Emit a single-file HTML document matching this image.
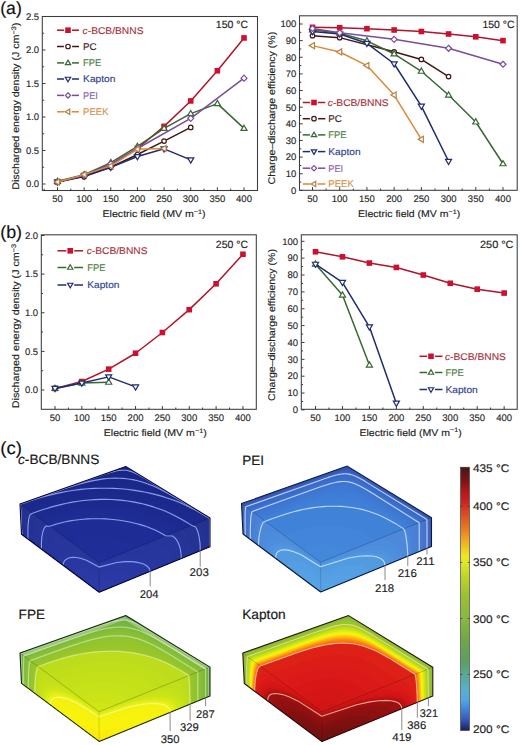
<!DOCTYPE html>
<html><head><meta charset="utf-8"><title>Figure</title>
<style>html,body{margin:0;padding:0;background:#fff;width:520px;height:745px;overflow:hidden}svg{display:block}text{stroke:currentColor;stroke-width:0.15px}</style>
</head><body>
<svg width="520" height="745" viewBox="0 0 520 745" font-family='"Liberation Sans", sans-serif' text-rendering="geometricPrecision">
<rect width="520" height="745" fill="#fff"/>
<text x="0.20" y="14.30" font-size="17.5" fill="#111" color="#111" textLength="21.60" lengthAdjust="spacingAndGlyphs">(a)</text><text x="0.20" y="238.10" font-size="17.5" fill="#111" color="#111" textLength="21.80" lengthAdjust="spacingAndGlyphs">(b)</text><text x="0.20" y="453.60" font-size="17.5" fill="#111" color="#111" textLength="21.70" lengthAdjust="spacingAndGlyphs">(c)</text>
<rect x="42.3" y="16.5" width="215.20" height="174.00" fill="none" stroke="#3c3c3c" stroke-width="1.05"/><line x1="57.50" y1="190.5" x2="57.50" y2="187.3" stroke="#3c3c3c" stroke-width="1"/><text x="57.50" y="201.60" font-size="9.5" fill="#2a2a2a" color="#2a2a2a" text-anchor="middle" >50</text><line x1="84.15" y1="190.5" x2="84.15" y2="187.3" stroke="#3c3c3c" stroke-width="1"/><text x="84.15" y="201.60" font-size="9.5" fill="#2a2a2a" color="#2a2a2a" text-anchor="middle" >100</text><line x1="110.79" y1="190.5" x2="110.79" y2="187.3" stroke="#3c3c3c" stroke-width="1"/><text x="110.79" y="201.60" font-size="9.5" fill="#2a2a2a" color="#2a2a2a" text-anchor="middle" >150</text><line x1="137.44" y1="190.5" x2="137.44" y2="187.3" stroke="#3c3c3c" stroke-width="1"/><text x="137.44" y="201.60" font-size="9.5" fill="#2a2a2a" color="#2a2a2a" text-anchor="middle" >200</text><line x1="164.08" y1="190.5" x2="164.08" y2="187.3" stroke="#3c3c3c" stroke-width="1"/><text x="164.08" y="201.60" font-size="9.5" fill="#2a2a2a" color="#2a2a2a" text-anchor="middle" >250</text><line x1="190.73" y1="190.5" x2="190.73" y2="187.3" stroke="#3c3c3c" stroke-width="1"/><text x="190.73" y="201.60" font-size="9.5" fill="#2a2a2a" color="#2a2a2a" text-anchor="middle" >300</text><line x1="217.37" y1="190.5" x2="217.37" y2="187.3" stroke="#3c3c3c" stroke-width="1"/><text x="217.37" y="201.60" font-size="9.5" fill="#2a2a2a" color="#2a2a2a" text-anchor="middle" >350</text><line x1="244.02" y1="190.5" x2="244.02" y2="187.3" stroke="#3c3c3c" stroke-width="1"/><text x="244.02" y="201.60" font-size="9.5" fill="#2a2a2a" color="#2a2a2a" text-anchor="middle" >400</text><line x1="44.18" y1="190.5" x2="44.18" y2="188.7" stroke="#3c3c3c" stroke-width="1"/><line x1="70.82" y1="190.5" x2="70.82" y2="188.7" stroke="#3c3c3c" stroke-width="1"/><line x1="97.47" y1="190.5" x2="97.47" y2="188.7" stroke="#3c3c3c" stroke-width="1"/><line x1="124.11" y1="190.5" x2="124.11" y2="188.7" stroke="#3c3c3c" stroke-width="1"/><line x1="150.76" y1="190.5" x2="150.76" y2="188.7" stroke="#3c3c3c" stroke-width="1"/><line x1="177.40" y1="190.5" x2="177.40" y2="188.7" stroke="#3c3c3c" stroke-width="1"/><line x1="204.05" y1="190.5" x2="204.05" y2="188.7" stroke="#3c3c3c" stroke-width="1"/><line x1="230.69" y1="190.5" x2="230.69" y2="188.7" stroke="#3c3c3c" stroke-width="1"/><line x1="42.3" y1="184.00" x2="45.5" y2="184.00" stroke="#3c3c3c" stroke-width="1"/><text x="39.10" y="187.30" font-size="9.5" fill="#2a2a2a" color="#2a2a2a" text-anchor="end" >0.0</text><line x1="42.3" y1="150.50" x2="45.5" y2="150.50" stroke="#3c3c3c" stroke-width="1"/><text x="39.10" y="153.80" font-size="9.5" fill="#2a2a2a" color="#2a2a2a" text-anchor="end" >0.5</text><line x1="42.3" y1="117.00" x2="45.5" y2="117.00" stroke="#3c3c3c" stroke-width="1"/><text x="39.10" y="120.30" font-size="9.5" fill="#2a2a2a" color="#2a2a2a" text-anchor="end" >1.0</text><line x1="42.3" y1="83.50" x2="45.5" y2="83.50" stroke="#3c3c3c" stroke-width="1"/><text x="39.10" y="86.80" font-size="9.5" fill="#2a2a2a" color="#2a2a2a" text-anchor="end" >1.5</text><line x1="42.3" y1="50.00" x2="45.5" y2="50.00" stroke="#3c3c3c" stroke-width="1"/><text x="39.10" y="53.30" font-size="9.5" fill="#2a2a2a" color="#2a2a2a" text-anchor="end" >2.0</text><line x1="42.3" y1="16.50" x2="45.5" y2="16.50" stroke="#3c3c3c" stroke-width="1"/><text x="39.10" y="19.80" font-size="9.5" fill="#2a2a2a" color="#2a2a2a" text-anchor="end" >2.5</text><line x1="42.3" y1="167.25" x2="44.099999999999994" y2="167.25" stroke="#3c3c3c" stroke-width="1"/><line x1="42.3" y1="133.75" x2="44.099999999999994" y2="133.75" stroke="#3c3c3c" stroke-width="1"/><line x1="42.3" y1="100.25" x2="44.099999999999994" y2="100.25" stroke="#3c3c3c" stroke-width="1"/><line x1="42.3" y1="66.75" x2="44.099999999999994" y2="66.75" stroke="#3c3c3c" stroke-width="1"/><line x1="42.3" y1="33.25" x2="44.099999999999994" y2="33.25" stroke="#3c3c3c" stroke-width="1"/><text x="102.50" y="217.10" font-size="9.7" fill="#222" color="#222" textLength="103.10" lengthAdjust="spacingAndGlyphs">Electric field (MV m<tspan dy="-3.4" font-size="6.6">&#8722;1</tspan><tspan dy="3.4">)</tspan></text><text x="0" y="0" font-size="9.7" fill="#222" color="#222" textLength="167.00" lengthAdjust="spacingAndGlyphs" transform="translate(19.4,189.7) rotate(-90)">Discharged energy density (J cm<tspan dy="-3.4" font-size="6.6">&#8722;3</tspan><tspan dy="3.4">)</tspan></text><polyline points="57.50,181.99 84.15,175.29 110.79,165.24 137.44,148.49 164.08,126.38 190.73,100.92 217.37,70.77 244.02,37.94" fill="none" stroke="#b0142a" stroke-width="1.5" stroke-linejoin="round"/><rect x="54.70" y="179.19" width="5.60" height="5.60" fill="#cc1030"/><rect x="81.35" y="172.49" width="5.60" height="5.60" fill="#cc1030"/><rect x="107.99" y="162.44" width="5.60" height="5.60" fill="#cc1030"/><rect x="134.63" y="145.69" width="5.60" height="5.60" fill="#cc1030"/><rect x="161.28" y="123.58" width="5.60" height="5.60" fill="#cc1030"/><rect x="187.93" y="98.12" width="5.60" height="5.60" fill="#cc1030"/><rect x="214.57" y="67.97" width="5.60" height="5.60" fill="#cc1030"/><rect x="241.22" y="35.14" width="5.60" height="5.60" fill="#cc1030"/><polyline points="57.50,181.99 84.15,176.63 110.79,167.25 137.44,154.52 164.08,141.12 190.73,127.39" fill="none" stroke="#401616" stroke-width="1.5" stroke-linejoin="round"/><circle cx="57.50" cy="181.99" r="2.25" fill="#fff" stroke="#401616" stroke-width="1.2"/><circle cx="84.15" cy="176.63" r="2.25" fill="#fff" stroke="#401616" stroke-width="1.2"/><circle cx="110.79" cy="167.25" r="2.25" fill="#fff" stroke="#401616" stroke-width="1.2"/><circle cx="137.44" cy="154.52" r="2.25" fill="#fff" stroke="#401616" stroke-width="1.2"/><circle cx="164.08" cy="141.12" r="2.25" fill="#fff" stroke="#401616" stroke-width="1.2"/><circle cx="190.73" cy="127.39" r="2.25" fill="#fff" stroke="#401616" stroke-width="1.2"/><polyline points="57.50,181.32 84.15,174.62 110.79,162.56 137.44,146.48 164.08,128.39 190.73,113.65 217.37,103.60 244.02,128.39" fill="none" stroke="#366832" stroke-width="1.5" stroke-linejoin="round"/><polygon points="57.50,178.12 60.54,183.30 54.46,183.30" fill="#fff" stroke="#366832" stroke-width="1.2"/><polygon points="84.15,171.42 87.19,176.60 81.11,176.60" fill="#fff" stroke="#366832" stroke-width="1.2"/><polygon points="110.79,159.36 113.83,164.54 107.75,164.54" fill="#fff" stroke="#366832" stroke-width="1.2"/><polygon points="137.44,143.28 140.47,148.46 134.40,148.46" fill="#fff" stroke="#366832" stroke-width="1.2"/><polygon points="164.08,125.19 167.12,130.37 161.04,130.37" fill="#fff" stroke="#366832" stroke-width="1.2"/><polygon points="190.73,110.45 193.77,115.63 187.69,115.63" fill="#fff" stroke="#366832" stroke-width="1.2"/><polygon points="217.37,100.40 220.41,105.58 214.33,105.58" fill="#fff" stroke="#366832" stroke-width="1.2"/><polygon points="244.02,125.19 247.06,130.37 240.98,130.37" fill="#fff" stroke="#366832" stroke-width="1.2"/><polyline points="57.50,181.99 84.15,175.96 110.79,167.25 137.44,156.53 164.08,148.82 190.73,159.88" fill="none" stroke="#1e2c72" stroke-width="1.5" stroke-linejoin="round"/><polygon points="57.50,185.19 60.54,180.01 54.46,180.01" fill="#fff" stroke="#1e2c72" stroke-width="1.2"/><polygon points="84.15,179.16 87.19,173.98 81.11,173.98" fill="#fff" stroke="#1e2c72" stroke-width="1.2"/><polygon points="110.79,170.45 113.83,165.27 107.75,165.27" fill="#fff" stroke="#1e2c72" stroke-width="1.2"/><polygon points="137.44,159.73 140.47,154.55 134.40,154.55" fill="#fff" stroke="#1e2c72" stroke-width="1.2"/><polygon points="164.08,152.02 167.12,146.84 161.04,146.84" fill="#fff" stroke="#1e2c72" stroke-width="1.2"/><polygon points="190.73,163.08 193.77,157.90 187.69,157.90" fill="#fff" stroke="#1e2c72" stroke-width="1.2"/><polyline points="57.50,181.99 84.15,175.29 110.79,163.90 137.44,148.49 190.73,118.34 244.02,78.14" fill="none" stroke="#7c4c9c" stroke-width="1.5" stroke-linejoin="round"/><polygon points="57.50,178.99 60.50,181.99 57.50,184.99 54.50,181.99" fill="#fff" stroke="#7c4c9c" stroke-width="1.2"/><polygon points="84.15,172.29 87.15,175.29 84.15,178.29 81.15,175.29" fill="#fff" stroke="#7c4c9c" stroke-width="1.2"/><polygon points="110.79,160.90 113.79,163.90 110.79,166.90 107.79,163.90" fill="#fff" stroke="#7c4c9c" stroke-width="1.2"/><polygon points="137.44,145.49 140.44,148.49 137.44,151.49 134.44,148.49" fill="#fff" stroke="#7c4c9c" stroke-width="1.2"/><polygon points="190.73,115.34 193.73,118.34 190.73,121.34 187.73,118.34" fill="#fff" stroke="#7c4c9c" stroke-width="1.2"/><polygon points="244.02,75.14 247.02,78.14 244.02,81.14 241.02,78.14" fill="#fff" stroke="#7c4c9c" stroke-width="1.2"/><polyline points="57.50,181.99 84.15,174.62 110.79,165.91 137.44,149.16 164.08,148.49" fill="none" stroke="#dc8a36" stroke-width="1.5" stroke-linejoin="round"/><polygon points="54.30,181.99 59.48,178.95 59.48,185.03" fill="#fff" stroke="#b88040" stroke-width="1.2"/><polygon points="80.95,174.62 86.13,171.58 86.13,177.66" fill="#fff" stroke="#b88040" stroke-width="1.2"/><polygon points="107.59,165.91 112.77,162.87 112.77,168.95" fill="#fff" stroke="#b88040" stroke-width="1.2"/><polygon points="134.24,149.16 139.42,146.12 139.42,152.20" fill="#fff" stroke="#b88040" stroke-width="1.2"/><polygon points="160.88,148.49 166.06,145.45 166.06,151.53" fill="#fff" stroke="#b88040" stroke-width="1.2"/><line x1="57" y1="30.20" x2="64.05" y2="30.20" stroke="#b0142a" stroke-width="1.5"/><line x1="71.95" y1="30.20" x2="79" y2="30.20" stroke="#b0142a" stroke-width="1.5"/><rect x="65.20" y="27.40" width="5.60" height="5.60" fill="#cc1030"/><text x="82.60" y="33.50" font-size="9.7" fill="#a83440" color="#a83440" textLength="60.90" lengthAdjust="spacingAndGlyphs"><tspan font-style="italic">c</tspan>-BCB/BNNS</text><line x1="57" y1="46.50" x2="63.90" y2="46.50" stroke="#401616" stroke-width="1.5"/><line x1="72.10" y1="46.50" x2="79" y2="46.50" stroke="#401616" stroke-width="1.5"/><circle cx="68.00" cy="46.50" r="2.25" fill="#fff" stroke="#401616" stroke-width="1.2"/><text x="83.10" y="49.80" font-size="9.7" fill="#3e2424" color="#3e2424" textLength="13.60" lengthAdjust="spacingAndGlyphs">PC</text><line x1="57" y1="62.90" x2="64.06" y2="62.90" stroke="#366832" stroke-width="1.5"/><line x1="71.94" y1="62.90" x2="79" y2="62.90" stroke="#366832" stroke-width="1.5"/><polygon points="68.00,60.08 70.68,64.65 65.32,64.65" fill="#fff" stroke="#366832" stroke-width="1.2"/><text x="83.10" y="66.20" font-size="9.7" fill="#4c7e44" color="#4c7e44" textLength="18.30" lengthAdjust="spacingAndGlyphs">FPE</text><line x1="57" y1="79.00" x2="64.06" y2="79.00" stroke="#1e2c72" stroke-width="1.5"/><line x1="71.94" y1="79.00" x2="79" y2="79.00" stroke="#1e2c72" stroke-width="1.5"/><polygon points="68.00,81.82 70.68,77.25 65.32,77.25" fill="#fff" stroke="#1e2c72" stroke-width="1.2"/><text x="83.10" y="82.30" font-size="9.7" fill="#2e4290" color="#2e4290" textLength="32.30" lengthAdjust="spacingAndGlyphs">Kapton</text><line x1="57" y1="95.40" x2="64.06" y2="95.40" stroke="#7c4c9c" stroke-width="1.5"/><line x1="71.94" y1="95.40" x2="79" y2="95.40" stroke="#7c4c9c" stroke-width="1.5"/><polygon points="68.00,92.76 70.64,95.40 68.00,98.04 65.36,95.40" fill="#fff" stroke="#7c4c9c" stroke-width="1.2"/><text x="83.10" y="98.70" font-size="9.7" fill="#8a62a8" color="#8a62a8" textLength="14.80" lengthAdjust="spacingAndGlyphs">PEI</text><line x1="57" y1="111.80" x2="64.41" y2="111.80" stroke="#dc8a36" stroke-width="1.5"/><line x1="71.59" y1="111.80" x2="79" y2="111.80" stroke="#dc8a36" stroke-width="1.5"/><polygon points="65.18,111.80 69.75,109.12 69.75,114.48" fill="#fff" stroke="#b88040" stroke-width="1.2"/><text x="83.10" y="115.10" font-size="9.7" fill="#d8924a" color="#d8924a" textLength="25.50" lengthAdjust="spacingAndGlyphs">PEEK</text><text x="215.80" y="27.80" font-size="10.5" fill="#222" color="#222" textLength="32.20" lengthAdjust="spacingAndGlyphs">150 &#176;C</text>
<rect x="299.5" y="15.8" width="217.70" height="174.50" fill="none" stroke="#3c3c3c" stroke-width="1.05"/><line x1="312.50" y1="190.3" x2="312.50" y2="187.10000000000002" stroke="#3c3c3c" stroke-width="1"/><text x="312.50" y="201.60" font-size="9.5" fill="#2a2a2a" color="#2a2a2a" text-anchor="middle" >50</text><line x1="339.71" y1="190.3" x2="339.71" y2="187.10000000000002" stroke="#3c3c3c" stroke-width="1"/><text x="339.71" y="201.60" font-size="9.5" fill="#2a2a2a" color="#2a2a2a" text-anchor="middle" >100</text><line x1="366.93" y1="190.3" x2="366.93" y2="187.10000000000002" stroke="#3c3c3c" stroke-width="1"/><text x="366.93" y="201.60" font-size="9.5" fill="#2a2a2a" color="#2a2a2a" text-anchor="middle" >150</text><line x1="394.14" y1="190.3" x2="394.14" y2="187.10000000000002" stroke="#3c3c3c" stroke-width="1"/><text x="394.14" y="201.60" font-size="9.5" fill="#2a2a2a" color="#2a2a2a" text-anchor="middle" >200</text><line x1="421.36" y1="190.3" x2="421.36" y2="187.10000000000002" stroke="#3c3c3c" stroke-width="1"/><text x="421.36" y="201.60" font-size="9.5" fill="#2a2a2a" color="#2a2a2a" text-anchor="middle" >250</text><line x1="448.57" y1="190.3" x2="448.57" y2="187.10000000000002" stroke="#3c3c3c" stroke-width="1"/><text x="448.57" y="201.60" font-size="9.5" fill="#2a2a2a" color="#2a2a2a" text-anchor="middle" >300</text><line x1="475.79" y1="190.3" x2="475.79" y2="187.10000000000002" stroke="#3c3c3c" stroke-width="1"/><text x="475.79" y="201.60" font-size="9.5" fill="#2a2a2a" color="#2a2a2a" text-anchor="middle" >350</text><line x1="503.00" y1="190.3" x2="503.00" y2="187.10000000000002" stroke="#3c3c3c" stroke-width="1"/><text x="503.00" y="201.60" font-size="9.5" fill="#2a2a2a" color="#2a2a2a" text-anchor="middle" >400</text><line x1="326.11" y1="190.3" x2="326.11" y2="188.5" stroke="#3c3c3c" stroke-width="1"/><line x1="353.32" y1="190.3" x2="353.32" y2="188.5" stroke="#3c3c3c" stroke-width="1"/><line x1="380.54" y1="190.3" x2="380.54" y2="188.5" stroke="#3c3c3c" stroke-width="1"/><line x1="407.75" y1="190.3" x2="407.75" y2="188.5" stroke="#3c3c3c" stroke-width="1"/><line x1="434.97" y1="190.3" x2="434.97" y2="188.5" stroke="#3c3c3c" stroke-width="1"/><line x1="462.18" y1="190.3" x2="462.18" y2="188.5" stroke="#3c3c3c" stroke-width="1"/><line x1="489.40" y1="190.3" x2="489.40" y2="188.5" stroke="#3c3c3c" stroke-width="1"/><line x1="299.5" y1="190.40" x2="302.7" y2="190.40" stroke="#3c3c3c" stroke-width="1"/><text x="296.30" y="193.70" font-size="9.5" fill="#2a2a2a" color="#2a2a2a" text-anchor="end" >0</text><line x1="299.5" y1="173.76" x2="302.7" y2="173.76" stroke="#3c3c3c" stroke-width="1"/><text x="296.30" y="177.06" font-size="9.5" fill="#2a2a2a" color="#2a2a2a" text-anchor="end" >10</text><line x1="299.5" y1="157.12" x2="302.7" y2="157.12" stroke="#3c3c3c" stroke-width="1"/><text x="296.30" y="160.42" font-size="9.5" fill="#2a2a2a" color="#2a2a2a" text-anchor="end" >20</text><line x1="299.5" y1="140.48" x2="302.7" y2="140.48" stroke="#3c3c3c" stroke-width="1"/><text x="296.30" y="143.78" font-size="9.5" fill="#2a2a2a" color="#2a2a2a" text-anchor="end" >30</text><line x1="299.5" y1="123.84" x2="302.7" y2="123.84" stroke="#3c3c3c" stroke-width="1"/><text x="296.30" y="127.14" font-size="9.5" fill="#2a2a2a" color="#2a2a2a" text-anchor="end" >40</text><line x1="299.5" y1="107.20" x2="302.7" y2="107.20" stroke="#3c3c3c" stroke-width="1"/><text x="296.30" y="110.50" font-size="9.5" fill="#2a2a2a" color="#2a2a2a" text-anchor="end" >50</text><line x1="299.5" y1="90.56" x2="302.7" y2="90.56" stroke="#3c3c3c" stroke-width="1"/><text x="296.30" y="93.86" font-size="9.5" fill="#2a2a2a" color="#2a2a2a" text-anchor="end" >60</text><line x1="299.5" y1="73.92" x2="302.7" y2="73.92" stroke="#3c3c3c" stroke-width="1"/><text x="296.30" y="77.22" font-size="9.5" fill="#2a2a2a" color="#2a2a2a" text-anchor="end" >70</text><line x1="299.5" y1="57.28" x2="302.7" y2="57.28" stroke="#3c3c3c" stroke-width="1"/><text x="296.30" y="60.58" font-size="9.5" fill="#2a2a2a" color="#2a2a2a" text-anchor="end" >80</text><line x1="299.5" y1="40.64" x2="302.7" y2="40.64" stroke="#3c3c3c" stroke-width="1"/><text x="296.30" y="43.94" font-size="9.5" fill="#2a2a2a" color="#2a2a2a" text-anchor="end" >90</text><line x1="299.5" y1="24.00" x2="302.7" y2="24.00" stroke="#3c3c3c" stroke-width="1"/><text x="296.30" y="27.30" font-size="9.5" fill="#2a2a2a" color="#2a2a2a" text-anchor="end" >100</text><line x1="299.5" y1="182.08" x2="301.3" y2="182.08" stroke="#3c3c3c" stroke-width="1"/><line x1="299.5" y1="165.44" x2="301.3" y2="165.44" stroke="#3c3c3c" stroke-width="1"/><line x1="299.5" y1="148.80" x2="301.3" y2="148.80" stroke="#3c3c3c" stroke-width="1"/><line x1="299.5" y1="132.16" x2="301.3" y2="132.16" stroke="#3c3c3c" stroke-width="1"/><line x1="299.5" y1="115.52" x2="301.3" y2="115.52" stroke="#3c3c3c" stroke-width="1"/><line x1="299.5" y1="98.88" x2="301.3" y2="98.88" stroke="#3c3c3c" stroke-width="1"/><line x1="299.5" y1="82.24" x2="301.3" y2="82.24" stroke="#3c3c3c" stroke-width="1"/><line x1="299.5" y1="65.60" x2="301.3" y2="65.60" stroke="#3c3c3c" stroke-width="1"/><line x1="299.5" y1="48.96" x2="301.3" y2="48.96" stroke="#3c3c3c" stroke-width="1"/><line x1="299.5" y1="32.32" x2="301.3" y2="32.32" stroke="#3c3c3c" stroke-width="1"/><text x="358.10" y="216.90" font-size="9.7" fill="#222" color="#222" textLength="102.10" lengthAdjust="spacingAndGlyphs">Electric field (MV m<tspan dy="-3.4" font-size="6.6">&#8722;1</tspan><tspan dy="3.4">)</tspan></text><text x="0" y="0" font-size="9.7" fill="#222" color="#222" textLength="152.70" lengthAdjust="spacingAndGlyphs" transform="translate(275.2,184.4) rotate(-90)">Charge&#8211;discharge efficiency (%)</text><polyline points="312.50,27.33 339.71,27.66 366.93,28.66 394.14,29.99 421.36,31.49 448.57,33.98 475.79,36.81 503.00,40.64" fill="none" stroke="#b0142a" stroke-width="1.5" stroke-linejoin="round"/><rect x="309.70" y="24.53" width="5.60" height="5.60" fill="#cc1030"/><rect x="336.91" y="24.86" width="5.60" height="5.60" fill="#cc1030"/><rect x="364.13" y="25.86" width="5.60" height="5.60" fill="#cc1030"/><rect x="391.34" y="27.19" width="5.60" height="5.60" fill="#cc1030"/><rect x="418.56" y="28.69" width="5.60" height="5.60" fill="#cc1030"/><rect x="445.77" y="31.18" width="5.60" height="5.60" fill="#cc1030"/><rect x="472.99" y="34.01" width="5.60" height="5.60" fill="#cc1030"/><rect x="500.20" y="37.84" width="5.60" height="5.60" fill="#cc1030"/><polyline points="312.50,35.65 339.71,37.64 394.14,51.79 421.36,59.44 448.57,76.58" fill="none" stroke="#401616" stroke-width="1.5" stroke-linejoin="round"/><circle cx="312.50" cy="35.65" r="2.25" fill="#fff" stroke="#401616" stroke-width="1.2"/><circle cx="339.71" cy="37.64" r="2.25" fill="#fff" stroke="#401616" stroke-width="1.2"/><circle cx="394.14" cy="51.79" r="2.25" fill="#fff" stroke="#401616" stroke-width="1.2"/><circle cx="421.36" cy="59.44" r="2.25" fill="#fff" stroke="#401616" stroke-width="1.2"/><circle cx="448.57" cy="76.58" r="2.25" fill="#fff" stroke="#401616" stroke-width="1.2"/><polyline points="312.50,29.82 339.71,33.15 366.93,40.81 394.14,53.95 421.36,71.26 448.57,95.05 475.79,122.01 503.00,163.78" fill="none" stroke="#366832" stroke-width="1.5" stroke-linejoin="round"/><polygon points="312.50,26.62 315.54,31.81 309.46,31.81" fill="#fff" stroke="#366832" stroke-width="1.2"/><polygon points="339.71,29.95 342.75,35.14 336.67,35.14" fill="#fff" stroke="#366832" stroke-width="1.2"/><polygon points="366.93,37.61 369.97,42.79 363.89,42.79" fill="#fff" stroke="#366832" stroke-width="1.2"/><polygon points="394.14,50.75 397.19,55.94 391.10,55.94" fill="#fff" stroke="#366832" stroke-width="1.2"/><polygon points="421.36,68.06 424.40,73.24 418.32,73.24" fill="#fff" stroke="#366832" stroke-width="1.2"/><polygon points="448.57,91.85 451.62,97.04 445.53,97.04" fill="#fff" stroke="#366832" stroke-width="1.2"/><polygon points="475.79,118.81 478.83,123.99 472.75,123.99" fill="#fff" stroke="#366832" stroke-width="1.2"/><polygon points="503.00,160.58 506.05,165.76 499.96,165.76" fill="#fff" stroke="#366832" stroke-width="1.2"/><polyline points="312.50,31.49 339.71,33.98 366.93,43.30 394.14,63.77 421.36,106.20 448.57,161.28" fill="none" stroke="#1e2c72" stroke-width="1.5" stroke-linejoin="round"/><polygon points="312.50,34.69 315.54,29.50 309.46,29.50" fill="#fff" stroke="#1e2c72" stroke-width="1.2"/><polygon points="339.71,37.18 342.75,32.00 336.67,32.00" fill="#fff" stroke="#1e2c72" stroke-width="1.2"/><polygon points="366.93,46.50 369.97,41.32 363.89,41.32" fill="#fff" stroke="#1e2c72" stroke-width="1.2"/><polygon points="394.14,66.97 397.19,61.79 391.10,61.79" fill="#fff" stroke="#1e2c72" stroke-width="1.2"/><polygon points="421.36,109.40 424.40,104.22 418.32,104.22" fill="#fff" stroke="#1e2c72" stroke-width="1.2"/><polygon points="448.57,164.48 451.62,159.30 445.53,159.30" fill="#fff" stroke="#1e2c72" stroke-width="1.2"/><polyline points="312.50,28.49 339.71,32.82 394.14,39.31 448.57,48.29 503.00,64.27" fill="none" stroke="#7c4c9c" stroke-width="1.5" stroke-linejoin="round"/><polygon points="312.50,25.49 315.50,28.49 312.50,31.49 309.50,28.49" fill="#fff" stroke="#7c4c9c" stroke-width="1.2"/><polygon points="339.71,29.82 342.71,32.82 339.71,35.82 336.71,32.82" fill="#fff" stroke="#7c4c9c" stroke-width="1.2"/><polygon points="394.14,36.31 397.14,39.31 394.14,42.31 391.14,39.31" fill="#fff" stroke="#7c4c9c" stroke-width="1.2"/><polygon points="448.57,45.29 451.57,48.29 448.57,51.29 445.57,48.29" fill="#fff" stroke="#7c4c9c" stroke-width="1.2"/><polygon points="503.00,61.27 506.00,64.27 503.00,67.27 500.00,64.27" fill="#fff" stroke="#7c4c9c" stroke-width="1.2"/><polyline points="312.50,45.63 339.71,51.96 366.93,65.60 394.14,95.05 421.36,139.32" fill="none" stroke="#dc8a36" stroke-width="1.5" stroke-linejoin="round"/><polygon points="309.30,45.63 314.48,42.59 314.48,48.67" fill="#fff" stroke="#b88040" stroke-width="1.2"/><polygon points="336.51,51.96 341.70,48.92 341.70,55.00" fill="#fff" stroke="#b88040" stroke-width="1.2"/><polygon points="363.73,65.60 368.91,62.56 368.91,68.64" fill="#fff" stroke="#b88040" stroke-width="1.2"/><polygon points="390.94,95.05 396.13,92.01 396.13,98.09" fill="#fff" stroke="#b88040" stroke-width="1.2"/><polygon points="418.16,139.32 423.34,136.28 423.34,142.36" fill="#fff" stroke="#b88040" stroke-width="1.2"/><line x1="302.7" y1="102.50" x2="310.05" y2="102.50" stroke="#b0142a" stroke-width="1.5"/><line x1="317.95" y1="102.50" x2="325.3" y2="102.50" stroke="#b0142a" stroke-width="1.5"/><rect x="311.20" y="99.70" width="5.60" height="5.60" fill="#cc1030"/><text x="327.80" y="105.80" font-size="9.7" fill="#a83440" color="#a83440" textLength="60.90" lengthAdjust="spacingAndGlyphs"><tspan font-style="italic">c</tspan>-BCB/BNNS</text><line x1="302.7" y1="118.70" x2="309.90" y2="118.70" stroke="#401616" stroke-width="1.5"/><line x1="318.10" y1="118.70" x2="325.3" y2="118.70" stroke="#401616" stroke-width="1.5"/><circle cx="314.00" cy="118.70" r="2.25" fill="#fff" stroke="#401616" stroke-width="1.2"/><text x="328.30" y="122.00" font-size="9.7" fill="#3e2424" color="#3e2424" textLength="13.60" lengthAdjust="spacingAndGlyphs">PC</text><line x1="302.7" y1="134.90" x2="310.06" y2="134.90" stroke="#366832" stroke-width="1.5"/><line x1="317.94" y1="134.90" x2="325.3" y2="134.90" stroke="#366832" stroke-width="1.5"/><polygon points="314.00,132.08 316.68,136.65 311.32,136.65" fill="#fff" stroke="#366832" stroke-width="1.2"/><text x="328.30" y="138.20" font-size="9.7" fill="#4c7e44" color="#4c7e44" textLength="18.30" lengthAdjust="spacingAndGlyphs">FPE</text><line x1="302.7" y1="151.60" x2="310.06" y2="151.60" stroke="#1e2c72" stroke-width="1.5"/><line x1="317.94" y1="151.60" x2="325.3" y2="151.60" stroke="#1e2c72" stroke-width="1.5"/><polygon points="314.00,154.42 316.68,149.85 311.32,149.85" fill="#fff" stroke="#1e2c72" stroke-width="1.2"/><text x="328.30" y="154.90" font-size="9.7" fill="#2e4290" color="#2e4290" textLength="32.30" lengthAdjust="spacingAndGlyphs">Kapton</text><line x1="302.7" y1="168.20" x2="310.06" y2="168.20" stroke="#7c4c9c" stroke-width="1.5"/><line x1="317.94" y1="168.20" x2="325.3" y2="168.20" stroke="#7c4c9c" stroke-width="1.5"/><polygon points="314.00,165.56 316.64,168.20 314.00,170.84 311.36,168.20" fill="#fff" stroke="#7c4c9c" stroke-width="1.2"/><text x="328.30" y="171.50" font-size="9.7" fill="#8a62a8" color="#8a62a8" textLength="14.80" lengthAdjust="spacingAndGlyphs">PEI</text><line x1="302.7" y1="184.00" x2="310.41" y2="184.00" stroke="#dc8a36" stroke-width="1.5"/><line x1="317.59" y1="184.00" x2="325.3" y2="184.00" stroke="#dc8a36" stroke-width="1.5"/><polygon points="311.18,184.00 315.75,181.32 315.75,186.68" fill="#fff" stroke="#b88040" stroke-width="1.2"/><text x="328.30" y="187.30" font-size="9.7" fill="#d8924a" color="#d8924a" textLength="25.50" lengthAdjust="spacingAndGlyphs">PEEK</text><text x="482.50" y="27.80" font-size="10.5" fill="#222" color="#222" textLength="32.00" lengthAdjust="spacingAndGlyphs">150 &#176;C</text>
<rect x="41.3" y="234.8" width="215.00" height="174.50" fill="none" stroke="#3c3c3c" stroke-width="1.05"/><line x1="55.00" y1="409.3" x2="55.00" y2="406.1" stroke="#3c3c3c" stroke-width="1"/><text x="55.00" y="421.30" font-size="9.5" fill="#2a2a2a" color="#2a2a2a" text-anchor="middle" >50</text><line x1="81.85" y1="409.3" x2="81.85" y2="406.1" stroke="#3c3c3c" stroke-width="1"/><text x="81.85" y="421.30" font-size="9.5" fill="#2a2a2a" color="#2a2a2a" text-anchor="middle" >100</text><line x1="108.70" y1="409.3" x2="108.70" y2="406.1" stroke="#3c3c3c" stroke-width="1"/><text x="108.70" y="421.30" font-size="9.5" fill="#2a2a2a" color="#2a2a2a" text-anchor="middle" >150</text><line x1="135.55" y1="409.3" x2="135.55" y2="406.1" stroke="#3c3c3c" stroke-width="1"/><text x="135.55" y="421.30" font-size="9.5" fill="#2a2a2a" color="#2a2a2a" text-anchor="middle" >200</text><line x1="162.40" y1="409.3" x2="162.40" y2="406.1" stroke="#3c3c3c" stroke-width="1"/><text x="162.40" y="421.30" font-size="9.5" fill="#2a2a2a" color="#2a2a2a" text-anchor="middle" >250</text><line x1="189.25" y1="409.3" x2="189.25" y2="406.1" stroke="#3c3c3c" stroke-width="1"/><text x="189.25" y="421.30" font-size="9.5" fill="#2a2a2a" color="#2a2a2a" text-anchor="middle" >300</text><line x1="216.10" y1="409.3" x2="216.10" y2="406.1" stroke="#3c3c3c" stroke-width="1"/><text x="216.10" y="421.30" font-size="9.5" fill="#2a2a2a" color="#2a2a2a" text-anchor="middle" >350</text><line x1="242.95" y1="409.3" x2="242.95" y2="406.1" stroke="#3c3c3c" stroke-width="1"/><text x="242.95" y="421.30" font-size="9.5" fill="#2a2a2a" color="#2a2a2a" text-anchor="middle" >400</text><line x1="68.42" y1="409.3" x2="68.42" y2="407.5" stroke="#3c3c3c" stroke-width="1"/><line x1="95.28" y1="409.3" x2="95.28" y2="407.5" stroke="#3c3c3c" stroke-width="1"/><line x1="122.12" y1="409.3" x2="122.12" y2="407.5" stroke="#3c3c3c" stroke-width="1"/><line x1="148.98" y1="409.3" x2="148.98" y2="407.5" stroke="#3c3c3c" stroke-width="1"/><line x1="175.82" y1="409.3" x2="175.82" y2="407.5" stroke="#3c3c3c" stroke-width="1"/><line x1="202.68" y1="409.3" x2="202.68" y2="407.5" stroke="#3c3c3c" stroke-width="1"/><line x1="229.53" y1="409.3" x2="229.53" y2="407.5" stroke="#3c3c3c" stroke-width="1"/><line x1="41.3" y1="390.00" x2="44.5" y2="390.00" stroke="#3c3c3c" stroke-width="1"/><text x="38.10" y="393.30" font-size="9.5" fill="#2a2a2a" color="#2a2a2a" text-anchor="end" >0.0</text><line x1="41.3" y1="351.38" x2="44.5" y2="351.38" stroke="#3c3c3c" stroke-width="1"/><text x="38.10" y="354.68" font-size="9.5" fill="#2a2a2a" color="#2a2a2a" text-anchor="end" >0.5</text><line x1="41.3" y1="312.75" x2="44.5" y2="312.75" stroke="#3c3c3c" stroke-width="1"/><text x="38.10" y="316.05" font-size="9.5" fill="#2a2a2a" color="#2a2a2a" text-anchor="end" >1.0</text><line x1="41.3" y1="274.12" x2="44.5" y2="274.12" stroke="#3c3c3c" stroke-width="1"/><text x="38.10" y="277.43" font-size="9.5" fill="#2a2a2a" color="#2a2a2a" text-anchor="end" >1.5</text><line x1="41.3" y1="235.50" x2="44.5" y2="235.50" stroke="#3c3c3c" stroke-width="1"/><text x="38.10" y="238.80" font-size="9.5" fill="#2a2a2a" color="#2a2a2a" text-anchor="end" >2.0</text><line x1="41.3" y1="370.69" x2="43.099999999999994" y2="370.69" stroke="#3c3c3c" stroke-width="1"/><line x1="41.3" y1="332.06" x2="43.099999999999994" y2="332.06" stroke="#3c3c3c" stroke-width="1"/><line x1="41.3" y1="293.44" x2="43.099999999999994" y2="293.44" stroke="#3c3c3c" stroke-width="1"/><line x1="41.3" y1="254.81" x2="43.099999999999994" y2="254.81" stroke="#3c3c3c" stroke-width="1"/><text x="103.75" y="436.30" font-size="9.7" fill="#222" color="#222" textLength="102.95" lengthAdjust="spacingAndGlyphs">Electric field (MV m<tspan dy="-3.4" font-size="6.6">&#8722;1</tspan><tspan dy="3.4">)</tspan></text><text x="0" y="0" font-size="9.7" fill="#222" color="#222" textLength="164.30" lengthAdjust="spacingAndGlyphs" transform="translate(19.4,408.2) rotate(-90)">Discharged energy density (J cm<tspan dy="-3.4" font-size="6.6">&#8722;3</tspan></text><polyline points="55.00,388.45 81.85,381.50 108.70,369.14 135.55,353.23 162.40,332.53 189.25,309.66 216.10,283.78 242.95,254.27" fill="none" stroke="#b0142a" stroke-width="1.5" stroke-linejoin="round"/><rect x="52.20" y="385.65" width="5.60" height="5.60" fill="#cc1030"/><rect x="79.05" y="378.70" width="5.60" height="5.60" fill="#cc1030"/><rect x="105.90" y="366.34" width="5.60" height="5.60" fill="#cc1030"/><rect x="132.75" y="350.43" width="5.60" height="5.60" fill="#cc1030"/><rect x="159.60" y="329.73" width="5.60" height="5.60" fill="#cc1030"/><rect x="186.45" y="306.86" width="5.60" height="5.60" fill="#cc1030"/><rect x="213.30" y="280.98" width="5.60" height="5.60" fill="#cc1030"/><rect x="240.15" y="251.47" width="5.60" height="5.60" fill="#cc1030"/><polyline points="55.00,388.45 81.85,383.05 108.70,382.27" fill="none" stroke="#366832" stroke-width="1.5" stroke-linejoin="round"/><polygon points="55.00,385.25 58.04,390.44 51.96,390.44" fill="#fff" stroke="#366832" stroke-width="1.2"/><polygon points="81.85,379.85 84.89,385.03 78.81,385.03" fill="#fff" stroke="#366832" stroke-width="1.2"/><polygon points="108.70,379.07 111.74,384.26 105.66,384.26" fill="#fff" stroke="#366832" stroke-width="1.2"/><polyline points="55.00,388.45 81.85,383.05 108.70,376.87 135.55,386.91" fill="none" stroke="#1e2c72" stroke-width="1.5" stroke-linejoin="round"/><polygon points="55.00,391.65 58.04,386.47 51.96,386.47" fill="#fff" stroke="#1e2c72" stroke-width="1.2"/><polygon points="81.85,386.25 84.89,381.06 78.81,381.06" fill="#fff" stroke="#1e2c72" stroke-width="1.2"/><polygon points="108.70,380.07 111.74,374.88 105.66,374.88" fill="#fff" stroke="#1e2c72" stroke-width="1.2"/><polygon points="135.55,390.11 138.59,384.93 132.51,384.93" fill="#fff" stroke="#1e2c72" stroke-width="1.2"/><line x1="57.5" y1="250.80" x2="66.30" y2="250.80" stroke="#b0142a" stroke-width="1.5"/><line x1="74.20" y1="250.80" x2="83" y2="250.80" stroke="#b0142a" stroke-width="1.5"/><rect x="67.45" y="248.00" width="5.60" height="5.60" fill="#cc1030"/><text x="86.70" y="254.10" font-size="9.7" fill="#a83440" color="#a83440" textLength="60.90" lengthAdjust="spacingAndGlyphs"><tspan font-style="italic">c</tspan>-BCB/BNNS</text><line x1="57.5" y1="267.50" x2="66.31" y2="267.50" stroke="#366832" stroke-width="1.5"/><line x1="74.19" y1="267.50" x2="83" y2="267.50" stroke="#366832" stroke-width="1.5"/><polygon points="70.25,264.68 72.93,269.25 67.57,269.25" fill="#fff" stroke="#366832" stroke-width="1.2"/><text x="87.20" y="270.80" font-size="9.7" fill="#4c7e44" color="#4c7e44" textLength="18.30" lengthAdjust="spacingAndGlyphs">FPE</text><line x1="57.5" y1="285.00" x2="66.31" y2="285.00" stroke="#1e2c72" stroke-width="1.5"/><line x1="74.19" y1="285.00" x2="83" y2="285.00" stroke="#1e2c72" stroke-width="1.5"/><polygon points="70.25,287.82 72.93,283.25 67.57,283.25" fill="#fff" stroke="#1e2c72" stroke-width="1.2"/><text x="87.20" y="288.30" font-size="9.7" fill="#2e4290" color="#2e4290" textLength="32.30" lengthAdjust="spacingAndGlyphs">Kapton</text><text x="215.80" y="248.20" font-size="10.5" fill="#222" color="#222" textLength="32.20" lengthAdjust="spacingAndGlyphs">250 &#176;C</text>
<rect x="301.3" y="234.8" width="215.90" height="174.50" fill="none" stroke="#3c3c3c" stroke-width="1.05"/><line x1="315.50" y1="409.3" x2="315.50" y2="406.1" stroke="#3c3c3c" stroke-width="1"/><text x="315.50" y="421.30" font-size="9.5" fill="#2a2a2a" color="#2a2a2a" text-anchor="middle" >50</text><line x1="342.45" y1="409.3" x2="342.45" y2="406.1" stroke="#3c3c3c" stroke-width="1"/><text x="342.45" y="421.30" font-size="9.5" fill="#2a2a2a" color="#2a2a2a" text-anchor="middle" >100</text><line x1="369.40" y1="409.3" x2="369.40" y2="406.1" stroke="#3c3c3c" stroke-width="1"/><text x="369.40" y="421.30" font-size="9.5" fill="#2a2a2a" color="#2a2a2a" text-anchor="middle" >150</text><line x1="396.35" y1="409.3" x2="396.35" y2="406.1" stroke="#3c3c3c" stroke-width="1"/><text x="396.35" y="421.30" font-size="9.5" fill="#2a2a2a" color="#2a2a2a" text-anchor="middle" >200</text><line x1="423.30" y1="409.3" x2="423.30" y2="406.1" stroke="#3c3c3c" stroke-width="1"/><text x="423.30" y="421.30" font-size="9.5" fill="#2a2a2a" color="#2a2a2a" text-anchor="middle" >250</text><line x1="450.25" y1="409.3" x2="450.25" y2="406.1" stroke="#3c3c3c" stroke-width="1"/><text x="450.25" y="421.30" font-size="9.5" fill="#2a2a2a" color="#2a2a2a" text-anchor="middle" >300</text><line x1="477.20" y1="409.3" x2="477.20" y2="406.1" stroke="#3c3c3c" stroke-width="1"/><text x="477.20" y="421.30" font-size="9.5" fill="#2a2a2a" color="#2a2a2a" text-anchor="middle" >350</text><line x1="504.15" y1="409.3" x2="504.15" y2="406.1" stroke="#3c3c3c" stroke-width="1"/><text x="504.15" y="421.30" font-size="9.5" fill="#2a2a2a" color="#2a2a2a" text-anchor="middle" >400</text><line x1="328.98" y1="409.3" x2="328.98" y2="407.5" stroke="#3c3c3c" stroke-width="1"/><line x1="355.93" y1="409.3" x2="355.93" y2="407.5" stroke="#3c3c3c" stroke-width="1"/><line x1="382.88" y1="409.3" x2="382.88" y2="407.5" stroke="#3c3c3c" stroke-width="1"/><line x1="409.82" y1="409.3" x2="409.82" y2="407.5" stroke="#3c3c3c" stroke-width="1"/><line x1="436.77" y1="409.3" x2="436.77" y2="407.5" stroke="#3c3c3c" stroke-width="1"/><line x1="463.73" y1="409.3" x2="463.73" y2="407.5" stroke="#3c3c3c" stroke-width="1"/><line x1="490.68" y1="409.3" x2="490.68" y2="407.5" stroke="#3c3c3c" stroke-width="1"/><line x1="301.3" y1="409.90" x2="304.5" y2="409.90" stroke="#3c3c3c" stroke-width="1"/><text x="298.10" y="413.20" font-size="9.5" fill="#2a2a2a" color="#2a2a2a" text-anchor="end" >0</text><line x1="301.3" y1="393.04" x2="304.5" y2="393.04" stroke="#3c3c3c" stroke-width="1"/><text x="298.10" y="396.34" font-size="9.5" fill="#2a2a2a" color="#2a2a2a" text-anchor="end" >10</text><line x1="301.3" y1="376.18" x2="304.5" y2="376.18" stroke="#3c3c3c" stroke-width="1"/><text x="298.10" y="379.48" font-size="9.5" fill="#2a2a2a" color="#2a2a2a" text-anchor="end" >20</text><line x1="301.3" y1="359.32" x2="304.5" y2="359.32" stroke="#3c3c3c" stroke-width="1"/><text x="298.10" y="362.62" font-size="9.5" fill="#2a2a2a" color="#2a2a2a" text-anchor="end" >30</text><line x1="301.3" y1="342.46" x2="304.5" y2="342.46" stroke="#3c3c3c" stroke-width="1"/><text x="298.10" y="345.76" font-size="9.5" fill="#2a2a2a" color="#2a2a2a" text-anchor="end" >40</text><line x1="301.3" y1="325.60" x2="304.5" y2="325.60" stroke="#3c3c3c" stroke-width="1"/><text x="298.10" y="328.90" font-size="9.5" fill="#2a2a2a" color="#2a2a2a" text-anchor="end" >50</text><line x1="301.3" y1="308.74" x2="304.5" y2="308.74" stroke="#3c3c3c" stroke-width="1"/><text x="298.10" y="312.04" font-size="9.5" fill="#2a2a2a" color="#2a2a2a" text-anchor="end" >60</text><line x1="301.3" y1="291.88" x2="304.5" y2="291.88" stroke="#3c3c3c" stroke-width="1"/><text x="298.10" y="295.18" font-size="9.5" fill="#2a2a2a" color="#2a2a2a" text-anchor="end" >70</text><line x1="301.3" y1="275.02" x2="304.5" y2="275.02" stroke="#3c3c3c" stroke-width="1"/><text x="298.10" y="278.32" font-size="9.5" fill="#2a2a2a" color="#2a2a2a" text-anchor="end" >80</text><line x1="301.3" y1="258.16" x2="304.5" y2="258.16" stroke="#3c3c3c" stroke-width="1"/><text x="298.10" y="261.46" font-size="9.5" fill="#2a2a2a" color="#2a2a2a" text-anchor="end" >90</text><line x1="301.3" y1="241.30" x2="304.5" y2="241.30" stroke="#3c3c3c" stroke-width="1"/><text x="298.10" y="244.60" font-size="9.5" fill="#2a2a2a" color="#2a2a2a" text-anchor="end" >100</text><line x1="301.3" y1="401.47" x2="303.1" y2="401.47" stroke="#3c3c3c" stroke-width="1"/><line x1="301.3" y1="384.61" x2="303.1" y2="384.61" stroke="#3c3c3c" stroke-width="1"/><line x1="301.3" y1="367.75" x2="303.1" y2="367.75" stroke="#3c3c3c" stroke-width="1"/><line x1="301.3" y1="350.89" x2="303.1" y2="350.89" stroke="#3c3c3c" stroke-width="1"/><line x1="301.3" y1="334.03" x2="303.1" y2="334.03" stroke="#3c3c3c" stroke-width="1"/><line x1="301.3" y1="317.17" x2="303.1" y2="317.17" stroke="#3c3c3c" stroke-width="1"/><line x1="301.3" y1="300.31" x2="303.1" y2="300.31" stroke="#3c3c3c" stroke-width="1"/><line x1="301.3" y1="283.45" x2="303.1" y2="283.45" stroke="#3c3c3c" stroke-width="1"/><line x1="301.3" y1="266.59" x2="303.1" y2="266.59" stroke="#3c3c3c" stroke-width="1"/><line x1="301.3" y1="249.73" x2="303.1" y2="249.73" stroke="#3c3c3c" stroke-width="1"/><text x="359.50" y="435.60" font-size="9.7" fill="#222" color="#222" textLength="102.20" lengthAdjust="spacingAndGlyphs">Electric field (MV m<tspan dy="-3.4" font-size="6.6">&#8722;1</tspan><tspan dy="3.4">)</tspan></text><text x="0" y="0" font-size="9.7" fill="#222" color="#222" textLength="151.80" lengthAdjust="spacingAndGlyphs" transform="translate(275.2,400.9) rotate(-90)">Charge&#8211;discharge efficiency (%)</text><polyline points="315.50,251.75 342.45,256.81 369.40,263.05 396.35,267.43 423.30,275.02 450.25,283.28 477.20,289.18 504.15,293.06" fill="none" stroke="#b0142a" stroke-width="1.5" stroke-linejoin="round"/><rect x="312.70" y="248.95" width="5.60" height="5.60" fill="#cc1030"/><rect x="339.65" y="254.01" width="5.60" height="5.60" fill="#cc1030"/><rect x="366.60" y="260.25" width="5.60" height="5.60" fill="#cc1030"/><rect x="393.55" y="264.63" width="5.60" height="5.60" fill="#cc1030"/><rect x="420.50" y="272.22" width="5.60" height="5.60" fill="#cc1030"/><rect x="447.45" y="280.48" width="5.60" height="5.60" fill="#cc1030"/><rect x="474.40" y="286.38" width="5.60" height="5.60" fill="#cc1030"/><rect x="501.35" y="290.26" width="5.60" height="5.60" fill="#cc1030"/><polyline points="315.50,264.23 342.45,295.08 369.40,365.05" fill="none" stroke="#366832" stroke-width="1.5" stroke-linejoin="round"/><polygon points="315.50,261.03 318.54,266.21 312.46,266.21" fill="#fff" stroke="#366832" stroke-width="1.2"/><polygon points="342.45,291.88 345.49,297.07 339.41,297.07" fill="#fff" stroke="#366832" stroke-width="1.2"/><polygon points="369.40,361.85 372.44,367.04 366.36,367.04" fill="#fff" stroke="#366832" stroke-width="1.2"/><polyline points="315.50,264.23 342.45,282.44 369.40,326.78 396.35,403.16" fill="none" stroke="#1e2c72" stroke-width="1.5" stroke-linejoin="round"/><polygon points="315.50,267.43 318.54,262.25 312.46,262.25" fill="#fff" stroke="#1e2c72" stroke-width="1.2"/><polygon points="342.45,285.64 345.49,280.45 339.41,280.45" fill="#fff" stroke="#1e2c72" stroke-width="1.2"/><polygon points="369.40,329.98 372.44,324.80 366.36,324.80" fill="#fff" stroke="#1e2c72" stroke-width="1.2"/><polygon points="396.35,406.36 399.39,401.17 393.31,401.17" fill="#fff" stroke="#1e2c72" stroke-width="1.2"/><line x1="419.5" y1="356.30" x2="427.05" y2="356.30" stroke="#b0142a" stroke-width="1.5"/><line x1="434.95" y1="356.30" x2="442.5" y2="356.30" stroke="#b0142a" stroke-width="1.5"/><rect x="428.20" y="353.50" width="5.60" height="5.60" fill="#cc1030"/><text x="445.00" y="359.60" font-size="9.7" fill="#a83440" color="#a83440" textLength="60.90" lengthAdjust="spacingAndGlyphs"><tspan font-style="italic">c</tspan>-BCB/BNNS</text><line x1="419.5" y1="372.50" x2="427.06" y2="372.50" stroke="#366832" stroke-width="1.5"/><line x1="434.94" y1="372.50" x2="442.5" y2="372.50" stroke="#366832" stroke-width="1.5"/><polygon points="431.00,369.68 433.68,374.25 428.32,374.25" fill="#fff" stroke="#366832" stroke-width="1.2"/><text x="445.50" y="375.80" font-size="9.7" fill="#4c7e44" color="#4c7e44" textLength="18.30" lengthAdjust="spacingAndGlyphs">FPE</text><line x1="419.5" y1="389.50" x2="427.06" y2="389.50" stroke="#1e2c72" stroke-width="1.5"/><line x1="434.94" y1="389.50" x2="442.5" y2="389.50" stroke="#1e2c72" stroke-width="1.5"/><polygon points="431.00,392.32 433.68,387.75 428.32,387.75" fill="#fff" stroke="#1e2c72" stroke-width="1.2"/><text x="445.50" y="392.80" font-size="9.7" fill="#2e4290" color="#2e4290" textLength="32.30" lengthAdjust="spacingAndGlyphs">Kapton</text><text x="480.00" y="248.20" font-size="10.5" fill="#222" color="#222" textLength="33.50" lengthAdjust="spacingAndGlyphs">250 &#176;C</text>
<clipPath id="clipbcb"><polygon points="125.8,466.4 210.0,518.0 210.0,546.8 99.2,592.3 21.5,534.3 20.0,503.9"/></clipPath>
<g clip-path="url(#clipbcb)">
<polygon points="125.8,466.4 210.0,518.0 210.0,546.8 99.2,592.3 21.5,534.3 20.0,503.9" fill="#1a2580"/>
<polygon points="21.5,534.3 21.4,531.3 21.2,528.2 21.1,525.2 20.9,522.2 20.8,519.1 20.6,516.1 20.5,513.1 20.4,510.0 20.2,507.0 20.1,503.9 32.0,499.7 109.4,472.3 113.1,471.0 115.4,470.2 117.0,469.7 118.3,469.3 119.4,469.0 120.4,468.8 121.3,468.6 122.0,468.4 122.8,468.3 123.5,468.3 124.1,468.2 124.7,468.2 125.3,468.3 126.0,468.3 126.6,468.4 127.2,468.5 127.8,468.7 128.5,468.9 129.1,469.2 129.9,469.5 130.7,469.8 131.6,470.3 132.7,470.9 134.0,471.6 135.8,472.7 138.8,474.5 209.9,518.0 209.9,518.0 209.9,520.9 209.9,523.8 209.9,526.7 209.9,529.5 209.9,532.4 209.9,535.3 209.9,538.2 209.9,541.1 209.9,543.9 209.9,546.8 99.2,592.3" fill="#1a2581"/>
<polygon points="21.6,534.4 21.4,531.3 21.3,528.3 21.1,525.2 21.0,522.2 20.8,519.2 20.7,516.1 20.5,513.1 20.4,510.1 20.3,507.0 20.1,504.0 27.8,501.3 106.4,473.4 110.8,471.9 113.4,471.0 115.3,470.4 116.9,469.9 118.2,469.5 119.3,469.3 120.4,469.0 121.3,468.9 122.2,468.8 123.0,468.7 123.8,468.6 124.5,468.6 125.2,468.7 126.0,468.7 126.7,468.9 127.4,469.0 128.2,469.2 129.0,469.4 129.8,469.7 130.7,470.1 131.6,470.5 132.7,471.1 134.0,471.8 135.6,472.6 137.7,473.9 141.1,476.0 209.8,518.1 209.8,518.1 209.8,520.9 209.9,523.8 209.9,526.7 209.9,529.6 209.9,532.5 209.9,535.3 209.9,538.2 209.9,541.1 209.9,544.0 209.9,546.8 99.2,592.3" fill="#1a2682"/>
<polygon points="21.6,534.4 21.5,531.3 21.3,528.3 21.2,525.3 21.0,522.2 20.9,519.2 20.7,516.2 20.6,513.1 20.5,510.1 20.3,507.1 20.2,504.0 24.1,502.6 102.1,475.0 107.3,473.2 110.5,472.1 112.9,471.3 114.8,470.8 116.4,470.3 117.8,470.0 119.0,469.7 120.2,469.5 121.3,469.4 122.3,469.3 123.2,469.2 124.2,469.2 125.1,469.3 126.0,469.4 126.9,469.5 127.8,469.7 128.7,469.9 129.7,470.2 130.7,470.6 131.8,471.0 133.0,471.6 134.3,472.2 135.9,473.1 137.8,474.1 140.4,475.6 144.5,478.1 209.8,518.1 209.8,518.1 209.8,521.0 209.8,523.8 209.8,526.7 209.8,529.6 209.8,532.5 209.8,535.4 209.8,538.2 209.8,541.1 209.8,544.0 209.8,546.9 99.2,592.3" fill="#1a2683"/>
<polygon points="21.7,534.4 21.5,531.4 21.4,528.3 21.2,525.3 21.1,522.3 20.9,519.2 20.8,516.2 20.6,513.2 20.5,510.1 20.4,507.1 20.2,504.1 21.5,503.6 95.4,477.4 101.8,475.2 105.9,473.8 108.9,472.9 111.3,472.2 113.4,471.6 115.2,471.1 116.9,470.8 118.4,470.5 119.8,470.4 121.1,470.2 122.4,470.2 123.7,470.2 124.9,470.2 126.1,470.3 127.3,470.5 128.5,470.8 129.7,471.1 131.0,471.5 132.3,471.9 133.7,472.5 135.3,473.2 137.0,474.1 139.0,475.1 141.5,476.5 144.7,478.4 149.8,481.5 209.7,518.1 209.7,518.1 209.7,521.0 209.7,523.9 209.7,526.7 209.7,529.6 209.8,532.5 209.8,535.4 209.8,538.3 209.8,541.1 209.8,544.0 209.8,546.9 99.2,592.3" fill="#1b2684"/>
<polygon points="21.7,534.4 21.5,531.4 21.4,528.4 21.2,525.3 21.1,522.3 20.9,519.2 20.8,516.2 20.7,513.2 20.5,510.1 20.4,507.1 20.3,504.1 20.8,503.9 90.2,479.3 97.5,476.8 102.1,475.2 105.7,474.1 108.5,473.3 111.0,472.6 113.1,472.1 115.1,471.7 116.9,471.4 118.6,471.1 120.2,471.0 121.7,470.9 123.2,470.9 124.7,471.0 126.1,471.1 127.6,471.4 129.0,471.6 130.5,472.0 132.0,472.5 133.6,473.0 135.3,473.7 137.1,474.5 139.2,475.5 141.6,476.8 144.4,478.4 148.2,480.5 154.0,484.1 209.6,518.1 209.6,518.1 209.7,521.0 209.7,523.9 209.7,526.8 209.7,529.6 209.7,532.5 209.7,535.4 209.7,538.3 209.7,541.1 209.7,544.0 209.8,546.9 99.2,592.3" fill="#1b2785"/>
<polygon points="21.7,534.4 21.5,531.4 21.4,528.4 21.3,525.3 21.1,522.3 21.0,519.3 20.8,516.2 20.7,513.2 20.5,510.2 20.4,507.1 20.3,504.1 20.4,504.1 82.8,482.0 91.2,479.1 96.7,477.2 100.9,475.9 104.4,474.9 107.4,474.1 110.0,473.5 112.4,473.0 114.7,472.6 116.8,472.3 118.8,472.1 120.7,472.1 122.6,472.1 124.4,472.2 126.2,472.3 128.0,472.6 129.8,473.0 131.7,473.4 133.6,474.0 135.5,474.7 137.6,475.5 139.9,476.5 142.4,477.7 145.3,479.2 148.7,481.1 153.2,483.7 159.9,487.7 209.6,518.2 209.6,518.2 209.6,521.0 209.7,523.9 209.7,526.8 209.7,529.6 209.7,532.5 209.7,535.4 209.7,538.3 209.7,541.2 209.7,544.0 209.7,546.9 99.2,592.3" fill="#1b2786"/>
<polygon points="21.7,534.5 21.6,531.4 21.4,528.4 21.3,525.3 21.1,522.3 21.0,519.3 20.8,516.2 20.7,513.2 20.6,510.2 20.4,507.1 20.3,504.1 20.3,504.1 71.6,485.9 81.4,482.6 88.0,480.4 93.2,478.8 97.6,477.5 101.4,476.5 104.8,475.8 108.0,475.1 110.9,474.7 113.7,474.3 116.4,474.1 118.9,474.0 121.4,474.0 123.9,474.2 126.3,474.4 128.7,474.7 131.2,475.2 133.6,475.8 136.2,476.5 138.8,477.4 141.5,478.5 144.5,479.7 147.7,481.2 151.3,483.1 155.6,485.4 160.9,488.5 168.7,493.2 209.6,518.2 209.6,518.2 209.6,521.0 209.6,523.9 209.6,526.8 209.7,529.7 209.7,532.5 209.7,535.4 209.7,538.3 209.7,541.2 209.7,544.0 209.7,546.9 99.2,592.3" fill="#1b2787"/>
<polygon points="21.7,534.5 21.6,531.4 21.4,528.4 21.3,525.4 21.1,522.3 21.0,519.3 20.9,516.3 20.7,513.2 20.6,510.2 20.4,507.2 20.3,504.1 20.3,504.1 53.7,492.4 64.4,488.7 72.4,486.2 78.9,484.2 84.7,482.6 89.9,481.4 94.7,480.4 99.2,479.6 103.4,478.9 107.5,478.5 111.5,478.2 115.3,478.1 119.1,478.2 122.8,478.4 126.5,478.7 130.2,479.2 133.9,479.9 137.6,480.7 141.3,481.8 145.2,483.0 149.1,484.4 153.3,486.1 157.7,488.1 162.5,490.4 167.9,493.2 174.4,496.9 183.0,502.0 209.6,518.2 209.6,518.2 209.6,521.0 209.6,523.9 209.6,526.8 209.6,529.7 209.6,532.5 209.6,535.4 209.7,538.3 209.7,541.2 209.7,544.1 209.7,546.9 99.2,592.3" fill="#1b2887"/>
<polygon points="21.8,534.5 21.6,531.4 21.5,528.4 21.3,525.4 21.2,522.3 21.0,519.3 20.9,516.3 20.7,513.2 20.6,510.2 20.5,507.2 20.3,504.1 20.3,504.1 48.6,494.2 59.3,490.6 67.4,488.0 74.3,486.0 80.4,484.4 86.0,483.0 91.2,482.0 96.1,481.1 100.8,480.5 105.3,480.0 109.8,479.8 114.1,479.7 118.3,479.7 122.4,479.9 126.6,480.3 130.7,480.9 134.8,481.6 138.9,482.5 143.1,483.6 147.3,484.9 151.7,486.5 156.2,488.3 161.0,490.3 166.1,492.8 171.8,495.7 178.4,499.4 187.0,504.4 209.5,518.2 209.5,518.2 209.6,521.1 209.6,523.9 209.6,526.8 209.6,529.7 209.6,532.6 209.6,535.4 209.6,538.3 209.6,541.2 209.6,544.1 209.6,546.9 99.2,592.3" fill="#1b2888"/>
<polygon points="21.8,534.5 21.6,531.5 21.5,528.4 21.3,525.4 21.2,522.4 21.0,519.3 20.9,516.3 20.8,513.3 20.6,510.2 20.5,507.2 20.4,504.2 20.4,504.2 43.1,496.2 53.4,492.7 61.6,490.2 68.7,488.1 75.2,486.5 81.2,485.1 86.9,484.0 92.3,483.1 97.5,482.5 102.6,482.0 107.5,481.7 112.4,481.6 117.2,481.7 121.9,482.0 126.6,482.4 131.3,483.0 135.9,483.8 140.6,484.8 145.3,486.0 150.0,487.4 154.9,489.1 159.8,491.0 165.0,493.1 170.4,495.7 176.4,498.7 183.1,502.4 191.4,507.2 209.5,518.2 209.5,518.2 209.5,521.1 209.5,523.9 209.6,526.8 209.6,529.7 209.6,532.6 209.6,535.4 209.6,538.3 209.6,541.2 209.6,544.1 209.6,547.0 99.2,592.3" fill="#1b2889"/>
<polygon points="21.8,534.5 21.6,531.5 21.5,528.4 21.4,525.4 21.2,522.4 21.1,519.3 20.9,516.3 20.8,513.3 20.6,510.2 20.5,507.2 20.4,504.2 20.4,504.2 37.1,498.3 46.6,495.2 54.7,492.8 61.9,490.8 68.7,489.2 75.2,487.8 81.4,486.7 87.4,485.8 93.2,485.1 99.0,484.7 104.6,484.4 110.2,484.3 115.7,484.4 121.2,484.8 126.6,485.3 132.0,485.9 137.4,486.8 142.7,487.9 148.1,489.2 153.4,490.7 158.8,492.4 164.3,494.4 169.9,496.7 175.7,499.2 181.8,502.2 188.4,505.7 196.1,510.1 209.5,518.2 209.5,518.2 209.5,521.1 209.5,524.0 209.5,526.8 209.5,529.7 209.6,532.6 209.6,535.5 209.6,538.3 209.6,541.2 209.6,544.1 209.6,547.0 99.2,592.3" fill="#1b298a"/>
<polygon points="21.8,534.5 21.7,531.5 21.5,528.5 21.4,525.4 21.2,522.4 21.1,519.3 20.9,516.3 20.8,513.3 20.7,510.2 20.5,507.2 20.4,504.2 20.4,504.2 31.0,500.5 39.1,498.0 46.5,495.9 53.7,494.1 60.6,492.6 67.4,491.3 74.2,490.3 80.9,489.4 87.5,488.8 94.1,488.4 100.7,488.2 107.2,488.2 113.7,488.4 120.2,488.7 126.6,489.3 132.9,490.1 139.3,491.1 145.5,492.2 151.7,493.6 157.9,495.1 164.0,496.9 170.0,498.9 176.1,501.1 182.1,503.6 188.2,506.4 194.4,509.5 201.0,513.2 209.4,518.2 209.4,518.2 209.5,521.1 209.5,524.0 209.5,526.8 209.5,529.7 209.5,532.6 209.5,535.5 209.5,538.3 209.5,541.2 209.6,544.1 209.6,547.0 99.2,592.3" fill="#1c298b"/>
<polygon points="23.4,535.7 23.2,532.7 23.1,529.7 23.1,526.7 23.0,523.7 23.0,520.7 22.9,517.8 23.0,514.9 23.0,512.0 23.1,509.1 23.5,506.5 23.5,506.5 33.7,502.9 41.4,500.5 48.6,498.4 55.4,496.7 62.1,495.2 68.7,494.0 75.2,493.0 81.6,492.2 88.0,491.6 94.3,491.2 100.7,491.0 106.9,491.0 113.2,491.1 119.4,491.5 125.5,492.1 131.6,492.8 137.7,493.7 143.7,494.9 149.6,496.2 155.5,497.7 161.4,499.4 167.2,501.3 173.0,503.5 178.8,505.9 184.6,508.6 190.5,511.6 196.9,515.1 205.0,520.0 205.0,520.0 205.7,522.6 206.1,525.3 206.3,528.1 206.6,530.9 206.8,533.7 206.9,536.5 207.0,539.4 207.1,542.2 207.2,545.1 207.2,547.9 99.2,592.3" fill="#1c298c"/>
<polygon points="24.9,536.9 24.8,533.8 24.7,530.9 24.7,527.9 24.7,525.0 24.7,522.1 24.8,519.2 25.0,516.4 25.2,513.6 25.6,511.0 26.5,508.7 26.5,508.7 36.3,505.3 43.7,503.0 50.6,501.0 57.2,499.3 63.6,497.9 69.9,496.7 76.2,495.7 82.3,494.9 88.5,494.4 94.5,494.0 100.6,493.8 106.6,493.8 112.6,493.9 118.5,494.3 124.4,494.8 130.3,495.5 136.1,496.4 141.9,497.5 147.6,498.8 153.2,500.3 158.8,501.9 164.4,503.8 169.9,505.9 175.5,508.2 181.0,510.8 186.7,513.7 192.8,517.1 200.6,521.8 200.6,521.8 202.1,524.0 202.8,526.7 203.4,529.3 203.8,532.0 204.1,534.8 204.4,537.6 204.6,540.4 204.8,543.2 204.9,546.0 204.9,548.9 99.2,592.3" fill="#1c2a8d"/>
<polygon points="26.5,538.0 26.4,535.0 26.3,532.0 26.3,529.1 26.4,526.2 26.5,523.4 26.6,520.6 26.9,517.8 27.3,515.2 27.9,512.7 29.6,511.0 29.6,511.0 39.0,507.7 46.1,505.4 52.7,503.5 59.0,501.9 65.1,500.6 71.2,499.4 77.1,498.5 83.0,497.7 88.9,497.2 94.7,496.8 100.5,496.6 106.3,496.6 112.0,496.7 117.7,497.1 123.3,497.6 128.9,498.3 134.5,499.1 140.0,500.2 145.5,501.4 150.9,502.8 156.2,504.4 161.6,506.2 166.8,508.2 172.1,510.5 177.5,513.0 182.9,515.8 188.7,519.0 196.1,523.6 196.1,523.6 198.7,525.4 199.8,527.9 200.5,530.5 201.1,533.1 201.6,535.8 201.9,538.6 202.2,541.3 202.4,544.1 202.5,547.0 202.6,549.8 99.2,592.3" fill="#1c2a8e"/>
<polygon points="28.0,539.2 27.9,536.2 27.9,533.2 27.9,530.3 28.0,527.4 28.1,524.6 28.4,521.9 28.8,519.2 29.3,516.7 30.2,514.4 32.6,513.3 32.6,513.3 41.6,510.1 48.4,507.9 54.7,506.1 60.8,504.6 66.6,503.2 72.4,502.1 78.1,501.2 83.8,500.5 89.4,500.0 94.9,499.6 100.5,499.4 106.0,499.4 111.4,499.5 116.9,499.9 122.2,500.4 127.6,501.0 132.9,501.9 138.2,502.9 143.4,504.0 148.5,505.4 153.6,506.9 158.7,508.7 163.8,510.6 168.8,512.8 173.9,515.2 179.1,517.9 184.6,521.0 191.7,525.4 191.7,525.4 195.4,526.8 196.8,529.1 197.8,531.6 198.5,534.2 199.1,536.8 199.5,539.5 199.9,542.3 200.1,545.1 200.2,547.9 200.2,550.8 99.2,592.3" fill="#1c2a8f"/>
<polygon points="31.4,541.7 31.3,538.7 31.3,535.7 31.3,532.8 31.4,530.0 31.6,527.2 32.0,524.5 32.4,521.9 33.1,519.5 34.1,517.3 37.0,516.5 37.0,516.5 44.4,513.9 50.4,512.0 56.2,510.3 61.7,508.9 67.2,507.7 72.6,506.7 78.0,505.9 83.4,505.2 88.8,504.7 94.1,504.4 99.4,504.2 104.7,504.3 110.0,504.4 115.3,504.7 120.5,505.2 125.6,505.9 130.8,506.7 135.8,507.6 140.8,508.8 145.8,510.0 150.7,511.5 155.5,513.1 160.3,514.9 165.0,516.9 169.7,519.1 174.4,521.6 179.3,524.3 185.2,528.0 185.2,528.0 189.7,529.1 191.3,531.3 192.5,533.7 193.4,536.2 194.1,538.9 194.6,541.5 195.0,544.3 195.3,547.1 195.4,549.9 195.5,552.8 99.2,592.3" fill="#1d2b91"/>
<polygon points="34.7,544.2 34.7,541.2 34.6,538.2 34.7,535.4 34.9,532.6 35.2,529.8 35.5,527.2 36.1,524.7 36.9,522.3 38.0,520.2 41.3,519.7 41.3,519.7 47.4,517.6 52.6,515.9 57.8,514.5 62.9,513.2 67.9,512.2 73.0,511.3 78.1,510.5 83.2,509.9 88.3,509.5 93.4,509.2 98.5,509.1 103.6,509.1 108.6,509.3 113.7,509.6 118.7,510.1 123.7,510.7 128.6,511.5 133.4,512.4 138.2,513.4 143.0,514.6 147.6,516.0 152.1,517.5 156.6,519.2 161.0,521.0 165.3,523.0 169.6,525.2 173.9,527.6 178.6,530.6 178.6,530.6 183.9,531.4 185.9,533.5 187.3,535.8 188.3,538.3 189.1,540.9 189.7,543.5 190.2,546.3 190.5,549.0 190.7,551.8 190.7,554.7 99.2,592.3" fill="#1d2c92"/>
<polygon points="38.1,546.7 38.0,543.7 38.0,540.8 38.1,537.9 38.3,535.1 38.7,532.4 39.1,529.8 39.8,527.4 40.6,525.1 42.0,523.2 45.7,523.0 45.7,523.0 50.5,521.3 55.0,519.9 59.6,518.6 64.2,517.5 68.8,516.6 73.5,515.8 78.2,515.1 83.0,514.6 87.8,514.2 92.7,514.0 97.5,513.9 102.4,513.9 107.3,514.1 112.1,514.4 116.9,514.9 121.6,515.5 126.3,516.2 131.0,517.1 135.6,518.1 140.0,519.2 144.4,520.5 148.7,521.9 152.8,523.4 156.9,525.0 160.8,526.8 164.6,528.7 168.3,530.8 172.1,533.2 172.1,533.2 178.1,533.7 180.4,535.7 182.0,538.0 183.2,540.4 184.1,542.9 184.8,545.5 185.3,548.2 185.7,551.0 185.9,553.8 186.0,556.7 99.2,592.3" fill="#1e2c94"/>
<polygon points="41.5,549.2 41.4,546.2 41.4,543.3 41.6,540.5 41.8,537.7 42.2,535.1 42.7,532.5 43.4,530.1 44.4,527.9 45.9,526.1 50.0,526.2 50.0,526.2 53.7,524.9 57.6,523.7 61.5,522.7 65.6,521.7 69.9,520.9 74.2,520.2 78.6,519.7 83.0,519.2 87.5,518.9 92.1,518.7 96.7,518.7 101.3,518.7 105.9,518.9 110.5,519.3 115.1,519.7 119.6,520.3 124.1,521.0 128.5,521.8 132.8,522.7 137.0,523.7 141.1,524.9 145.1,526.1 148.9,527.5 152.6,529.0 156.1,530.6 159.5,532.2 162.6,534.0 165.6,535.8 165.6,535.8 172.4,536.0 174.9,537.9 176.7,540.1 178.1,542.5 179.1,545.0 179.9,547.5 180.5,550.2 180.9,553.0 181.1,555.8 181.2,558.6 99.2,592.3" fill="#1e2d96"/>
<polygon points="46.8,553.2 46.9,550.3 47.1,547.6 47.6,545.0 48.5,542.7 49.6,540.6 51.1,538.8 53.1,537.3 55.8,536.4 59.8,536.4 70.4,541.4 70.4,541.4 72.6,540.6 74.9,539.9 77.2,539.2 79.6,538.6 82.1,538.1 84.7,537.7 87.2,537.3 89.9,537.1 92.5,536.8 95.2,536.7 97.9,536.7 100.6,536.7 103.3,536.8 105.9,537.0 108.6,537.3 111.2,537.6 113.8,538.0 116.4,538.5 118.9,539.0 121.3,539.7 123.7,540.4 126.0,541.1 128.2,542.0 130.4,542.9 132.4,543.8 134.3,544.8 136.2,545.9 137.9,547.0 137.8,547.0 153.3,543.7 159.2,544.3 163.2,545.6 166.3,547.2 168.6,549.2 170.4,551.4 171.8,553.8 172.7,556.3 173.3,559.0 173.4,561.8 99.2,592.3" fill="#1f2d98"/>
<polygon points="52.2,557.2 52.3,554.4 52.8,551.8 53.7,549.5 55.1,547.6 57.0,546.1 59.5,545.0 62.8,544.5 67.2,544.9 73.6,546.7 90.8,556.5 90.8,556.5 91.5,556.3 92.1,556.1 92.8,555.9 93.5,555.7 94.2,555.6 94.9,555.4 95.7,555.3 96.4,555.2 97.2,555.2 98.0,555.1 98.7,555.1 99.5,555.1 100.3,555.1 101.0,555.2 101.8,555.3 102.6,555.4 103.3,555.5 104.0,555.6 104.7,555.8 105.4,556.0 106.1,556.2 106.8,556.4 107.4,556.7 108.0,556.9 108.6,557.2 109.1,557.5 109.6,557.8 110.1,558.1 110.1,558.1 134.3,551.4 143.4,550.6 149.8,551.0 154.5,552.0 158.2,553.4 161.0,555.2 163.1,557.3 164.5,559.6 165.4,562.2 165.7,565.0 99.2,592.3" fill="#1f2e99"/>
<polygon points="57.6,561.3 57.8,558.6 58.5,556.4 59.7,554.5 61.4,553.0 63.6,551.9 66.5,551.2 70.3,551.2 75.1,552.1 82.0,554.4 99.0,564.3 99.0,564.3 122.8,557.5 132.4,556.4 139.4,556.4 144.7,557.0 148.8,558.1 152.1,559.5 154.6,561.3 156.4,563.3 157.5,565.6 157.9,568.2 99.2,592.3" fill="#202f9b"/>
<polygon points="63.0,565.3 63.4,563.0 64.3,561.2 65.6,559.7 67.4,558.6 69.7,557.8 72.6,557.4 76.1,557.5 80.5,558.3 86.4,560.2 99.0,567.1 99.0,567.1 116.7,562.5 125.0,561.6 131.2,561.6 136.1,562.1 140.2,563.0 143.5,564.1 146.2,565.5 148.2,567.2 149.6,569.1 150.2,571.4 99.2,592.3" fill="#21309e"/>
<polygon points="74.6,574.0 74.9,572.4 75.5,571.1 76.4,570.1 77.7,569.3 79.3,568.7 81.2,568.4 83.6,568.4 86.5,568.9 90.5,570.1 99.1,574.7 99.1,574.7 111.0,571.6 116.7,571.1 120.9,571.1 124.3,571.5 127.0,572.1 129.3,573.0 131.1,574.0 132.4,575.2 133.4,576.5 133.8,578.1 99.2,592.3" fill="#2231a1"/>
<polygon points="86.3,582.6 86.4,581.8 86.7,581.0 87.2,580.4 87.9,579.9 88.7,579.6 89.7,579.3 91.0,579.3 92.6,579.5 94.7,580.0 99.1,582.4 99.1,582.4 105.4,580.8 108.4,580.6 110.6,580.7 112.4,580.9 113.8,581.3 115.0,581.8 116.0,582.4 116.7,583.1 117.2,583.9 117.4,584.8 99.2,592.3" fill="#2332a4"/>
<polygon points="20.0,503.9 99.0,562.6 99.2,592.3 21.5,534.3" fill="#ffffff" fill-opacity="0.04"/>
<polygon points="99.0,562.6 210.0,518.0 210.0,546.8 99.2,592.3" fill="#ffffff" fill-opacity="0.04"/>
<polyline points="20.0,503.9 99.0,562.6 210.0,518.0" fill="none" stroke="#000" stroke-opacity="0.22" stroke-width="0.9"/>
<line x1="99.0" y1="562.5999999999999" x2="99.19999999999999" y2="592.3" stroke="#000" stroke-opacity="0.15" stroke-width="0.9"/>
<polyline points="21.7,534.4 21.5,531.4 21.4,528.3 21.2,525.3 21.1,522.3 20.9,519.2 20.8,516.2 20.6,513.2 20.5,510.1 20.4,507.1 20.2,504.1 21.5,503.6 95.4,477.4 101.8,475.2 105.9,473.8 108.9,472.9 111.3,472.2 113.4,471.6 115.2,471.1 116.9,470.8 118.4,470.5 119.8,470.4 121.1,470.2 122.4,470.2 123.7,470.2 124.9,470.2 126.1,470.3 127.3,470.5 128.5,470.8 129.7,471.1 131.0,471.5 132.3,471.9 133.7,472.5 135.3,473.2 137.0,474.1 139.0,475.1 141.5,476.5 144.7,478.4 149.8,481.5 209.7,518.1 209.7,518.1 209.7,521.0 209.7,523.9 209.7,526.7 209.7,529.6 209.8,532.5 209.8,535.4 209.8,538.3 209.8,541.1 209.8,544.0 209.8,546.9" fill="none" stroke="#90a2f4" stroke-opacity="0.95" stroke-width="1.1" stroke-linejoin="round"/>
<polyline points="21.7,534.5 21.6,531.4 21.4,528.4 21.3,525.4 21.1,522.3 21.0,519.3 20.9,516.3 20.7,513.2 20.6,510.2 20.4,507.2 20.3,504.1 20.3,504.1 53.7,492.4 64.4,488.7 72.4,486.2 78.9,484.2 84.7,482.6 89.9,481.4 94.7,480.4 99.2,479.6 103.4,478.9 107.5,478.5 111.5,478.2 115.3,478.1 119.1,478.2 122.8,478.4 126.5,478.7 130.2,479.2 133.9,479.9 137.6,480.7 141.3,481.8 145.2,483.0 149.1,484.4 153.3,486.1 157.7,488.1 162.5,490.4 167.9,493.2 174.4,496.9 183.0,502.0 209.6,518.2 209.6,518.2 209.6,521.0 209.6,523.9 209.6,526.8 209.6,529.7 209.6,532.5 209.6,535.4 209.7,538.3 209.7,541.2 209.7,544.1 209.7,546.9" fill="none" stroke="#90a2f4" stroke-opacity="0.95" stroke-width="1.1" stroke-linejoin="round"/>
<polyline points="21.8,534.5 21.7,531.5 21.5,528.5 21.4,525.4 21.2,522.4 21.1,519.3 20.9,516.3 20.8,513.3 20.7,510.2 20.5,507.2 20.4,504.2 20.4,504.2 31.0,500.5 39.1,498.0 46.5,495.9 53.7,494.1 60.6,492.6 67.4,491.3 74.2,490.3 80.9,489.4 87.5,488.8 94.1,488.4 100.7,488.2 107.2,488.2 113.7,488.4 120.2,488.7 126.6,489.3 132.9,490.1 139.3,491.1 145.5,492.2 151.7,493.6 157.9,495.1 164.0,496.9 170.0,498.9 176.1,501.1 182.1,503.6 188.2,506.4 194.4,509.5 201.0,513.2 209.4,518.2 209.4,518.2 209.5,521.1 209.5,524.0 209.5,526.8 209.5,529.7 209.5,532.6 209.5,535.5 209.5,538.3 209.5,541.2 209.6,544.1 209.6,547.0" fill="none" stroke="#90a2f4" stroke-opacity="0.95" stroke-width="1.1" stroke-linejoin="round"/>
<polyline points="28.0,539.2 27.9,536.2 27.9,533.2 27.9,530.3 28.0,527.4 28.1,524.6 28.4,521.9 28.8,519.2 29.3,516.7 30.2,514.4 32.6,513.3 32.6,513.3 41.6,510.1 48.4,507.9 54.7,506.1 60.8,504.6 66.6,503.2 72.4,502.1 78.1,501.2 83.8,500.5 89.4,500.0 94.9,499.6 100.5,499.4 106.0,499.4 111.4,499.5 116.9,499.9 122.2,500.4 127.6,501.0 132.9,501.9 138.2,502.9 143.4,504.0 148.5,505.4 153.6,506.9 158.7,508.7 163.8,510.6 168.8,512.8 173.9,515.2 179.1,517.9 184.6,521.0 191.7,525.4 191.7,525.4 195.4,526.8 196.8,529.1 197.8,531.6 198.5,534.2 199.1,536.8 199.5,539.5 199.9,542.3 200.1,545.1 200.2,547.9 200.2,550.8" fill="none" stroke="#90a2f4" stroke-opacity="0.95" stroke-width="1.1" stroke-linejoin="round"/>
<polyline points="41.5,549.2 41.4,546.2 41.4,543.3 41.6,540.5 41.8,537.7 42.2,535.1 42.7,532.5 43.4,530.1 44.4,527.9 45.9,526.1 50.0,526.2 50.0,526.2 53.7,524.9 57.6,523.7 61.5,522.7 65.6,521.7 69.9,520.9 74.2,520.2 78.6,519.7 83.0,519.2 87.5,518.9 92.1,518.7 96.7,518.7 101.3,518.7 105.9,518.9 110.5,519.3 115.1,519.7 119.6,520.3 124.1,521.0 128.5,521.8 132.8,522.7 137.0,523.7 141.1,524.9 145.1,526.1 148.9,527.5 152.6,529.0 156.1,530.6 159.5,532.2 162.6,534.0 165.6,535.8 165.6,535.8 172.4,536.0 174.9,537.9 176.7,540.1 178.1,542.5 179.1,545.0 179.9,547.5 180.5,550.2 180.9,553.0 181.1,555.8 181.2,558.6" fill="none" stroke="#90a2f4" stroke-opacity="0.95" stroke-width="1.1" stroke-linejoin="round"/>
<polyline points="63.0,565.3 63.4,563.0 64.3,561.2 65.6,559.7 67.4,558.6 69.7,557.8 72.6,557.4 76.1,557.5 80.5,558.3 86.4,560.2 99.0,567.1 99.0,567.1 116.7,562.5 125.0,561.6 131.2,561.6 136.1,562.1 140.2,563.0 143.5,564.1 146.2,565.5 148.2,567.2 149.6,569.1 150.2,571.4" fill="none" stroke="#90a2f4" stroke-opacity="0.95" stroke-width="1.1" stroke-linejoin="round"/>
</g>
<polygon points="125.8,466.4 210.0,518.0 210.0,546.8 99.2,592.3 21.5,534.3 20.0,503.9" fill="none" stroke="#0a0a30" stroke-width="1.1" stroke-linejoin="round"/><clipPath id="clippei"><polygon points="347.3,466.1 431.5,517.7 431.5,546.5 320.7,592.0 243.0,534.0 241.5,503.6"/></clipPath>
<g clip-path="url(#clippei)">
<polygon points="347.3,466.1 431.5,517.7 431.5,546.5 320.7,592.0 243.0,534.0 241.5,503.6" fill="#3252ae"/>
<polygon points="243.5,534.3 243.3,531.3 243.2,528.3 243.1,525.3 242.9,522.2 242.8,519.2 242.7,516.2 242.6,513.2 242.5,510.2 242.4,507.2 242.4,504.2 255.1,499.7 331.6,472.6 335.2,471.3 337.3,470.6 338.9,470.1 340.2,469.7 341.2,469.4 342.2,469.2 343.0,469.0 343.7,468.8 344.4,468.8 345.1,468.7 345.7,468.7 346.3,468.7 346.9,468.7 347.5,468.7 348.1,468.8 348.7,468.9 349.3,469.1 349.9,469.3 350.6,469.5 351.3,469.8 352.0,470.2 352.9,470.6 354.0,471.2 355.2,471.9 357.0,472.9 359.8,474.6 430.6,518.1 430.6,518.1 430.6,520.9 430.6,523.8 430.6,526.7 430.6,529.6 430.6,532.5 430.6,535.4 430.6,538.2 430.6,541.1 430.6,544.0 430.6,546.9 320.7,592.0" fill="#3457b4"/>
<polygon points="243.9,534.7 243.8,531.7 243.7,528.7 243.6,525.6 243.5,522.6 243.4,519.6 243.3,516.7 243.2,513.7 243.2,510.7 243.1,507.8 243.2,504.9 252.4,501.6 329.6,474.2 333.6,472.8 336.0,471.9 337.8,471.4 339.3,470.9 340.5,470.6 341.5,470.3 342.4,470.1 343.3,470.0 344.1,469.9 344.8,469.8 345.5,469.8 346.2,469.8 346.9,469.8 347.6,469.9 348.2,470.0 348.9,470.1 349.6,470.3 350.3,470.5 351.0,470.8 351.8,471.1 352.7,471.5 353.7,472.0 354.9,472.6 356.3,473.4 358.2,474.6 361.4,476.5 429.7,518.4 429.7,518.4 429.7,521.3 429.7,524.2 429.7,527.1 429.7,530.0 429.7,532.8 429.7,535.7 429.7,538.6 429.7,541.5 429.7,544.4 429.7,547.2 320.7,592.0" fill="#365cbb"/>
<polygon points="244.4,535.0 244.3,532.0 244.2,529.0 244.1,526.0 244.0,523.0 243.9,520.1 243.9,517.1 243.9,514.1 243.9,511.2 243.9,508.3 244.1,505.5 250.0,503.4 327.0,476.0 331.6,474.4 334.3,473.4 336.4,472.8 338.0,472.3 339.4,471.9 340.6,471.6 341.7,471.4 342.7,471.2 343.6,471.1 344.4,471.0 345.3,470.9 346.1,470.9 346.8,471.0 347.6,471.0 348.4,471.2 349.1,471.3 349.9,471.5 350.8,471.8 351.6,472.1 352.5,472.5 353.6,472.9 354.7,473.5 356.0,474.2 357.7,475.1 359.9,476.4 363.5,478.6 428.8,518.8 428.8,518.8 428.8,521.7 428.8,524.6 428.8,527.4 428.8,530.3 428.8,533.2 428.8,536.1 428.8,539.0 428.8,541.9 428.8,544.7 428.8,547.6 320.7,592.0" fill="#3861c0"/>
<polygon points="244.9,535.4 244.7,532.4 244.7,529.4 244.6,526.4 244.5,523.4 244.5,520.5 244.5,517.5 244.5,514.6 244.5,511.7 244.6,508.9 244.9,506.1 248.1,505.0 323.5,478.1 328.7,476.3 331.9,475.2 334.3,474.4 336.3,473.9 337.9,473.4 339.3,473.0 340.6,472.8 341.8,472.6 342.9,472.4 343.9,472.3 344.9,472.3 345.8,472.3 346.8,472.3 347.7,472.4 348.6,472.5 349.5,472.7 350.5,472.9 351.4,473.2 352.5,473.6 353.5,474.1 354.7,474.6 356.1,475.3 357.7,476.1 359.6,477.2 362.2,478.7 366.3,481.2 427.9,519.2 427.9,519.2 427.9,522.0 427.9,524.9 427.9,527.8 427.9,530.7 427.9,533.6 427.9,536.5 427.9,539.3 427.9,542.2 427.9,545.1 427.9,548.0 320.7,592.0" fill="#3964c3"/>
<polygon points="245.3,535.7 245.2,532.7 245.2,529.7 245.1,526.8 245.1,523.8 245.1,520.9 245.1,518.0 245.1,515.1 245.2,512.2 245.4,509.4 245.8,506.8 247.0,506.3 318.3,480.9 324.5,478.7 328.3,477.4 331.2,476.5 333.6,475.8 335.6,475.2 337.4,474.8 338.9,474.4 340.4,474.2 341.8,474.0 343.0,473.9 344.3,473.8 345.4,473.8 346.6,473.9 347.7,474.0 348.9,474.1 350.0,474.4 351.2,474.7 352.4,475.0 353.7,475.5 355.0,476.0 356.5,476.7 358.2,477.5 360.1,478.5 362.4,479.8 365.5,481.6 370.3,484.6 426.9,519.5 426.9,519.5 426.9,522.4 427.0,525.3 427.0,528.2 427.0,531.1 427.0,533.9 427.0,536.8 427.0,539.7 427.0,542.6 427.0,545.5 427.0,548.4 320.7,592.0" fill="#3a68c6"/>
<polygon points="246.3,536.5 246.2,533.5 246.2,530.5 246.1,527.6 246.1,524.6 246.2,521.7 246.2,518.8 246.3,515.9 246.4,513.1 246.6,510.3 247.0,507.7 248.0,507.4 317.2,482.6 323.6,480.4 327.6,479.0 330.6,478.1 333.0,477.3 335.0,476.8 336.9,476.3 338.5,476.0 340.0,475.7 341.4,475.5 342.7,475.4 344.0,475.3 345.2,475.3 346.4,475.4 347.6,475.5 348.8,475.6 350.0,475.9 351.2,476.2 352.4,476.6 353.7,477.0 355.1,477.6 356.6,478.3 358.3,479.1 360.3,480.1 362.7,481.5 365.8,483.3 370.8,486.3 425.4,520.2 425.4,520.2 425.4,523.0 425.4,525.9 425.4,528.8 425.4,531.7 425.4,534.6 425.4,537.5 425.4,540.3 425.4,543.2 425.4,546.1 425.4,549.0 320.7,592.0" fill="#3b6ac8"/>
<polygon points="247.4,537.2 247.3,534.2 247.2,531.3 247.2,528.3 247.2,525.4 247.2,522.5 247.3,519.6 247.4,516.8 247.5,514.0 247.8,511.2 248.3,508.6 249.0,508.4 316.1,484.3 322.6,482.0 326.7,480.7 329.8,479.7 332.3,478.9 334.4,478.3 336.3,477.9 338.0,477.5 339.6,477.2 341.0,477.0 342.4,476.9 343.7,476.8 345.0,476.8 346.2,476.9 347.4,477.0 348.7,477.2 349.9,477.4 351.1,477.7 352.4,478.1 353.8,478.6 355.2,479.2 356.8,479.9 358.5,480.7 360.6,481.8 363.0,483.2 366.2,485.1 371.3,488.1 423.8,520.8 423.8,520.8 423.8,523.7 423.8,526.5 423.8,529.4 423.8,532.3 423.8,535.2 423.8,538.1 423.9,541.0 423.9,543.9 423.9,546.8 423.9,549.6 320.7,592.0" fill="#3b6dca"/>
<polygon points="248.4,538.0 248.3,535.0 248.2,532.0 248.2,529.1 248.3,526.2 248.3,523.3 248.4,520.4 248.5,517.6 248.7,514.8 249.0,512.1 249.6,509.6 250.1,509.4 315.0,486.1 321.6,483.8 325.8,482.3 329.0,481.3 331.6,480.5 333.8,479.9 335.7,479.4 337.5,479.1 339.1,478.8 340.6,478.6 342.0,478.4 343.4,478.3 344.7,478.3 346.0,478.4 347.3,478.5 348.6,478.7 349.8,478.9 351.1,479.3 352.5,479.7 353.9,480.2 355.4,480.8 357.0,481.5 358.8,482.4 360.9,483.5 363.4,484.9 366.7,486.8 371.8,490.0 422.3,521.4 422.3,521.4 422.3,524.3 422.3,527.2 422.3,530.1 422.3,533.0 422.3,535.8 422.3,538.7 422.3,541.6 422.3,544.5 422.3,547.4 422.3,550.3 320.7,592.0" fill="#3c70cc"/>
<polygon points="249.4,538.8 249.3,535.8 249.3,532.8 249.3,529.9 249.3,527.0 249.4,524.1 249.5,521.3 249.7,518.5 249.9,515.7 250.2,513.0 250.8,510.5 251.2,510.4 313.7,487.9 320.5,485.5 324.8,484.0 328.1,483.0 330.8,482.2 333.0,481.5 335.1,481.0 336.9,480.6 338.6,480.3 340.2,480.1 341.6,480.0 343.1,479.9 344.4,479.9 345.8,479.9 347.1,480.1 348.4,480.3 349.8,480.5 351.1,480.9 352.5,481.3 354.0,481.8 355.5,482.4 357.2,483.2 359.1,484.1 361.2,485.2 363.8,486.7 367.2,488.7 372.4,491.9 420.7,522.0 420.7,522.0 420.7,524.9 420.7,527.8 420.7,530.7 420.7,533.6 420.7,536.5 420.7,539.4 420.7,542.2 420.7,545.1 420.8,548.0 420.8,550.9 320.7,592.0" fill="#3d72ce"/>
<polygon points="250.4,539.5 250.3,536.5 250.3,533.6 250.3,530.7 250.4,527.8 250.5,524.9 250.6,522.1 250.8,519.3 251.0,516.5 251.4,513.9 252.1,511.5 252.4,511.4 312.2,489.8 319.2,487.3 323.7,485.8 327.1,484.7 329.9,483.8 332.3,483.2 334.4,482.7 336.3,482.2 338.0,481.9 339.7,481.7 341.2,481.6 342.7,481.5 344.2,481.5 345.6,481.5 347.0,481.7 348.3,481.8 349.7,482.1 351.2,482.5 352.6,482.9 354.1,483.4 355.7,484.1 357.5,484.9 359.4,485.8 361.6,487.0 364.3,488.5 367.8,490.5 373.2,493.8 419.2,522.7 419.2,522.7 419.2,525.5 419.2,528.4 419.2,531.3 419.2,534.2 419.2,537.1 419.2,540.0 419.2,542.9 419.2,545.8 419.2,548.7 419.2,551.6 320.7,592.0" fill="#3d75d0"/>
<polygon points="252.0,540.7 252.0,537.8 252.0,534.8 252.1,532.0 252.2,529.1 252.4,526.3 252.6,523.6 252.9,520.8 253.2,518.2 253.7,515.6 254.7,513.4 254.8,513.4 308.4,494.0 315.8,491.3 320.7,489.7 324.4,488.5 327.5,487.5 330.2,486.8 332.5,486.2 334.7,485.8 336.6,485.4 338.5,485.2 340.2,485.0 341.9,484.9 343.6,484.9 345.2,484.9 346.7,485.1 348.3,485.3 349.9,485.6 351.5,486.0 353.1,486.5 354.8,487.1 356.6,487.8 358.6,488.6 360.7,489.7 363.1,491.0 366.0,492.6 369.8,494.8 375.5,498.3 416.1,523.9 416.1,523.9 416.3,526.7 416.4,529.5 416.5,532.4 416.6,535.2 416.7,538.1 416.8,541.0 416.8,543.8 416.9,546.7 416.9,549.6 416.9,552.5 320.7,592.0" fill="#3e78d2"/>
<polygon points="253.6,541.9 253.6,539.0 253.7,536.1 253.8,533.3 254.0,530.5 254.2,527.7 254.5,525.0 254.9,522.4 255.4,519.8 256.1,517.4 257.3,515.4 257.3,515.4 303.4,498.6 311.4,495.8 316.7,494.0 320.8,492.6 324.3,491.6 327.3,490.8 330.0,490.1 332.4,489.6 334.7,489.2 336.9,488.9 338.9,488.7 340.9,488.6 342.8,488.6 344.6,488.6 346.5,488.8 348.3,489.1 350.1,489.4 352.0,489.8 353.9,490.4 355.8,491.1 357.9,491.9 360.1,492.8 362.5,494.0 365.2,495.4 368.4,497.2 372.5,499.6 378.5,503.3 413.0,525.1 413.0,525.1 413.5,527.8 413.7,530.6 413.9,533.5 414.1,536.3 414.2,539.1 414.3,542.0 414.4,544.8 414.5,547.7 414.6,550.5 414.6,553.4 320.7,592.0" fill="#3f7ad4"/>
<polygon points="255.3,543.2 255.3,540.2 255.4,537.4 255.6,534.6 255.8,531.8 256.1,529.1 256.5,526.5 257.0,523.9 257.6,521.4 258.4,519.1 260.0,517.3 260.0,517.3 296.7,503.9 305.2,500.9 311.0,498.9 315.7,497.4 319.6,496.2 323.1,495.3 326.3,494.5 329.2,493.9 331.9,493.5 334.5,493.1 337.0,492.9 339.4,492.8 341.7,492.8 343.9,492.8 346.2,493.0 348.4,493.3 350.6,493.7 352.9,494.2 355.1,494.9 357.5,495.6 359.9,496.6 362.5,497.7 365.3,499.0 368.4,500.6 372.0,502.6 376.4,505.2 382.7,509.1 409.9,526.4 409.9,526.4 410.6,529.0 411.0,531.7 411.3,534.5 411.5,537.3 411.7,540.1 411.9,543.0 412.1,545.8 412.2,548.6 412.3,551.5 412.4,554.4 320.7,592.0" fill="#3f7dd6"/>
<polygon points="256.9,544.4 256.9,541.5 257.1,538.6 257.3,535.9 257.6,533.2 258.0,530.5 258.5,528.0 259.1,525.5 259.8,523.1 260.8,520.9 262.6,519.3 262.6,519.3 287.6,510.1 296.1,507.1 302.4,505.0 307.7,503.4 312.3,502.0 316.4,501.0 320.3,500.1 323.9,499.4 327.4,498.8 330.6,498.4 333.8,498.1 336.9,498.0 339.9,498.0 342.9,498.1 345.8,498.3 348.7,498.7 351.5,499.2 354.4,499.8 357.3,500.6 360.3,501.5 363.4,502.6 366.5,503.9 369.9,505.4 373.5,507.2 377.5,509.3 382.3,512.1 388.5,516.0 406.8,527.6 406.8,527.6 407.7,530.2 408.2,532.9 408.6,535.6 409.0,538.4 409.2,541.1 409.5,543.9 409.7,546.8 409.9,549.6 410.0,552.4 410.1,555.3 320.7,592.0" fill="#4080d8"/>
<polygon points="258.5,545.6 258.6,542.7 258.8,539.9 259.0,537.2 259.4,534.5 259.9,531.9 260.5,529.4 261.2,527.0 262.0,524.7 263.1,522.6 265.2,521.2 265.2,521.2 275.5,517.5 282.3,515.2 288.2,513.3 293.7,511.8 299.0,510.4 304.0,509.3 308.9,508.4 313.6,507.6 318.3,507.0 322.9,506.6 327.4,506.3 331.9,506.2 336.3,506.2 340.7,506.4 345.0,506.7 349.2,507.2 353.5,507.8 357.6,508.5 361.8,509.4 365.9,510.5 370.0,511.8 374.1,513.2 378.3,514.8 382.4,516.7 386.7,518.8 391.2,521.2 396.2,524.1 403.7,528.9 403.7,528.9 404.9,531.3 405.5,534.0 406.0,536.7 406.4,539.4 406.8,542.1 407.1,544.9 407.3,547.7 407.5,550.5 407.7,553.4 407.8,556.2 320.7,592.0" fill="#4182d9"/>
<polygon points="262.0,548.2 262.1,545.3 262.7,542.8 263.5,540.5 264.6,538.4 266.0,536.5 267.7,534.8 269.8,533.5 272.5,532.5 276.1,532.2 283.6,534.9 283.6,534.9 289.3,532.8 293.5,531.4 297.3,530.2 300.9,529.1 304.5,528.2 307.9,527.5 311.3,526.8 314.7,526.3 318.0,525.9 321.2,525.6 324.5,525.4 327.7,525.3 330.8,525.3 334.0,525.5 337.1,525.7 340.1,526.0 343.1,526.4 346.1,527.0 349.1,527.6 352.0,528.4 354.8,529.2 357.7,530.2 360.5,531.3 363.3,532.6 366.1,534.0 369.0,535.5 372.0,537.4 376.0,540.0 376.0,540.0 385.1,539.3 389.5,540.4 392.8,542.0 395.5,543.8 397.7,545.8 399.5,548.0 401.0,550.3 402.1,552.8 402.9,555.4 403.2,558.1 320.7,592.0" fill="#4285da"/>
<polygon points="265.4,550.7 265.6,547.9 266.2,545.5 267.3,543.4 268.9,541.6 271.0,540.2 273.6,539.2 277.0,538.8 281.4,539.1 287.5,540.7 302.1,548.6 302.1,548.6 304.3,547.8 306.1,547.1 308.0,546.6 309.8,546.1 311.5,545.6 313.3,545.2 315.1,544.9 316.8,544.7 318.6,544.4 320.3,544.3 322.1,544.2 323.8,544.1 325.5,544.2 327.2,544.2 328.9,544.3 330.5,544.5 332.1,544.7 333.7,545.0 335.3,545.4 336.9,545.8 338.4,546.2 339.8,546.7 341.3,547.3 342.7,547.9 344.0,548.5 345.4,549.3 346.7,550.1 348.2,551.2 348.2,551.1 367.8,546.2 376.0,545.8 382.0,546.4 386.7,547.4 390.4,548.8 393.3,550.5 395.5,552.5 397.2,554.8 398.2,557.2 398.7,560.0 320.7,592.0" fill="#4388db"/>
<polygon points="268.8,553.3 269.0,550.4 269.6,548.0 270.9,546.0 272.7,544.4 275.3,543.4 278.6,543.0 283.1,543.3 289.0,544.8 297.6,548.2 320.5,562.3 320.5,562.3 352.6,552.4 364.6,550.4 373.0,550.0 379.4,550.4 384.2,551.3 387.9,552.7 390.7,554.5 392.6,556.6 393.7,559.1 394.1,561.9 320.7,592.0" fill="#458cdd"/>
<polygon points="272.2,555.8 272.4,553.2 273.0,551.0 274.2,549.1 275.9,547.7 278.3,546.7 281.4,546.4 285.6,546.7 291.1,548.1 299.1,551.3 320.5,564.5 320.5,564.5 350.6,555.2 361.9,553.3 369.8,552.8 375.7,553.2 380.3,554.0 383.8,555.3 386.3,556.9 388.1,558.9 389.2,561.2 389.5,563.7 320.7,592.0" fill="#4791df"/>
<polygon points="275.6,558.4 275.8,556.0 276.4,553.9 277.5,552.2 279.1,550.9 281.3,550.1 284.2,549.8 288.1,550.1 293.2,551.5 300.7,554.5 320.5,566.8 320.5,566.8 348.6,558.0 359.2,556.2 366.5,555.7 372.1,556.0 376.3,556.7 379.6,557.9 382.0,559.4 383.7,561.2 384.6,563.3 385.0,565.6 320.7,592.0" fill="#4895e0"/>
<polygon points="287.2,567.0 287.3,565.2 287.8,563.7 288.6,562.4 289.8,561.4 291.5,560.7 293.7,560.4 296.5,560.7 300.3,561.6 305.9,563.8 320.6,572.9 320.6,572.9 341.4,566.4 349.3,565.1 354.7,564.7 358.8,565.0 362.0,565.6 364.4,566.5 366.2,567.6 367.5,569.0 368.2,570.6 368.4,572.4 320.7,592.0" fill="#4a98e2"/>
<polygon points="298.8,575.7 298.9,574.4 299.2,573.4 299.7,572.5 300.5,571.8 301.6,571.3 303.1,571.1 304.9,571.2 307.4,571.8 311.0,573.2 320.6,579.0 320.6,579.0 334.2,574.8 339.4,574.0 342.9,573.8 345.6,574.0 347.7,574.5 349.3,575.1 350.5,575.9 351.3,576.9 351.8,578.0 351.9,579.2 320.7,592.0" fill="#4b9ce3"/>
<polygon points="310.4,584.3 310.4,583.7 310.6,583.1 310.8,582.6 311.2,582.2 311.7,581.9 312.4,581.7 313.3,581.7 314.5,581.9 316.2,582.5 320.7,585.1 320.7,585.1 327.1,583.2 329.5,582.9 331.2,582.9 332.4,583.1 333.4,583.4 334.1,583.7 334.7,584.2 335.1,584.7 335.3,585.3 335.4,586.0 320.7,592.0" fill="#4c9ee4"/>
<polygon points="241.5,503.6 320.5,562.3 320.7,592.0 243.0,534.0" fill="#ffffff" fill-opacity="0.06"/>
<polygon points="320.5,562.3 431.5,517.7 431.5,546.5 320.7,592.0" fill="#ffffff" fill-opacity="0.06"/>
<polyline points="241.5,503.6 320.5,562.3 431.5,517.7" fill="none" stroke="#000" stroke-opacity="0.22" stroke-width="0.9"/>
<line x1="320.5" y1="562.3" x2="320.7" y2="592" stroke="#000" stroke-opacity="0.15" stroke-width="0.9"/>
<polyline points="245.3,535.7 245.2,532.7 245.2,529.7 245.1,526.8 245.1,523.8 245.1,520.9 245.1,518.0 245.1,515.1 245.2,512.2 245.4,509.4 245.8,506.8 247.0,506.3 318.3,480.9 324.5,478.7 328.3,477.4 331.2,476.5 333.6,475.8 335.6,475.2 337.4,474.8 338.9,474.4 340.4,474.2 341.8,474.0 343.0,473.9 344.3,473.8 345.4,473.8 346.6,473.9 347.7,474.0 348.9,474.1 350.0,474.4 351.2,474.7 352.4,475.0 353.7,475.5 355.0,476.0 356.5,476.7 358.2,477.5 360.1,478.5 362.4,479.8 365.5,481.6 370.3,484.6 426.9,519.5 426.9,519.5 426.9,522.4 427.0,525.3 427.0,528.2 427.0,531.1 427.0,533.9 427.0,536.8 427.0,539.7 427.0,542.6 427.0,545.5 427.0,548.4" fill="none" stroke="#d4e6ff" stroke-opacity="0.85" stroke-width="1.1" stroke-linejoin="round"/>
<polyline points="250.4,539.5 250.3,536.5 250.3,533.6 250.3,530.7 250.4,527.8 250.5,524.9 250.6,522.1 250.8,519.3 251.0,516.5 251.4,513.9 252.1,511.5 252.4,511.4 312.2,489.8 319.2,487.3 323.7,485.8 327.1,484.7 329.9,483.8 332.3,483.2 334.4,482.7 336.3,482.2 338.0,481.9 339.7,481.7 341.2,481.6 342.7,481.5 344.2,481.5 345.6,481.5 347.0,481.7 348.3,481.8 349.7,482.1 351.2,482.5 352.6,482.9 354.1,483.4 355.7,484.1 357.5,484.9 359.4,485.8 361.6,487.0 364.3,488.5 367.8,490.5 373.2,493.8 419.2,522.7 419.2,522.7 419.2,525.5 419.2,528.4 419.2,531.3 419.2,534.2 419.2,537.1 419.2,540.0 419.2,542.9 419.2,545.8 419.2,548.7 419.2,551.6" fill="none" stroke="#d4e6ff" stroke-opacity="0.85" stroke-width="1.1" stroke-linejoin="round"/>
<polyline points="258.5,545.6 258.6,542.7 258.8,539.9 259.0,537.2 259.4,534.5 259.9,531.9 260.5,529.4 261.2,527.0 262.0,524.7 263.1,522.6 265.2,521.2 265.2,521.2 275.5,517.5 282.3,515.2 288.2,513.3 293.7,511.8 299.0,510.4 304.0,509.3 308.9,508.4 313.6,507.6 318.3,507.0 322.9,506.6 327.4,506.3 331.9,506.2 336.3,506.2 340.7,506.4 345.0,506.7 349.2,507.2 353.5,507.8 357.6,508.5 361.8,509.4 365.9,510.5 370.0,511.8 374.1,513.2 378.3,514.8 382.4,516.7 386.7,518.8 391.2,521.2 396.2,524.1 403.8,528.9 403.8,528.9 404.9,531.3 405.5,534.0 406.0,536.7 406.4,539.4 406.8,542.1 407.1,544.9 407.3,547.7 407.5,550.5 407.7,553.4 407.8,556.2" fill="none" stroke="#d4e6ff" stroke-opacity="0.85" stroke-width="1.1" stroke-linejoin="round"/>
<polyline points="275.6,558.4 275.8,556.0 276.4,553.9 277.5,552.2 279.1,550.9 281.3,550.1 284.2,549.8 288.1,550.1 293.2,551.5 300.7,554.5 320.5,566.8 320.5,566.8 348.6,558.0 359.2,556.2 366.5,555.7 372.1,556.0 376.3,556.7 379.6,557.9 382.0,559.4 383.7,561.2 384.6,563.3 385.0,565.6" fill="none" stroke="#d4e6ff" stroke-opacity="0.85" stroke-width="1.1" stroke-linejoin="round"/>
</g>
<polygon points="347.3,466.1 431.5,517.7 431.5,546.5 320.7,592.0 243.0,534.0 241.5,503.6" fill="none" stroke="#0a1a40" stroke-width="1.1" stroke-linejoin="round"/><clipPath id="clipfpe"><polygon points="125.8,615.5 210.0,667.1 210.0,695.9 99.2,741.4 21.5,683.4 20.0,653.0"/></clipPath>
<g clip-path="url(#clipfpe)">
<polygon points="125.8,615.5 210.0,667.1 210.0,695.9 99.2,741.4 21.5,683.4 20.0,653.0" fill="#61a358"/>
<polygon points="21.6,683.5 21.4,680.4 21.3,677.4 21.1,674.3 21.0,671.3 20.8,668.3 20.7,665.2 20.5,662.2 20.4,659.1 20.2,656.1 20.1,653.1 34.7,647.9 110.8,620.9 114.2,619.7 116.3,619.0 117.8,618.5 119.0,618.2 120.0,617.9 120.9,617.7 121.7,617.5 122.4,617.4 123.1,617.3 123.7,617.2 124.3,617.2 124.8,617.2 125.4,617.2 126.0,617.3 126.5,617.4 127.1,617.5 127.6,617.6 128.2,617.8 128.9,618.0 129.5,618.3 130.3,618.7 131.1,619.1 132.1,619.6 133.3,620.3 135.0,621.3 137.7,622.9 209.9,667.1 209.9,667.1 209.9,670.0 209.9,672.9 209.9,675.8 209.9,678.7 209.9,681.5 209.9,684.4 209.9,687.3 209.9,690.2 209.9,693.1 209.9,695.9 99.2,741.4" fill="#62a357"/>
<polygon points="21.7,683.5 21.5,680.5 21.4,677.4 21.2,674.4 21.1,671.4 20.9,668.3 20.8,665.3 20.6,662.2 20.5,659.2 20.3,656.2 20.2,653.1 33.0,648.6 109.9,621.3 113.5,620.1 115.7,619.3 117.3,618.8 118.6,618.4 119.7,618.1 120.6,617.9 121.4,617.7 122.2,617.6 122.9,617.5 123.5,617.4 124.2,617.4 124.8,617.4 125.4,617.4 126.0,617.5 126.5,617.6 127.1,617.7 127.7,617.9 128.4,618.1 129.0,618.3 129.8,618.6 130.5,618.9 131.4,619.4 132.5,619.9 133.8,620.7 135.5,621.7 138.4,623.4 209.8,667.2 209.8,667.2 209.8,670.1 209.8,672.9 209.8,675.8 209.8,678.7 209.8,681.6 209.8,684.5 209.8,687.4 209.8,690.2 209.8,693.1 209.8,696.0 99.2,741.4" fill="#64a455"/>
<polygon points="21.7,683.6 21.6,680.5 21.4,677.5 21.3,674.5 21.1,671.4 21.0,668.4 20.9,665.3 20.7,662.3 20.6,659.3 20.4,656.2 20.3,653.2 31.3,649.3 108.9,621.8 112.7,620.5 115.1,619.7 116.8,619.1 118.1,618.7 119.2,618.4 120.2,618.2 121.1,618.0 121.9,617.8 122.7,617.7 123.4,617.6 124.1,617.6 124.7,617.6 125.3,617.6 126.0,617.7 126.6,617.8 127.2,617.9 127.9,618.1 128.5,618.3 129.2,618.6 130.0,618.9 130.8,619.3 131.8,619.7 132.9,620.3 134.3,621.1 136.1,622.2 139.2,624.0 209.7,667.2 209.7,667.2 209.7,670.1 209.7,673.0 209.7,675.9 209.7,678.8 209.7,681.6 209.7,684.5 209.7,687.4 209.7,690.3 209.7,693.2 209.7,696.0 99.2,741.4" fill="#65a454"/>
<polygon points="21.8,683.6 21.7,680.6 21.5,677.6 21.4,674.5 21.2,671.5 21.1,668.4 20.9,665.4 20.8,662.4 20.7,659.3 20.5,656.3 20.4,653.3 29.7,650.0 107.8,622.3 111.8,620.9 114.3,620.0 116.1,619.5 117.6,619.0 118.8,618.7 119.8,618.4 120.8,618.2 121.6,618.1 122.4,618.0 123.2,617.9 123.9,617.8 124.6,617.8 125.3,617.9 126.0,617.9 126.6,618.0 127.3,618.2 128.0,618.4 128.7,618.6 129.5,618.9 130.3,619.2 131.2,619.6 132.2,620.1 133.4,620.7 134.9,621.6 136.8,622.7 140.1,624.7 209.6,667.3 209.6,667.3 209.6,670.2 209.6,673.0 209.6,675.9 209.6,678.8 209.6,681.7 209.6,684.6 209.6,687.4 209.6,690.3 209.6,693.2 209.6,696.1 99.2,741.4" fill="#66a552"/>
<polygon points="21.9,683.7 21.7,680.7 21.6,677.6 21.4,674.6 21.3,671.5 21.2,668.5 21.0,665.5 20.9,662.4 20.7,659.4 20.6,656.4 20.5,653.4 28.1,650.6 106.5,622.8 110.8,621.3 113.4,620.5 115.4,619.8 116.9,619.4 118.2,619.0 119.4,618.7 120.4,618.5 121.3,618.3 122.2,618.2 123.0,618.1 123.8,618.1 124.5,618.1 125.3,618.1 126.0,618.2 126.7,618.3 127.4,618.5 128.2,618.7 129.0,618.9 129.8,619.2 130.6,619.6 131.6,620.0 132.7,620.5 134.0,621.2 135.5,622.1 137.6,623.3 141.1,625.4 209.4,667.3 209.4,667.3 209.4,670.2 209.4,673.1 209.4,676.0 209.4,678.8 209.4,681.7 209.4,684.6 209.4,687.5 209.4,690.4 209.4,693.2 209.4,696.1 99.2,741.4" fill="#68a551"/>
<polygon points="22.0,683.7 21.8,680.7 21.7,677.7 21.5,674.6 21.4,671.6 21.2,668.6 21.1,665.5 21.0,662.5 20.8,659.5 20.7,656.4 20.6,653.4 26.7,651.3 105.0,623.5 109.6,621.9 112.4,620.9 114.5,620.2 116.2,619.7 117.6,619.4 118.8,619.0 119.9,618.8 120.9,618.6 121.9,618.5 122.8,618.4 123.6,618.4 124.4,618.4 125.2,618.4 126.0,618.5 126.8,618.6 127.6,618.8 128.4,619.0 129.2,619.2 130.1,619.6 131.0,619.9 132.1,620.4 133.3,621.0 134.6,621.7 136.3,622.7 138.6,624.0 142.3,626.2 209.3,667.4 209.3,667.4 209.3,670.2 209.3,673.1 209.3,676.0 209.3,678.9 209.3,681.8 209.3,684.7 209.3,687.5 209.3,690.4 209.3,693.3 209.3,696.2 99.2,741.4" fill="#69a64f"/>
<polygon points="22.0,683.8 21.9,680.8 21.8,677.7 21.6,674.7 21.5,671.7 21.3,668.6 21.2,665.6 21.0,662.6 20.9,659.5 20.8,656.5 20.7,653.5 25.3,651.9 103.3,624.2 108.2,622.5 111.3,621.4 113.5,620.7 115.3,620.2 116.9,619.7 118.2,619.4 119.4,619.2 120.5,619.0 121.5,618.8 122.5,618.7 123.4,618.7 124.3,618.7 125.1,618.7 126.0,618.8 126.9,618.9 127.7,619.1 128.6,619.4 129.5,619.6 130.5,620.0 131.5,620.4 132.6,620.9 133.9,621.5 135.4,622.3 137.2,623.4 139.7,624.8 143.6,627.2 209.2,667.4 209.2,667.4 209.2,670.3 209.2,673.2 209.2,676.1 209.2,678.9 209.2,681.8 209.2,684.7 209.2,687.6 209.2,690.5 209.2,693.3 209.2,696.2 99.2,741.4" fill="#6ba64e"/>
<polygon points="22.1,683.9 22.0,680.8 21.8,677.8 21.7,674.8 21.5,671.7 21.4,668.7 21.3,665.7 21.1,662.6 21.0,659.6 20.9,656.6 20.8,653.6 24.1,652.4 101.2,625.0 106.5,623.2 109.9,622.0 112.3,621.3 114.3,620.7 116.0,620.2 117.4,619.8 118.7,619.6 120.0,619.4 121.1,619.2 122.1,619.1 123.1,619.1 124.1,619.0 125.1,619.1 126.0,619.2 127.0,619.3 127.9,619.5 128.9,619.8 129.9,620.1 131.0,620.5 132.1,620.9 133.3,621.5 134.7,622.2 136.3,623.0 138.3,624.1 141.0,625.7 145.3,628.3 209.1,667.5 209.1,667.5 209.1,670.3 209.1,673.2 209.1,676.1 209.1,679.0 209.1,681.9 209.1,684.7 209.1,687.6 209.1,690.5 209.1,693.4 209.1,696.3 99.2,741.4" fill="#6ca74c"/>
<polygon points="22.2,683.9 22.1,680.9 21.9,677.8 21.8,674.8 21.6,671.8 21.5,668.8 21.4,665.7 21.2,662.7 21.1,659.7 21.0,656.6 20.9,653.6 23.0,652.9 98.7,626.0 104.5,624.0 108.1,622.8 110.8,621.9 113.0,621.3 114.9,620.7 116.5,620.3 118.0,620.0 119.3,619.8 120.5,619.6 121.7,619.5 122.8,619.5 123.9,619.5 125.0,619.5 126.0,619.6 127.1,619.8 128.1,620.0 129.2,620.3 130.3,620.6 131.5,621.0 132.8,621.5 134.2,622.2 135.7,622.9 137.5,623.9 139.7,625.1 142.6,626.8 147.2,629.6 209.0,667.5 209.0,667.5 209.0,670.4 209.0,673.3 209.0,676.1 209.0,679.0 209.0,681.9 209.0,684.8 209.0,687.7 209.0,690.5 209.0,693.4 209.0,696.3 99.2,741.4" fill="#6da74b"/>
<polygon points="22.3,684.0 22.1,680.9 22.0,677.9 21.8,674.9 21.7,671.8 21.6,668.8 21.4,665.8 21.3,662.8 21.2,659.7 21.1,656.7 20.9,653.7 22.2,653.2 95.6,627.2 102.0,625.0 106.0,623.6 109.0,622.7 111.4,622.0 113.5,621.4 115.3,621.0 117.0,620.6 118.5,620.3 119.9,620.2 121.2,620.0 122.5,620.0 123.7,620.0 124.9,620.0 126.1,620.1 127.2,620.3 128.4,620.6 129.7,620.9 130.9,621.3 132.2,621.7 133.7,622.3 135.2,623.0 136.9,623.8 138.9,624.9 141.3,626.2 144.6,628.1 149.6,631.2 208.9,667.5 208.9,667.5 208.9,670.4 208.9,673.3 208.9,676.2 208.9,679.1 208.9,682.0 208.9,684.8 208.9,687.7 208.9,690.6 208.9,693.5 208.9,696.4 99.2,741.4" fill="#6fa74a"/>
<polygon points="22.4,684.1 22.3,681.1 22.2,678.0 22.0,675.0 21.9,672.0 21.8,669.0 21.6,665.9 21.5,662.9 21.4,659.9 21.3,656.9 21.2,653.9 22.2,653.6 94.2,628.0 100.9,625.7 105.0,624.3 108.2,623.3 110.7,622.6 112.9,622.0 114.8,621.5 116.5,621.1 118.1,620.9 119.5,620.7 120.9,620.5 122.3,620.5 123.6,620.5 124.8,620.5 126.1,620.7 127.3,620.8 128.6,621.1 129.9,621.4 131.2,621.8 132.6,622.3 134.1,622.9 135.7,623.6 137.5,624.5 139.6,625.6 142.1,627.0 145.4,629.0 150.7,632.2 208.6,667.7 208.6,667.7 208.6,670.6 208.6,673.4 208.6,676.3 208.6,679.2 208.6,682.1 208.6,685.0 208.6,687.8 208.6,690.7 208.6,693.6 208.6,696.5 99.2,741.4" fill="#6fb041"/>
<polygon points="22.6,684.2 22.4,681.2 22.3,678.2 22.2,675.1 22.1,672.1 22.0,669.1 21.8,666.1 21.7,663.1 21.7,660.1 21.6,657.1 21.5,654.2 22.3,653.9 92.7,628.9 99.6,626.5 103.9,625.0 107.2,624.0 109.9,623.2 112.2,622.6 114.2,622.1 116.0,621.7 117.6,621.4 119.2,621.2 120.7,621.1 122.1,621.0 123.4,621.0 124.8,621.1 126.1,621.2 127.4,621.4 128.7,621.7 130.1,622.0 131.5,622.4 133.0,622.9 134.5,623.6 136.2,624.3 138.1,625.2 140.3,626.4 142.9,627.9 146.4,629.9 151.9,633.2 208.2,667.8 208.2,667.8 208.2,670.7 208.2,673.6 208.2,676.5 208.2,679.3 208.2,682.2 208.2,685.1 208.2,688.0 208.2,690.9 208.2,693.7 208.2,696.6 99.2,741.4" fill="#70b141"/>
<polygon points="22.7,684.3 22.6,681.3 22.5,678.3 22.4,675.3 22.3,672.2 22.1,669.2 22.1,666.2 22.0,663.2 21.9,660.3 21.8,657.3 21.8,654.4 22.4,654.2 91.0,629.8 98.2,627.3 102.7,625.8 106.2,624.7 109.0,623.8 111.4,623.2 113.5,622.7 115.4,622.3 117.1,622.0 118.8,621.8 120.3,621.6 121.8,621.6 123.3,621.6 124.7,621.6 126.1,621.8 127.5,622.0 128.9,622.2 130.3,622.6 131.8,623.1 133.4,623.6 135.0,624.3 136.8,625.1 138.8,626.0 141.1,627.2 143.9,628.8 147.5,630.9 153.2,634.3 207.9,667.9 207.9,667.9 207.9,670.8 207.9,673.7 207.9,676.6 207.9,679.5 207.9,682.4 207.9,685.2 207.9,688.1 207.9,691.0 207.9,693.9 207.9,696.8 99.2,741.4" fill="#72b240"/>
<polygon points="22.9,684.4 22.8,681.4 22.6,678.4 22.5,675.4 22.4,672.4 22.3,669.4 22.3,666.4 22.2,663.4 22.1,660.4 22.1,657.5 22.1,654.6 22.5,654.5 89.1,630.8 96.6,628.2 101.4,626.6 105.0,625.4 107.9,624.6 110.5,623.9 112.7,623.3 114.7,622.9 116.6,622.6 118.3,622.4 120.0,622.2 121.6,622.1 123.1,622.1 124.6,622.2 126.1,622.4 127.6,622.6 129.1,622.9 130.6,623.3 132.2,623.7 133.8,624.3 135.6,625.0 137.5,625.8 139.6,626.9 142.0,628.1 144.9,629.8 148.8,632.0 154.7,635.6 207.6,668.1 207.6,668.1 207.6,671.0 207.6,673.8 207.6,676.7 207.6,679.6 207.6,682.5 207.6,685.4 207.6,688.3 207.6,691.1 207.6,694.0 207.6,696.9 99.2,741.4" fill="#74b340"/>
<polygon points="23.1,684.6 22.9,681.5 22.8,678.5 22.7,675.5 22.6,672.5 22.5,669.5 22.5,666.5 22.4,663.6 22.4,660.6 22.4,657.7 22.4,654.8 22.7,654.7 87.0,631.9 94.8,629.2 99.8,627.5 103.6,626.3 106.7,625.3 109.4,624.6 111.8,624.0 114.0,623.6 116.0,623.3 117.8,623.0 119.6,622.8 121.3,622.8 122.9,622.8 124.5,622.8 126.1,623.0 127.7,623.2 129.3,623.6 131.0,624.0 132.6,624.5 134.4,625.1 136.2,625.8 138.3,626.7 140.5,627.8 143.1,629.1 146.1,630.8 150.1,633.2 156.3,636.9 207.2,668.2 207.2,668.2 207.2,671.1 207.2,674.0 207.2,676.9 207.2,679.7 207.2,682.6 207.2,685.5 207.2,688.4 207.2,691.3 207.2,694.2 207.2,697.0 99.2,741.4" fill="#76b43f"/>
<polygon points="23.2,684.7 23.1,681.7 23.0,678.6 22.9,675.6 22.8,672.7 22.7,669.7 22.7,666.7 22.6,663.7 22.6,660.8 22.6,657.9 22.7,655.0 22.9,655.0 84.6,633.0 92.8,630.2 98.0,628.4 102.1,627.2 105.4,626.2 108.2,625.4 110.8,624.8 113.1,624.3 115.2,624.0 117.2,623.7 119.1,623.5 120.9,623.4 122.7,623.5 124.4,623.5 126.2,623.7 127.9,623.9 129.6,624.3 131.3,624.7 133.1,625.3 135.0,625.9 137.0,626.7 139.2,627.6 141.5,628.8 144.2,630.2 147.5,632.0 151.7,634.5 158.1,638.3 206.9,668.3 206.9,668.3 206.9,671.2 206.9,674.1 206.9,677.0 206.9,679.9 206.9,682.8 206.9,685.6 206.9,688.5 206.9,691.4 206.9,694.3 206.9,697.2 99.2,741.4" fill="#77b53e"/>
<polygon points="23.4,684.8 23.2,681.8 23.1,678.8 23.1,675.8 23.0,672.8 22.9,669.8 22.9,666.9 22.8,663.9 22.8,661.0 22.9,658.1 23.0,655.3 23.1,655.2 81.9,634.3 90.4,631.4 96.0,629.5 100.3,628.1 103.8,627.1 106.9,626.3 109.6,625.6 112.1,625.1 114.4,624.7 116.5,624.5 118.6,624.3 120.5,624.2 122.4,624.2 124.3,624.3 126.2,624.5 128.0,624.7 129.9,625.1 131.8,625.6 133.7,626.1 135.7,626.8 137.9,627.7 140.2,628.7 142.7,629.9 145.6,631.4 149.1,633.3 153.5,635.9 160.2,639.9 206.6,668.5 206.6,668.5 206.6,671.4 206.6,674.2 206.6,677.1 206.6,680.0 206.6,682.9 206.6,685.8 206.6,688.7 206.6,691.5 206.6,694.4 206.6,697.3 99.2,741.4" fill="#78b63d"/>
<polygon points="23.5,684.9 23.4,681.9 23.3,678.9 23.2,675.9 23.2,672.9 23.1,670.0 23.1,667.0 23.1,664.1 23.1,661.1 23.1,658.3 23.3,655.5 23.4,655.5 78.9,635.7 87.7,632.6 93.6,630.7 98.2,629.2 101.9,628.1 105.2,627.3 108.2,626.6 110.8,626.0 113.3,625.6 115.7,625.3 117.9,625.1 120.1,625.0 122.1,625.0 124.2,625.1 126.2,625.3 128.2,625.6 130.2,626.0 132.3,626.5 134.4,627.1 136.6,627.9 138.9,628.8 141.4,629.9 144.1,631.2 147.2,632.8 150.9,634.8 155.6,637.5 162.6,641.7 206.2,668.6 206.2,668.6 206.2,671.5 206.2,674.4 206.2,677.3 206.2,680.1 206.2,683.0 206.2,685.9 206.2,688.8 206.2,691.7 206.2,694.6 206.2,697.4 99.2,741.4" fill="#7ab73d"/>
<polygon points="23.7,685.0 23.6,682.0 23.5,679.0 23.4,676.0 23.3,673.1 23.3,670.1 23.3,667.2 23.3,664.2 23.3,661.3 23.4,658.5 23.6,655.7 23.7,655.7 75.3,637.3 84.6,634.1 90.8,632.0 95.7,630.5 99.7,629.3 103.3,628.4 106.5,627.6 109.4,627.1 112.1,626.6 114.7,626.3 117.1,626.1 119.5,626.0 121.8,626.0 124.0,626.1 126.2,626.3 128.4,626.6 130.7,627.0 132.9,627.6 135.2,628.3 137.6,629.1 140.1,630.0 142.8,631.2 145.8,632.6 149.1,634.3 153.0,636.5 158.0,639.3 165.3,643.8 205.9,668.8 205.9,668.8 205.9,671.6 205.9,674.5 205.9,677.4 205.9,680.3 205.9,683.2 205.9,686.1 205.9,688.9 205.9,691.8 205.9,694.7 205.9,697.6 99.2,741.4" fill="#7bb73c"/>
<polygon points="23.8,685.1 23.7,682.1 23.6,679.1 23.6,676.2 23.5,673.2 23.5,670.2 23.5,667.3 23.5,664.4 23.6,661.5 23.7,658.6 24.0,655.9 24.0,655.9 71.2,639.1 80.9,635.8 87.5,633.6 92.7,631.9 97.1,630.7 100.9,629.7 104.4,628.9 107.6,628.2 110.6,627.8 113.4,627.4 116.1,627.2 118.7,627.1 121.3,627.1 123.8,627.2 126.3,627.4 128.7,627.8 131.2,628.3 133.7,628.8 136.2,629.6 138.9,630.5 141.6,631.5 144.6,632.8 147.8,634.3 151.4,636.1 155.6,638.4 160.9,641.5 168.5,646.0 205.6,668.9 205.6,668.9 205.6,671.8 205.6,674.7 205.6,677.5 205.6,680.4 205.6,683.3 205.6,686.2 205.6,689.1 205.6,692.0 205.6,694.8 205.6,697.7 99.2,741.4" fill="#7db93c"/>
<polygon points="24.3,685.5 24.2,682.5 24.1,679.5 24.1,676.5 24.0,673.6 24.0,670.6 24.0,667.7 24.0,664.8 24.1,661.9 24.2,659.1 24.6,656.4 24.6,656.4 70.5,640.0 80.2,636.7 86.9,634.5 92.1,632.8 96.5,631.5 100.4,630.5 104.0,629.7 107.2,629.1 110.3,628.6 113.1,628.2 115.9,628.0 118.5,627.9 121.1,627.9 123.7,628.0 126.2,628.3 128.7,628.6 131.2,629.1 133.7,629.7 136.3,630.4 139.0,631.3 141.8,632.4 144.8,633.7 148.0,635.2 151.7,637.1 155.9,639.4 161.2,642.4 168.8,647.0 204.8,669.2 204.8,669.2 204.8,672.1 204.8,675.0 204.8,677.8 204.8,680.7 204.8,683.6 204.8,686.5 204.8,689.4 204.8,692.3 204.8,695.2 204.8,698.0 99.2,741.4" fill="#7eba3a"/>
<polygon points="24.8,685.8 24.7,682.8 24.6,679.8 24.5,676.9 24.5,673.9 24.5,671.0 24.5,668.1 24.6,665.2 24.7,662.3 24.8,659.5 25.2,656.9 25.2,656.9 69.8,640.9 79.5,637.6 86.2,635.4 91.5,633.7 96.0,632.4 100.0,631.4 103.5,630.6 106.8,629.9 109.9,629.4 112.8,629.1 115.6,628.8 118.3,628.7 121.0,628.7 123.5,628.9 126.1,629.1 128.6,629.5 131.2,629.9 133.8,630.6 136.4,631.3 139.1,632.2 142.0,633.3 145.0,634.6 148.3,636.1 151.9,638.0 156.2,640.3 161.5,643.4 169.1,648.0 204.0,669.5 204.0,669.5 204.0,672.4 204.0,675.3 204.0,678.2 204.0,681.0 204.0,683.9 204.0,686.8 204.0,689.7 204.0,692.6 204.0,695.5 204.0,698.4 99.2,741.4" fill="#80bb3a"/>
<polygon points="25.2,686.2 25.1,683.2 25.1,680.2 25.0,677.2 25.0,674.3 25.0,671.4 25.1,668.5 25.1,665.6 25.2,662.8 25.4,660.0 25.8,657.3 25.8,657.3 69.1,641.9 78.8,638.5 85.6,636.3 90.9,634.6 95.4,633.3 99.4,632.3 103.1,631.4 106.4,630.8 109.5,630.3 112.5,629.9 115.4,629.7 118.1,629.6 120.8,629.6 123.4,629.7 126.0,630.0 128.6,630.3 131.2,630.8 133.8,631.4 136.5,632.2 139.3,633.1 142.1,634.2 145.2,635.5 148.5,637.0 152.2,638.9 156.5,641.3 161.9,644.3 169.5,648.9 203.2,669.8 203.2,669.8 203.2,672.7 203.2,675.6 203.2,678.5 203.2,681.4 203.2,684.2 203.2,687.1 203.2,690.0 203.2,692.9 203.2,695.8 203.2,698.7 99.2,741.4" fill="#83bc39"/>
<polygon points="25.7,686.5 25.6,683.5 25.5,680.6 25.5,677.6 25.5,674.7 25.5,671.8 25.6,668.9 25.7,666.0 25.8,663.2 26.0,660.4 26.5,657.8 26.5,657.8 68.4,642.8 78.1,639.4 84.9,637.2 90.3,635.5 94.8,634.2 98.9,633.2 102.6,632.3 106.0,631.7 109.2,631.1 112.2,630.8 115.1,630.5 117.9,630.4 120.6,630.4 123.3,630.6 125.9,630.8 128.6,631.2 131.2,631.7 133.9,632.3 136.6,633.1 139.4,634.0 142.3,635.1 145.4,636.4 148.8,638.0 152.5,639.9 156.9,642.2 162.2,645.3 169.8,649.9 202.5,670.1 202.5,670.1 202.5,673.0 202.5,675.9 202.5,678.8 202.5,681.7 202.5,684.6 202.5,687.4 202.5,690.3 202.5,693.2 202.5,696.1 202.5,699.0 99.2,741.4" fill="#84bd39"/>
<polygon points="26.2,686.9 26.1,683.9 26.0,680.9 26.0,678.0 26.0,675.0 26.0,672.1 26.1,669.3 26.2,666.4 26.4,663.6 26.6,660.8 27.1,658.3 27.1,658.3 67.7,643.8 77.4,640.4 84.2,638.1 89.6,636.5 94.2,635.1 98.3,634.1 102.1,633.2 105.5,632.5 108.8,632.0 111.8,631.7 114.8,631.4 117.6,631.3 120.4,631.3 123.1,631.4 125.8,631.7 128.5,632.1 131.2,632.6 133.9,633.2 136.7,634.0 139.6,634.9 142.5,636.0 145.7,637.4 149.1,638.9 152.9,640.9 157.2,643.2 162.6,646.3 170.2,650.9 201.7,670.4 201.7,670.4 201.7,673.3 201.7,676.2 201.7,679.1 201.7,682.0 201.7,684.9 201.7,687.8 201.7,690.7 201.7,693.5 201.7,696.4 201.7,699.3 99.2,741.4" fill="#86be38"/>
<polygon points="26.6,687.2 26.5,684.2 26.5,681.3 26.5,678.3 26.5,675.4 26.6,672.5 26.6,669.7 26.8,666.8 26.9,664.0 27.2,661.3 27.7,658.8 27.7,658.8 66.9,644.7 76.6,641.4 83.4,639.1 88.9,637.4 93.6,636.0 97.7,635.0 101.5,634.1 105.0,633.4 108.3,632.9 111.5,632.5 114.5,632.3 117.4,632.2 120.2,632.2 123.0,632.3 125.7,632.6 128.5,632.9 131.2,633.4 134.0,634.1 136.8,634.9 139.7,635.8 142.7,637.0 145.9,638.3 149.4,639.9 153.2,641.8 157.6,644.2 163.0,647.3 170.6,651.9 200.9,670.8 200.9,670.8 200.9,673.6 200.9,676.5 200.9,679.4 200.9,682.3 200.9,685.2 200.9,688.1 200.9,691.0 200.9,693.9 200.9,696.7 200.9,699.6 99.2,741.4" fill="#88bf36"/>
<polygon points="27.1,687.6 27.0,684.6 27.0,681.6 27.0,678.7 27.0,675.8 27.1,672.9 27.2,670.0 27.3,667.2 27.5,664.4 27.8,661.7 28.4,659.2 28.4,659.2 66.1,645.7 75.8,642.3 82.6,640.1 88.2,638.3 92.9,637.0 97.1,635.9 101.0,635.0 104.5,634.3 107.9,633.8 111.1,633.4 114.1,633.2 117.1,633.1 120.0,633.1 122.8,633.2 125.7,633.5 128.4,633.8 131.2,634.4 134.1,635.0 136.9,635.8 139.9,636.8 143.0,637.9 146.2,639.3 149.7,640.9 153.6,642.8 158.0,645.3 163.4,648.4 171.0,652.9 200.1,671.1 200.1,671.1 200.1,674.0 200.1,676.8 200.1,679.7 200.1,682.6 200.1,685.5 200.1,688.4 200.1,691.3 200.1,694.2 200.1,697.1 200.1,699.9 99.2,741.4" fill="#89c036"/>
<polygon points="27.6,687.9 27.5,684.9 27.5,682.0 27.5,679.1 27.5,676.2 27.6,673.3 27.7,670.4 27.8,667.6 28.1,664.8 28.4,662.1 29.0,659.7 29.0,659.7 65.3,646.7 74.9,643.3 81.8,641.0 87.4,639.3 92.2,637.9 96.5,636.8 100.4,636.0 104.0,635.3 107.4,634.7 110.7,634.3 113.8,634.1 116.8,634.0 119.8,634.0 122.7,634.1 125.6,634.4 128.4,634.8 131.3,635.3 134.1,635.9 137.1,636.8 140.1,637.7 143.2,638.9 146.5,640.3 150.1,641.9 153.9,643.9 158.4,646.3 163.8,649.4 171.4,654.0 199.3,671.4 199.3,671.4 199.3,674.3 199.3,677.2 199.3,680.0 199.4,682.9 199.4,685.8 199.4,688.7 199.4,691.6 199.4,694.5 199.4,697.4 199.4,700.3 99.2,741.4" fill="#8bc135"/>
<polygon points="28.0,688.3 28.0,685.3 27.9,682.3 27.9,679.4 28.0,676.5 28.1,673.7 28.2,670.8 28.4,668.0 28.6,665.3 28.9,662.6 29.6,660.2 29.6,660.2 64.4,647.7 74.1,644.3 81.0,642.0 86.6,640.3 91.5,638.9 95.8,637.8 99.8,636.9 103.5,636.2 106.9,635.6 110.3,635.3 113.5,635.0 116.6,634.9 119.6,634.9 122.5,635.0 125.5,635.3 128.4,635.7 131.3,636.2 134.2,636.9 137.2,637.7 140.3,638.7 143.5,639.9 146.8,641.3 150.4,642.9 154.3,644.9 158.8,647.3 164.3,650.5 171.8,655.0 198.6,671.7 198.6,671.7 198.6,674.6 198.6,677.5 198.6,680.4 198.6,683.3 198.6,686.1 198.6,689.0 198.6,691.9 198.6,694.8 198.6,697.7 198.6,700.6 99.2,741.4" fill="#8dc134"/>
<polygon points="28.5,688.6 28.4,685.6 28.4,682.7 28.4,679.8 28.5,676.9 28.6,674.0 28.7,671.2 28.9,668.4 29.2,665.7 29.5,663.0 30.3,660.6 30.3,660.6 63.5,648.7 73.2,645.3 80.1,643.0 85.8,641.3 90.7,639.9 95.1,638.8 99.1,637.9 102.9,637.1 106.4,636.6 109.8,636.2 113.1,635.9 116.2,635.8 119.3,635.8 122.4,636.0 125.4,636.2 128.4,636.6 131.3,637.2 134.3,637.9 137.4,638.7 140.5,639.7 143.8,640.9 147.2,642.3 150.8,644.0 154.8,646.0 159.3,648.4 164.8,651.5 172.2,656.0 197.8,672.0 197.8,672.0 197.8,674.9 197.8,677.8 197.8,680.7 197.8,683.6 197.8,686.5 197.8,689.3 197.8,692.2 197.8,695.1 197.8,698.0 197.8,700.9 99.2,741.4" fill="#8ec333"/>
<polygon points="29.1,689.1 29.0,686.1 29.0,683.2 29.1,680.3 29.1,677.4 29.3,674.5 29.4,671.7 29.6,668.9 29.9,666.2 30.3,663.6 31.1,661.2 31.1,661.2 62.3,650.0 71.8,646.7 78.8,644.4 84.6,642.6 89.6,641.2 94.1,640.0 98.2,639.1 102.1,638.4 105.7,637.8 109.2,637.4 112.6,637.2 115.9,637.0 119.1,637.0 122.2,637.2 125.3,637.5 128.4,637.9 131.5,638.4 134.6,639.1 137.8,640.0 141.0,641.0 144.3,642.2 147.8,643.6 151.5,645.3 155.6,647.4 160.1,649.8 165.6,653.0 173.0,657.4 196.9,672.4 196.9,672.4 196.9,675.2 197.0,678.1 197.0,681.0 197.0,683.9 197.0,686.8 197.0,689.7 197.0,692.6 197.0,695.4 197.0,698.3 197.0,701.2 99.2,741.4" fill="#8fc332"/>
<polygon points="29.7,689.5 29.7,686.6 29.7,683.6 29.7,680.7 29.8,677.9 29.9,675.0 30.1,672.2 30.3,669.5 30.6,666.7 31.0,664.1 31.9,661.8 31.9,661.8 60.9,651.3 70.4,648.0 77.4,645.7 83.3,643.9 88.3,642.5 92.9,641.4 97.2,640.4 101.2,639.7 104.9,639.1 108.6,638.7 112.1,638.4 115.5,638.3 118.8,638.3 122.0,638.4 125.3,638.7 128.5,639.2 131.7,639.7 134.9,640.4 138.1,641.3 141.5,642.4 144.9,643.6 148.5,645.0 152.3,646.8 156.4,648.8 161.0,651.3 166.5,654.4 173.8,658.8 196.0,672.7 196.0,672.7 196.1,675.6 196.1,678.5 196.1,681.3 196.2,684.2 196.2,687.1 196.2,690.0 196.2,692.9 196.2,695.8 196.3,698.7 196.3,701.5 99.2,741.4" fill="#91c430"/>
<polygon points="30.4,690.0 30.3,687.0 30.3,684.1 30.4,681.2 30.5,678.4 30.6,675.5 30.8,672.7 31.0,670.0 31.3,667.3 31.8,664.7 32.6,662.4 32.6,662.4 59.5,652.7 68.9,649.4 75.9,647.1 81.8,645.3 87.0,643.9 91.7,642.7 96.1,641.8 100.2,641.0 104.1,640.4 107.8,640.0 111.5,639.7 115.0,639.6 118.4,639.6 121.8,639.8 125.2,640.0 128.5,640.5 131.9,641.1 135.2,641.8 138.6,642.7 142.0,643.8 145.6,645.0 149.2,646.5 153.1,648.2 157.3,650.3 162.0,652.8 167.5,655.9 174.7,660.3 195.1,673.1 195.1,673.1 195.2,675.9 195.3,678.8 195.3,681.7 195.4,684.6 195.4,687.4 195.4,690.3 195.4,693.2 195.5,696.1 195.5,699.0 195.5,701.9 99.2,741.4" fill="#92c42e"/>
<polygon points="31.0,690.5 30.9,687.5 30.9,684.6 31.0,681.7 31.1,678.8 31.3,676.0 31.5,673.2 31.7,670.5 32.1,667.8 32.5,665.2 33.4,663.0 33.4,663.0 58.0,654.1 67.3,650.9 74.3,648.6 80.3,646.8 85.6,645.3 90.4,644.1 94.9,643.2 99.1,642.4 103.2,641.8 107.0,641.4 110.8,641.1 114.5,641.0 118.1,641.0 121.6,641.1 125.1,641.4 128.6,641.9 132.1,642.5 135.5,643.2 139.1,644.1 142.6,645.2 146.3,646.5 150.0,648.0 154.0,649.8 158.3,651.9 163.0,654.4 168.5,657.5 175.6,661.7 194.2,673.4 194.2,673.4 194.4,676.3 194.4,679.1 194.5,682.0 194.5,684.9 194.6,687.8 194.6,690.6 194.7,693.5 194.7,696.4 194.7,699.3 194.7,702.2 99.2,741.4" fill="#94c52d"/>
<polygon points="31.6,690.9 31.6,688.0 31.6,685.1 31.6,682.2 31.8,679.3 31.9,676.5 32.1,673.8 32.4,671.0 32.8,668.4 33.3,665.8 34.2,663.6 34.2,663.6 56.5,655.5 65.6,652.4 72.6,650.1 78.6,648.3 84.0,646.8 88.9,645.6 93.5,644.6 97.9,643.9 102.1,643.2 106.2,642.8 110.1,642.5 113.9,642.4 117.7,642.4 121.4,642.6 125.0,642.9 128.7,643.3 132.3,643.9 135.9,644.7 139.6,645.7 143.3,646.8 147.0,648.1 150.9,649.6 155.0,651.4 159.3,653.5 164.1,656.0 169.6,659.1 176.5,663.2 193.3,673.8 193.3,673.8 193.5,676.6 193.6,679.5 193.7,682.3 193.7,685.2 193.8,688.1 193.8,691.0 193.9,693.8 193.9,696.7 193.9,699.6 193.9,702.5 99.2,741.4" fill="#96c52c"/>
<polygon points="32.2,691.4 32.2,688.4 32.2,685.5 32.3,682.7 32.4,679.8 32.6,677.0 32.8,674.3 33.1,671.5 33.5,668.9 34.0,666.3 35.0,664.2 35.0,664.2 55.0,657.0 63.8,653.9 70.8,651.7 76.8,649.9 82.3,648.4 87.3,647.2 92.1,646.2 96.6,645.4 101.0,644.8 105.2,644.3 109.3,644.0 113.3,643.9 117.2,643.9 121.1,644.1 125.0,644.4 128.8,644.9 132.6,645.5 136.3,646.3 140.2,647.3 144.0,648.4 147.9,649.7 151.9,651.3 156.1,653.1 160.5,655.2 165.3,657.7 170.7,660.7 177.4,664.7 192.5,674.1 192.5,674.1 192.6,677.0 192.8,679.8 192.8,682.7 192.9,685.5 193.0,688.4 193.0,691.3 193.1,694.2 193.1,697.0 193.1,699.9 193.2,702.8 99.2,741.4" fill="#97c62b"/>
<polygon points="32.8,691.9 32.8,688.9 32.8,686.0 32.9,683.1 33.1,680.3 33.3,677.5 33.5,674.8 33.8,672.1 34.2,669.4 34.7,666.9 35.8,664.7 35.8,664.7 53.4,658.4 61.9,655.5 68.8,653.3 74.8,651.5 80.4,650.0 85.5,648.8 90.4,647.8 95.1,647.0 99.7,646.4 104.1,645.9 108.4,645.6 112.6,645.5 116.7,645.5 120.8,645.7 124.8,646.0 128.8,646.5 132.8,647.2 136.8,648.0 140.8,649.0 144.8,650.1 148.9,651.5 153.0,653.0 157.3,654.8 161.8,656.9 166.5,659.4 171.9,662.4 178.4,666.2 191.6,674.5 191.6,674.5 191.8,677.3 191.9,680.2 192.0,683.0 192.1,685.9 192.2,688.7 192.2,691.6 192.3,694.5 192.3,697.4 192.4,700.2 192.4,703.1 99.2,741.4" fill="#99c729"/>
<polygon points="33.5,692.3 33.4,689.4 33.5,686.5 33.6,683.6 33.7,680.8 33.9,678.0 34.2,675.3 34.5,672.6 34.9,670.0 35.5,667.4 36.6,665.3 36.6,665.3 51.7,659.9 59.9,657.1 66.6,655.0 72.7,653.2 78.3,651.7 83.6,650.5 88.6,649.5 93.5,648.7 98.2,648.1 102.8,647.7 107.3,647.4 111.8,647.2 116.1,647.3 120.5,647.5 124.7,647.8 128.9,648.3 133.1,649.0 137.3,649.8 141.5,650.8 145.7,652.0 149.9,653.3 154.2,654.9 158.6,656.7 163.1,658.8 167.9,661.2 173.2,664.1 179.4,667.8 190.7,674.9 190.7,674.9 190.9,677.7 191.1,680.5 191.2,683.3 191.3,686.2 191.4,689.1 191.4,691.9 191.5,694.8 191.5,697.7 191.6,700.6 191.6,703.5 99.2,741.4" fill="#9ac728"/>
<polygon points="34.1,692.8 34.1,689.8 34.1,686.9 34.2,684.1 34.4,681.3 34.6,678.5 34.9,675.8 35.2,673.1 35.6,670.5 36.2,668.0 37.4,665.9 37.4,665.9 50.1,661.3 57.8,658.8 64.3,656.7 70.3,655.0 76.0,653.6 81.4,652.4 86.6,651.4 91.6,650.6 96.6,650.0 101.4,649.5 106.2,649.2 110.8,649.1 115.5,649.2 120.0,649.3 124.6,649.7 129.0,650.2 133.5,650.9 137.9,651.7 142.3,652.8 146.7,654.0 151.1,655.3 155.5,656.9 160.0,658.7 164.6,660.8 169.4,663.1 174.5,665.9 180.3,669.3 189.8,675.2 189.8,675.2 190.1,678.0 190.2,680.8 190.4,683.7 190.5,686.5 190.6,689.4 190.6,692.3 190.7,695.1 190.8,698.0 190.8,700.9 190.8,703.8 99.2,741.4" fill="#9cc827"/>
<polygon points="34.7,693.3 34.7,690.3 34.7,687.4 34.9,684.6 35.0,681.8 35.3,679.0 35.5,676.3 35.9,673.6 36.4,671.0 37.0,668.5 38.2,666.5 38.2,666.5 48.5,662.8 55.6,660.4 61.9,658.5 67.8,656.9 73.4,655.5 78.9,654.4 84.3,653.4 89.5,652.6 94.7,652.0 99.8,651.6 104.8,651.3 109.8,651.2 114.7,651.2 119.6,651.4 124.4,651.8 129.2,652.3 133.9,653.0 138.6,653.9 143.2,654.9 147.8,656.1 152.4,657.5 157.0,659.1 161.6,660.8 166.2,662.8 170.9,665.1 175.8,667.7 181.2,670.8 188.9,675.6 188.9,675.6 189.2,678.3 189.4,681.2 189.5,684.0 189.7,686.9 189.8,689.7 189.8,692.6 189.9,695.5 190.0,698.3 190.0,701.2 190.1,704.1 99.2,741.4" fill="#bddc1b"/>
<polygon points="36.3,694.4 36.4,691.6 36.7,688.9 37.2,686.3 37.8,683.8 38.6,681.5 39.6,679.3 40.8,677.3 42.3,675.5 44.3,674.0 48.3,674.0 48.3,674.0 56.2,671.2 61.9,669.3 67.1,667.7 72.0,666.3 76.8,665.1 81.4,664.2 85.9,663.3 90.4,662.7 94.8,662.2 99.2,661.8 103.5,661.5 107.8,661.4 112.0,661.5 116.2,661.7 120.4,662.0 124.5,662.5 128.5,663.0 132.6,663.8 136.5,664.7 140.5,665.7 144.4,666.9 148.2,668.2 152.1,669.7 155.9,671.4 159.8,673.2 163.8,675.4 168.1,677.9 173.9,681.6 173.9,681.6 178.2,682.8 180.5,684.8 182.2,687.0 183.7,689.3 184.9,691.7 185.9,694.2 186.7,696.8 187.3,699.4 187.8,702.1 188.1,704.9 99.2,741.4" fill="#c0de19"/>
<polygon points="37.8,695.6 38.0,692.8 38.5,690.2 39.2,687.8 40.3,685.7 41.6,683.7 43.2,682.0 45.3,680.6 47.8,679.5 51.2,679.2 58.4,681.6 58.4,681.6 64.2,679.5 68.6,678.0 72.7,676.7 76.6,675.6 80.4,674.7 84.2,673.9 87.9,673.2 91.5,672.7 95.1,672.3 98.7,672.0 102.3,671.8 105.8,671.7 109.3,671.7 112.8,671.9 116.2,672.2 119.6,672.5 123.0,673.0 126.3,673.6 129.6,674.3 132.8,675.2 136.0,676.1 139.1,677.2 142.2,678.4 145.3,679.8 148.4,681.3 151.5,683.0 154.8,684.9 158.9,687.6 158.9,687.6 168.0,686.9 172.4,688.0 175.7,689.6 178.4,691.4 180.6,693.5 182.4,695.6 183.8,697.9 184.9,700.4 185.7,703.0 186.1,705.7 99.2,741.4" fill="#c3e019"/>
<polygon points="39.4,696.7 39.6,693.9 40.2,691.5 41.2,689.3 42.5,687.3 44.3,685.7 46.5,684.4 49.3,683.6 52.8,683.3 57.7,683.9 68.6,689.1 68.6,689.1 72.4,687.7 75.6,686.6 78.6,685.7 81.5,684.9 84.4,684.2 87.3,683.6 90.1,683.1 92.9,682.6 95.7,682.3 98.5,682.1 101.2,681.9 104.0,681.9 106.7,681.9 109.4,682.0 112.0,682.2 114.7,682.5 117.3,682.9 119.8,683.4 122.4,683.9 124.8,684.6 127.3,685.3 129.7,686.1 132.0,687.0 134.3,688.0 136.6,689.2 138.9,690.4 141.2,691.8 144.0,693.6 144.0,693.6 158.4,690.7 165.0,691.0 169.8,692.0 173.6,693.4 176.7,695.0 179.2,696.9 181.2,699.0 182.7,701.3 183.7,703.8 184.1,706.5 99.2,741.4" fill="#c6e218"/>
<polygon points="40.9,697.9 41.1,695.1 41.8,692.7 42.9,690.6 44.6,688.9 46.7,687.5 49.4,686.6 52.9,686.3 57.4,686.7 63.7,688.4 78.7,696.6 78.7,696.6 81.0,695.8 83.0,695.1 85.0,694.5 86.9,694.0 88.8,693.5 90.7,693.1 92.6,692.8 94.6,692.5 96.5,692.3 98.4,692.1 100.3,692.0 102.2,692.0 104.1,692.0 105.9,692.1 107.8,692.2 109.6,692.4 111.4,692.7 113.1,693.0 114.8,693.4 116.5,693.8 118.2,694.3 119.8,694.9 121.4,695.5 122.9,696.1 124.4,696.9 125.9,697.7 127.4,698.6 129.0,699.7 129.0,699.7 149.5,694.3 158.2,693.7 164.5,694.1 169.4,695.1 173.3,696.4 176.4,698.1 178.8,700.0 180.5,702.2 181.6,704.6 182.1,707.4 99.2,741.4" fill="#cae417"/>
<polygon points="42.5,699.1 42.7,696.3 43.4,693.9 44.6,691.9 46.5,690.3 48.9,689.2 52.1,688.6 56.2,688.7 61.6,689.8 69.3,692.6 88.9,704.2 88.9,704.2 89.9,703.8 90.8,703.5 91.8,703.2 92.7,702.9 93.7,702.7 94.6,702.5 95.6,702.3 96.6,702.2 97.6,702.1 98.5,702.0 99.5,702.0 100.5,701.9 101.5,702.0 102.4,702.0 103.4,702.1 104.3,702.2 105.3,702.3 106.2,702.5 107.1,702.7 107.9,702.9 108.8,703.1 109.6,703.4 110.4,703.7 111.2,704.0 111.9,704.4 112.6,704.8 113.3,705.2 114.0,705.7 114.0,705.7 141.2,697.7 152.1,696.2 159.8,696.0 165.7,696.6 170.3,697.6 173.8,699.1 176.6,700.9 178.5,703.0 179.7,705.5 180.1,708.2 99.2,741.4" fill="#cee617"/>
<polygon points="44.0,700.2 44.2,697.4 44.9,695.0 46.2,693.1 48.2,691.6 50.9,690.7 54.5,690.4 59.2,691.0 65.5,692.7 74.6,696.5 99.0,711.7 99.0,711.7 133.5,700.8 146.4,698.5 155.5,697.8 162.3,698.0 167.5,698.8 171.5,700.1 174.4,701.8 176.5,703.8 177.7,706.3 178.1,709.0 99.2,741.4" fill="#d4e917"/>
<polygon points="45.6,701.4 45.8,698.7 46.5,696.4 47.8,694.6 49.7,693.2 52.3,692.3 55.8,692.1 60.3,692.7 66.5,694.4 75.3,698.2 99.0,713.0 99.0,713.0 132.6,702.3 145.2,700.0 154.0,699.2 160.7,699.4 165.8,700.1 169.6,701.3 172.5,702.9 174.5,704.9 175.7,707.2 176.1,709.8 99.2,741.4" fill="#ddec16"/>
<polygon points="47.1,702.5 47.3,700.0 48.0,697.8 49.3,696.1 51.1,694.8 53.7,694.0 57.1,693.8 61.5,694.4 67.4,696.1 76.0,699.8 99.0,714.2 99.0,714.2 131.7,703.8 144.1,701.5 152.6,700.7 159.1,700.8 164.0,701.4 167.8,702.5 170.6,704.1 172.6,705.9 173.7,708.1 174.1,710.6 99.2,741.4" fill="#e4f016"/>
<polygon points="48.7,703.7 48.9,701.3 49.5,699.2 50.8,697.5 52.6,696.3 55.1,695.6 58.3,695.5 62.6,696.1 68.4,697.9 76.7,701.5 99.0,715.5 99.0,715.5 130.9,705.2 142.9,703.0 151.2,702.1 157.5,702.1 162.3,702.7 166.0,703.8 168.7,705.2 170.6,707.0 171.7,709.1 172.1,711.5 99.2,741.4" fill="#edf213"/>
<polygon points="50.2,704.9 50.4,702.5 51.1,700.6 52.3,699.0 54.0,697.9 56.4,697.3 59.6,697.2 63.8,697.9 69.4,699.6 77.4,703.1 99.0,716.7 99.0,716.7 130.0,706.7 141.7,704.4 149.8,703.6 155.9,703.5 160.6,704.1 164.2,705.0 166.8,706.4 168.7,708.0 169.8,710.0 170.1,712.3 99.2,741.4" fill="#f3f20f"/>
<polygon points="56.5,709.6 56.7,707.5 57.3,705.8 58.3,704.4 59.9,703.5 62.0,702.9 64.7,702.8 68.4,703.4 73.2,704.8 80.3,707.9 99.1,719.7 99.1,719.7 126.0,711.0 136.2,709.0 143.3,708.3 148.6,708.3 152.7,708.8 155.8,709.6 158.1,710.8 159.7,712.3 160.7,714.0 161.0,716.0 99.2,741.4" fill="#f5f20e"/>
<polygon points="62.8,714.3 63.0,712.5 63.5,711.0 64.4,709.8 65.7,709.0 67.5,708.5 69.9,708.4 73.0,708.8 77.1,710.1 83.1,712.7 99.1,722.7 99.1,722.7 122.1,715.3 130.7,713.6 136.8,713.0 141.3,713.0 144.8,713.5 147.5,714.2 149.4,715.2 150.8,716.5 151.6,718.0 151.9,719.8 99.2,741.4" fill="#f7f20e"/>
<polygon points="69.1,719.0 69.2,717.5 69.7,716.2 70.4,715.2 71.5,714.5 73.0,714.1 75.0,714.0 77.5,714.3 80.9,715.3 85.9,717.5 99.1,725.7 99.1,725.7 118.1,719.6 125.3,718.2 130.3,717.7 134.0,717.8 136.9,718.2 139.1,718.8 140.7,719.7 141.9,720.8 142.5,722.1 142.8,723.5 99.2,741.4" fill="#f9f20d"/>
<polygon points="75.4,723.7 75.5,722.5 75.9,721.5 76.4,720.6 77.3,720.0 78.5,719.7 80.0,719.6 82.1,719.8 84.8,720.6 88.7,722.2 99.1,728.7 99.1,728.7 114.1,723.9 119.8,722.8 123.8,722.5 126.7,722.5 129.0,722.9 130.7,723.4 132.0,724.1 132.9,725.0 133.5,726.1 133.6,727.3 99.2,741.4" fill="#fbf20c"/>
<polygon points="81.7,728.3 81.8,727.4 82.0,726.7 82.5,726.0 83.1,725.5 84.0,725.2 85.1,725.1 86.6,725.3 88.6,725.8 91.5,727.0 99.1,731.7 99.1,731.7 110.2,728.2 114.4,727.4 117.2,727.2 119.4,727.3 121.1,727.6 122.4,728.0 123.3,728.6 124.0,729.3 124.4,730.1 124.5,731.0 99.2,741.4" fill="#fbee0c"/>
<polygon points="88.0,733.0 88.1,732.4 88.2,731.9 88.5,731.4 88.9,731.1 89.5,730.8 90.2,730.7 91.2,730.7 92.4,731.0 94.3,731.7 99.2,734.7 99.2,734.7 106.2,732.5 108.9,732.1 110.7,732.0 112.1,732.1 113.2,732.3 114.0,732.6 114.7,733.1 115.1,733.5 115.3,734.1 115.4,734.7 99.2,741.4" fill="#fbec0c"/>
<polygon points="94.3,737.7 94.3,737.4 94.4,737.1 94.5,736.8 94.7,736.6 94.9,736.4 95.3,736.3 95.7,736.2 96.2,736.2 97.0,736.5 99.2,737.7 99.2,737.7 102.3,736.8 103.4,736.7 104.2,736.7 104.9,736.9 105.3,737.0 105.7,737.3 106.0,737.5 106.1,737.8 106.3,738.1 106.3,738.5 99.2,741.4" fill="#fbea0c"/>
<polyline points="22.8,655.1 125.1,618.2 206.1,668.7" fill="none" stroke="#ffffff" stroke-opacity="0.28" stroke-width="3" stroke-linejoin="round"/>
<polyline points="20.0,653.0 99.0,711.7 210.0,667.1" fill="none" stroke="#000" stroke-opacity="0.22" stroke-width="0.9"/>
<line x1="99.0" y1="711.6999999999999" x2="99.19999999999999" y2="741.4" stroke="#000" stroke-opacity="0.15" stroke-width="0.9"/>
<polyline points="22.3,684.0 22.1,680.9 22.0,677.9 21.8,674.9 21.7,671.8 21.6,668.8 21.4,665.8 21.3,662.8 21.2,659.7 21.1,656.7 20.9,653.7 22.2,653.2 95.6,627.2 102.0,625.0 106.0,623.6 109.0,622.7 111.4,622.0 113.5,621.4 115.3,621.0 117.0,620.6 118.5,620.3 119.9,620.2 121.2,620.0 122.5,620.0 123.7,620.0 124.9,620.0 126.1,620.1 127.2,620.3 128.4,620.6 129.7,620.9 130.9,621.3 132.2,621.7 133.7,622.3 135.2,623.0 136.9,623.8 138.9,624.9 141.3,626.2 144.6,628.1 149.6,631.2 208.9,667.5 208.9,667.5 208.9,670.4 208.9,673.3 208.9,676.2 208.9,679.1 208.9,682.0 208.9,684.8 208.9,687.7 208.9,690.6 208.9,693.5 208.9,696.4" fill="none" stroke="#ffffff" stroke-opacity="0.42" stroke-width="1.3" stroke-linejoin="round"/>
<polyline points="23.8,685.1 23.7,682.1 23.6,679.1 23.6,676.2 23.5,673.2 23.5,670.2 23.5,667.3 23.5,664.4 23.6,661.5 23.7,658.6 23.9,655.9 24.0,655.9 71.2,639.1 80.9,635.8 87.5,633.6 92.7,631.9 97.1,630.7 100.9,629.7 104.4,628.9 107.6,628.2 110.6,627.8 113.4,627.4 116.1,627.2 118.7,627.1 121.3,627.1 123.8,627.2 126.3,627.4 128.7,627.8 131.2,628.3 133.7,628.8 136.2,629.6 138.9,630.5 141.6,631.5 144.6,632.8 147.8,634.3 151.4,636.1 155.6,638.4 160.9,641.5 168.5,646.0 205.6,668.9 205.6,668.9 205.6,671.8 205.6,674.7 205.6,677.5 205.6,680.4 205.6,683.3 205.6,686.2 205.6,689.1 205.6,692.0 205.6,694.8 205.6,697.7" fill="none" stroke="#ffffff" stroke-opacity="0.42" stroke-width="1.3" stroke-linejoin="round"/>
<polyline points="28.5,688.6 28.4,685.6 28.4,682.7 28.4,679.8 28.5,676.9 28.6,674.0 28.7,671.2 28.9,668.4 29.2,665.7 29.5,663.0 30.3,660.6 30.3,660.6 63.5,648.7 73.2,645.3 80.1,643.0 85.8,641.3 90.7,639.9 95.1,638.8 99.1,637.9 102.9,637.1 106.4,636.6 109.8,636.2 113.1,635.9 116.2,635.8 119.3,635.8 122.4,636.0 125.4,636.2 128.4,636.6 131.3,637.2 134.3,637.9 137.4,638.7 140.5,639.7 143.8,640.9 147.2,642.3 150.8,644.0 154.8,646.0 159.3,648.4 164.8,651.5 172.2,656.0 197.8,672.0 197.8,672.0 197.8,674.9 197.8,677.8 197.8,680.7 197.8,683.6 197.8,686.5 197.8,689.3 197.8,692.2 197.8,695.1 197.8,698.0 197.8,700.9" fill="none" stroke="#ffffff" stroke-opacity="0.42" stroke-width="1.3" stroke-linejoin="round"/>
<polyline points="34.7,693.3 34.7,690.3 34.7,687.4 34.9,684.6 35.0,681.8 35.3,679.0 35.5,676.3 35.9,673.6 36.4,671.0 37.0,668.5 38.2,666.5 38.2,666.5 48.5,662.8 55.6,660.4 61.9,658.5 67.8,656.9 73.4,655.5 78.9,654.4 84.3,653.4 89.5,652.6 94.7,652.0 99.8,651.6 104.8,651.3 109.8,651.2 114.7,651.2 119.6,651.4 124.4,651.8 129.2,652.3 133.9,653.0 138.6,653.9 143.2,654.9 147.8,656.1 152.4,657.5 157.0,659.1 161.6,660.8 166.2,662.8 170.9,665.1 175.8,667.7 181.2,670.8 188.9,675.6 188.9,675.6 189.2,678.3 189.4,681.2 189.5,684.0 189.7,686.9 189.8,689.7 189.8,692.6 189.9,695.5 190.0,698.3 190.0,701.2 190.1,704.1" fill="none" stroke="#ffffff" stroke-opacity="0.42" stroke-width="1.3" stroke-linejoin="round"/>
<polyline points="50.2,704.9 50.4,702.5 51.1,700.6 52.3,699.0 54.0,697.9 56.4,697.3 59.6,697.2 63.8,697.9 69.4,699.6 77.4,703.1 99.0,716.7 99.0,716.7 130.0,706.7 141.7,704.4 149.8,703.6 155.9,703.5 160.6,704.1 164.2,705.0 166.8,706.4 168.7,708.0 169.8,710.0 170.1,712.3" fill="none" stroke="#ffffff" stroke-opacity="0.42" stroke-width="1.3" stroke-linejoin="round"/>
</g>
<polygon points="125.8,615.5 210.0,667.1 210.0,695.9 99.2,741.4 21.5,683.4 20.0,653.0" fill="none" stroke="#1a2a10" stroke-width="1.1" stroke-linejoin="round"/><clipPath id="clipkap"><polygon points="348.6,615.6 432.8,667.2 432.8,696.0 322.0,741.5 244.3,683.5 242.8,653.1"/></clipPath>
<g clip-path="url(#clipkap)">
<polygon points="348.6,615.6 432.8,667.2 432.8,696.0 322.0,741.5 244.3,683.5 242.8,653.1" fill="#7eb93b"/>
<polygon points="244.6,683.7 244.4,680.7 244.3,677.6 244.1,674.6 244.0,671.6 243.9,668.5 243.7,665.5 243.6,662.5 243.5,659.5 243.4,656.5 243.3,653.5 257.6,648.4 333.6,621.4 337.0,620.2 339.1,619.5 340.6,619.0 341.8,618.7 342.8,618.4 343.7,618.2 344.5,618.0 345.2,617.9 345.9,617.8 346.5,617.7 347.1,617.7 347.7,617.7 348.2,617.7 348.8,617.8 349.3,617.8 349.9,618.0 350.5,618.1 351.1,618.3 351.7,618.5 352.4,618.8 353.1,619.1 354.0,619.6 354.9,620.1 356.2,620.8 357.8,621.8 360.6,623.4 432.3,667.4 432.3,667.4 432.3,670.3 432.3,673.2 432.3,676.0 432.3,678.9 432.3,681.8 432.3,684.7 432.4,687.5 432.4,690.4 432.4,693.3 432.4,696.2 322.0,741.5" fill="#83bc39"/>
<polygon points="244.8,683.9 244.7,680.9 244.6,677.8 244.4,674.8 244.3,671.8 244.2,668.8 244.1,665.8 244.0,662.8 243.9,659.8 243.8,656.8 243.7,653.8 256.0,649.4 332.7,622.2 336.3,621.0 338.5,620.2 340.1,619.7 341.4,619.3 342.5,619.0 343.4,618.8 344.2,618.6 345.0,618.5 345.7,618.4 346.4,618.3 347.0,618.3 347.6,618.3 348.2,618.3 348.8,618.4 349.4,618.5 350.0,618.6 350.6,618.7 351.3,618.9 351.9,619.2 352.6,619.5 353.4,619.8 354.3,620.3 355.4,620.8 356.7,621.6 358.5,622.6 361.3,624.4 431.8,667.6 431.8,667.6 431.8,670.5 431.8,673.3 431.9,676.2 431.9,679.1 431.9,682.0 431.9,684.8 431.9,687.7 431.9,690.6 431.9,693.5 431.9,696.4 322.0,741.5" fill="#87bf38"/>
<polygon points="245.1,684.1 245.0,681.1 244.9,678.1 244.7,675.0 244.6,672.0 244.5,669.0 244.4,666.0 244.3,663.0 244.3,660.0 244.2,657.1 244.2,654.2 254.5,650.5 331.6,623.1 335.4,621.8 337.8,621.0 339.5,620.4 340.9,620.0 342.0,619.7 343.0,619.4 343.9,619.2 344.8,619.1 345.5,619.0 346.2,618.9 346.9,618.9 347.6,618.9 348.2,618.9 348.9,619.0 349.5,619.1 350.1,619.2 350.8,619.4 351.5,619.6 352.2,619.8 353.0,620.2 353.8,620.5 354.8,621.0 355.9,621.6 357.3,622.4 359.1,623.5 362.2,625.4 431.3,667.8 431.3,667.8 431.3,670.7 431.4,673.5 431.4,676.4 431.4,679.3 431.4,682.2 431.4,685.0 431.5,687.9 431.5,690.8 431.5,693.7 431.5,696.5 322.0,741.5" fill="#8ac235"/>
<polygon points="245.4,684.3 245.3,681.3 245.1,678.3 245.0,675.3 244.9,672.3 244.8,669.3 244.8,666.3 244.7,663.3 244.6,660.3 244.6,657.4 244.7,654.5 253.0,651.5 330.3,624.1 334.4,622.6 337.0,621.8 338.8,621.2 340.3,620.7 341.5,620.4 342.6,620.1 343.6,619.9 344.5,619.7 345.3,619.6 346.1,619.6 346.8,619.5 347.5,619.5 348.2,619.5 348.9,619.6 349.6,619.7 350.3,619.9 351.0,620.0 351.7,620.3 352.5,620.5 353.3,620.9 354.2,621.3 355.3,621.8 356.5,622.5 357.9,623.3 360.0,624.5 363.2,626.5 430.8,668.0 430.8,668.0 430.9,670.9 430.9,673.7 430.9,676.6 430.9,679.5 431.0,682.3 431.0,685.2 431.0,688.1 431.0,691.0 431.0,693.8 431.0,696.7 322.0,741.5" fill="#8ec333"/>
<polygon points="245.7,684.5 245.5,681.5 245.4,678.5 245.3,675.5 245.2,672.5 245.2,669.5 245.1,666.5 245.1,663.6 245.0,660.6 245.0,657.7 245.2,654.9 251.7,652.5 328.8,625.1 333.3,623.5 336.0,622.6 338.0,622.0 339.6,621.5 340.9,621.1 342.1,620.8 343.2,620.6 344.1,620.4 345.0,620.3 345.8,620.2 346.7,620.2 347.4,620.2 348.2,620.2 348.9,620.3 349.7,620.4 350.4,620.5 351.2,620.7 352.0,621.0 352.8,621.3 353.7,621.7 354.7,622.1 355.8,622.7 357.1,623.4 358.7,624.3 360.9,625.5 364.4,627.6 430.3,668.2 430.3,668.2 430.4,671.1 430.4,673.9 430.5,676.8 430.5,679.7 430.5,682.5 430.5,685.4 430.6,688.3 430.6,691.2 430.6,694.0 430.6,696.9 322.0,741.5" fill="#91c42f"/>
<polygon points="245.9,684.7 245.8,681.7 245.7,678.7 245.6,675.7 245.5,672.7 245.5,669.7 245.4,666.8 245.4,663.8 245.4,660.9 245.5,658.0 245.6,655.2 250.5,653.5 327.1,626.2 331.9,624.5 334.8,623.5 337.0,622.8 338.7,622.3 340.2,621.9 341.5,621.6 342.6,621.3 343.7,621.1 344.7,621.0 345.6,620.9 346.5,620.9 347.3,620.9 348.1,620.9 349.0,621.0 349.8,621.1 350.6,621.3 351.5,621.5 352.3,621.8 353.2,622.1 354.2,622.5 355.3,623.0 356.5,623.6 357.9,624.3 359.7,625.3 362.0,626.7 365.8,629.0 429.8,668.4 429.8,668.4 429.9,671.2 429.9,674.1 430.0,677.0 430.0,679.8 430.1,682.7 430.1,685.6 430.1,688.5 430.1,691.3 430.1,694.2 430.1,697.1 322.0,741.5" fill="#94c52d"/>
<polygon points="246.2,684.9 246.1,681.9 246.0,678.9 245.9,675.9 245.9,672.9 245.8,670.0 245.8,667.0 245.8,664.1 245.8,661.2 245.9,658.3 246.1,655.6 249.5,654.4 325.0,627.5 330.2,625.6 333.4,624.6 335.8,623.8 337.7,623.2 339.3,622.8 340.7,622.4 342.0,622.1 343.2,621.9 344.2,621.8 345.3,621.7 346.2,621.6 347.2,621.6 348.1,621.7 349.0,621.8 349.9,621.9 350.8,622.1 351.8,622.3 352.7,622.6 353.8,623.0 354.8,623.4 356.0,624.0 357.4,624.6 358.9,625.4 360.8,626.5 363.4,628.0 367.5,630.5 429.3,668.6 429.3,668.6 429.4,671.4 429.5,674.3 429.5,677.2 429.6,680.0 429.6,682.9 429.6,685.8 429.7,688.6 429.7,691.5 429.7,694.4 429.7,697.3 322.0,741.5" fill="#98c62b"/>
<polygon points="246.5,685.1 246.4,682.1 246.3,679.1 246.2,676.1 246.2,673.2 246.1,670.2 246.1,667.3 246.1,664.4 246.2,661.5 246.3,658.6 246.6,655.9 248.7,655.2 322.3,628.9 328.0,626.9 331.6,625.7 334.2,624.9 336.4,624.2 338.2,623.7 339.7,623.3 341.2,623.0 342.5,622.8 343.7,622.6 344.8,622.5 345.9,622.4 347.0,622.4 348.0,622.5 349.1,622.6 350.1,622.7 351.1,622.9 352.2,623.2 353.2,623.5 354.4,624.0 355.6,624.4 356.9,625.0 358.4,625.8 360.1,626.7 362.3,627.9 365.1,629.5 369.5,632.2 428.8,668.8 428.8,668.8 428.9,671.6 429.0,674.5 429.1,677.4 429.1,680.2 429.1,683.1 429.2,686.0 429.2,688.8 429.2,691.7 429.2,694.6 429.3,697.5 322.0,741.5" fill="#9bc727"/>
<polygon points="246.7,685.3 246.6,682.3 246.6,679.3 246.5,676.4 246.5,673.4 246.5,670.5 246.5,667.5 246.5,664.6 246.6,661.8 246.7,658.9 247.1,656.3 248.2,655.9 319.0,630.6 325.3,628.4 329.3,627.0 332.2,626.1 334.6,625.4 336.7,624.8 338.5,624.4 340.1,624.0 341.6,623.8 343.0,623.6 344.3,623.4 345.5,623.4 346.7,623.4 347.9,623.4 349.1,623.5 350.3,623.7 351.4,623.9 352.6,624.2 353.9,624.6 355.2,625.1 356.6,625.6 358.1,626.3 359.8,627.1 361.7,628.2 364.1,629.5 367.2,631.3 372.1,634.3 428.3,669.0 428.3,669.0 428.4,671.8 428.5,674.7 428.6,677.5 428.6,680.4 428.7,683.3 428.7,686.1 428.8,689.0 428.8,691.9 428.8,694.8 428.8,697.6 322.0,741.5" fill="#9ec825"/>
<polygon points="247.0,685.5 246.9,682.5 246.8,679.5 246.8,676.6 246.8,673.6 246.8,670.7 246.8,667.8 246.9,664.9 247.0,662.1 247.1,659.3 247.5,656.6 248.0,656.4 314.7,632.6 321.7,630.2 326.2,628.7 329.6,627.6 332.3,626.8 334.7,626.1 336.8,625.6 338.6,625.2 340.4,624.9 342.0,624.7 343.5,624.5 345.0,624.5 346.4,624.5 347.8,624.5 349.2,624.7 350.5,624.9 351.9,625.1 353.3,625.5 354.7,625.9 356.2,626.4 357.9,627.1 359.6,627.9 361.5,628.8 363.8,630.0 366.4,631.5 370.0,633.5 375.5,636.9 427.8,669.2 427.8,669.2 428.0,672.0 428.0,674.9 428.1,677.7 428.2,680.6 428.2,683.5 428.3,686.3 428.3,689.2 428.3,692.1 428.4,694.9 428.4,697.8 322.0,741.5" fill="#a4cb22"/>
<polygon points="247.4,685.8 247.3,682.8 247.3,679.8 247.2,676.9 247.2,674.0 247.2,671.0 247.3,668.2 247.4,665.3 247.5,662.5 247.7,659.7 248.2,657.1 248.6,657.0 313.7,633.7 320.9,631.1 325.5,629.6 329.0,628.5 331.8,627.6 334.2,627.0 336.4,626.4 338.3,626.0 340.1,625.7 341.8,625.5 343.3,625.3 344.9,625.3 346.3,625.3 347.8,625.3 349.2,625.5 350.6,625.7 352.0,625.9 353.5,626.3 355.0,626.7 356.5,627.3 358.2,627.9 360.0,628.7 362.0,629.7 364.2,630.9 367.0,632.5 370.6,634.6 376.2,638.0 427.1,669.5 427.1,669.5 427.3,672.3 427.4,675.1 427.5,678.0 427.5,680.8 427.6,683.7 427.6,686.6 427.7,689.4 427.7,692.3 427.7,695.2 427.8,698.1 322.0,741.5" fill="#aad020"/>
<polygon points="247.8,686.1 247.7,683.1 247.7,680.1 247.6,677.2 247.6,674.3 247.7,671.4 247.8,668.5 247.9,665.7 248.0,662.8 248.3,660.1 248.8,657.6 249.1,657.5 312.7,634.7 320.0,632.1 324.7,630.5 328.3,629.4 331.2,628.5 333.7,627.8 335.9,627.3 337.9,626.9 339.8,626.5 341.5,626.3 343.2,626.2 344.7,626.1 346.3,626.1 347.7,626.1 349.2,626.3 350.7,626.5 352.1,626.8 353.6,627.1 355.2,627.6 356.8,628.2 358.5,628.8 360.4,629.7 362.4,630.7 364.8,631.9 367.6,633.5 371.3,635.6 377.0,639.1 426.5,669.7 426.5,669.7 426.7,672.6 426.8,675.4 426.8,678.2 426.9,681.1 427.0,684.0 427.0,686.8 427.1,689.7 427.1,692.6 427.1,695.4 427.1,698.3 322.0,741.5" fill="#b2d41e"/>
<polygon points="248.2,686.4 248.1,683.4 248.1,680.4 248.1,677.5 248.1,674.6 248.1,671.7 248.2,668.9 248.4,666.0 248.6,663.2 248.8,660.5 249.4,658.0 249.7,658.0 311.5,635.8 319.0,633.2 323.9,631.5 327.6,630.3 330.6,629.4 333.2,628.7 335.5,628.2 337.5,627.7 339.5,627.4 341.3,627.1 343.0,627.0 344.6,626.9 346.2,626.9 347.7,627.0 349.2,627.1 350.8,627.3 352.3,627.6 353.8,628.0 355.4,628.5 357.1,629.1 358.9,629.8 360.8,630.6 362.9,631.6 365.3,632.9 368.3,634.5 372.0,636.8 377.9,640.3 425.8,670.0 425.8,670.0 426.0,672.8 426.1,675.7 426.2,678.5 426.3,681.4 426.4,684.2 426.4,687.1 426.5,689.9 426.5,692.8 426.5,695.7 426.5,698.6 322.0,741.5" fill="#b9da1c"/>
<polygon points="248.6,686.7 248.5,683.7 248.5,680.7 248.5,677.8 248.5,674.9 248.6,672.1 248.7,669.2 248.9,666.4 249.1,663.6 249.4,660.9 250.1,658.5 250.2,658.4 310.3,636.9 318.0,634.2 323.0,632.5 326.8,631.3 329.9,630.4 332.6,629.6 334.9,629.1 337.1,628.6 339.1,628.3 341.0,628.0 342.7,627.8 344.4,627.7 346.1,627.7 347.7,627.8 349.3,627.9 350.8,628.2 352.4,628.5 354.1,628.9 355.7,629.4 357.4,630.0 359.3,630.7 361.3,631.6 363.5,632.6 366.0,633.9 369.0,635.6 372.8,637.9 378.8,641.5 425.1,670.3 425.1,670.3 425.4,673.1 425.5,675.9 425.6,678.8 425.7,681.6 425.7,684.5 425.8,687.3 425.8,690.2 425.9,693.1 425.9,695.9 425.9,698.8 322.0,741.5" fill="#c0de19"/>
<polygon points="249.0,687.0 248.9,684.0 248.9,681.0 248.9,678.1 248.9,675.2 249.0,672.4 249.2,669.6 249.4,666.8 249.6,664.0 250.0,661.4 250.7,659.0 250.8,658.9 309.0,638.1 316.8,635.3 322.0,633.6 325.9,632.3 329.1,631.3 331.9,630.6 334.4,630.0 336.6,629.5 338.7,629.1 340.6,628.9 342.5,628.7 344.2,628.6 346.0,628.6 347.6,628.7 349.3,628.8 350.9,629.1 352.6,629.4 354.3,629.8 356.0,630.3 357.8,630.9 359.7,631.7 361.8,632.6 364.0,633.7 366.6,635.0 369.7,636.7 373.7,639.1 379.8,642.8 424.5,670.5 424.5,670.5 424.7,673.3 424.8,676.2 424.9,679.0 425.0,681.9 425.1,684.7 425.2,687.6 425.2,690.5 425.3,693.3 425.3,696.2 425.3,699.1 322.0,741.5" fill="#c7e318"/>
<polygon points="249.4,687.3 249.3,684.3 249.3,681.4 249.3,678.4 249.4,675.6 249.5,672.7 249.7,669.9 249.9,667.1 250.1,664.4 250.5,661.8 251.3,659.4 251.4,659.4 307.5,639.2 315.6,636.4 320.9,634.6 324.9,633.3 328.3,632.3 331.1,631.5 333.7,630.9 336.0,630.4 338.2,630.1 340.2,629.8 342.2,629.6 344.0,629.5 345.8,629.5 347.6,629.6 349.3,629.7 351.0,630.0 352.8,630.3 354.5,630.7 356.3,631.2 358.2,631.9 360.2,632.7 362.3,633.6 364.7,634.7 367.4,636.1 370.5,637.9 374.6,640.3 380.8,644.1 423.8,670.8 423.8,670.8 424.1,673.6 424.2,676.4 424.3,679.3 424.4,682.1 424.5,685.0 424.5,687.8 424.6,690.7 424.7,693.6 424.7,696.4 424.7,699.3 322.0,741.5" fill="#d1e717"/>
<polygon points="249.7,687.6 249.7,684.6 249.7,681.7 249.7,678.8 249.8,675.9 249.9,673.1 250.1,670.3 250.4,667.5 250.7,664.8 251.1,662.2 252.0,659.9 252.0,659.9 305.9,640.5 314.2,637.6 319.6,635.7 323.8,634.4 327.3,633.4 330.3,632.6 333.0,631.9 335.4,631.4 337.7,631.0 339.8,630.7 341.8,630.5 343.8,630.4 345.7,630.4 347.5,630.5 349.3,630.7 351.1,630.9 353.0,631.2 354.8,631.7 356.7,632.2 358.6,632.9 360.7,633.7 362.9,634.7 365.4,635.9 368.2,637.3 371.4,639.1 375.7,641.6 382.0,645.5 423.1,671.1 423.1,671.1 423.4,673.9 423.6,676.7 423.7,679.5 423.8,682.4 423.9,685.2 423.9,688.1 424.0,691.0 424.0,693.8 424.1,696.7 424.1,699.6 322.0,741.5" fill="#dbec16"/>
<polygon points="250.1,687.9 250.1,684.9 250.1,682.0 250.1,679.1 250.2,676.2 250.4,673.4 250.6,670.6 250.9,667.9 251.2,665.2 251.7,662.6 252.6,660.4 252.6,660.4 304.2,641.8 312.7,638.8 318.3,636.9 322.6,635.5 326.2,634.5 329.4,633.6 332.2,632.9 334.7,632.4 337.1,632.0 339.4,631.7 341.5,631.5 343.5,631.4 345.5,631.4 347.4,631.4 349.3,631.6 351.2,631.9 353.2,632.2 355.1,632.7 357.1,633.3 359.1,634.0 361.3,634.8 363.6,635.8 366.2,637.0 369.0,638.5 372.4,640.4 376.8,643.0 383.2,646.9 422.5,671.3 422.5,671.3 422.8,674.1 422.9,677.0 423.0,679.8 423.1,682.6 423.2,685.5 423.3,688.3 423.4,691.2 423.4,694.1 423.5,696.9 423.5,699.8 322.0,741.5" fill="#e4f016"/>
<polygon points="250.5,688.1 250.5,685.2 250.5,682.3 250.6,679.4 250.7,676.5 250.8,673.7 251.1,671.0 251.4,668.3 251.7,665.6 252.2,663.0 253.2,660.8 253.2,660.8 302.3,643.1 311.0,640.1 316.8,638.1 321.3,636.7 325.1,635.6 328.3,634.7 331.3,634.0 334.0,633.4 336.5,633.0 338.8,632.7 341.1,632.5 343.2,632.4 345.3,632.4 347.3,632.4 349.4,632.6 351.4,632.9 353.4,633.3 355.4,633.8 357.5,634.4 359.7,635.1 361.9,636.0 364.4,637.0 367.0,638.3 370.0,639.8 373.5,641.8 378.0,644.4 384.6,648.4 421.8,671.6 421.8,671.6 422.1,674.4 422.3,677.2 422.4,680.0 422.5,682.9 422.6,685.7 422.7,688.6 422.8,691.5 422.8,694.3 422.9,697.2 422.9,700.1 322.0,741.5" fill="#f0f212"/>
<polygon points="250.9,688.4 250.9,685.5 250.9,682.6 251.0,679.7 251.1,676.9 251.3,674.1 251.5,671.3 251.9,668.6 252.3,666.0 252.8,663.5 253.9,661.3 253.9,661.3 300.3,644.6 309.1,641.5 315.1,639.4 319.8,638.0 323.7,636.8 327.2,635.9 330.2,635.1 333.1,634.5 335.7,634.1 338.2,633.8 340.6,633.5 342.8,633.4 345.1,633.4 347.2,633.5 349.4,633.7 351.5,634.0 353.6,634.4 355.8,634.9 358.0,635.5 360.3,636.3 362.7,637.2 365.2,638.3 368.0,639.6 371.1,641.2 374.8,643.2 379.4,645.9 386.1,650.0 421.1,671.9 421.1,671.9 421.5,674.6 421.6,677.5 421.8,680.3 421.9,683.1 422.0,686.0 422.1,688.8 422.1,691.7 422.2,694.6 422.2,697.4 422.3,700.3 322.0,741.5" fill="#faf20c"/>
<polygon points="251.3,688.7 251.2,685.8 251.3,682.9 251.4,680.0 251.5,677.2 251.7,674.4 252.0,671.7 252.3,669.0 252.8,666.4 253.4,663.9 254.5,661.8 254.5,661.8 299.3,645.6 308.2,642.5 314.3,640.4 319.0,638.9 323.1,637.7 326.6,636.8 329.7,636.0 332.6,635.4 335.4,635.0 337.9,634.6 340.4,634.4 342.7,634.3 345.0,634.3 347.2,634.3 349.4,634.5 351.6,634.8 353.8,635.2 356.0,635.7 358.3,636.4 360.6,637.2 363.1,638.1 365.7,639.2 368.5,640.6 371.7,642.2 375.4,644.2 380.1,647.0 386.8,651.1 420.5,672.1 420.5,672.1 420.9,674.9 421.1,677.7 421.2,680.5 421.3,683.4 421.5,686.2 421.6,689.1 421.6,691.9 421.7,694.8 421.7,697.6 421.8,700.5 322.0,741.5" fill="#fce20c"/>
<polygon points="251.7,689.0 251.6,686.0 251.7,683.1 251.8,680.3 252.0,677.5 252.2,674.7 252.5,672.0 252.8,669.4 253.3,666.8 253.9,664.3 255.1,662.3 255.1,662.3 298.2,646.7 307.2,643.5 313.4,641.4 318.2,639.9 322.4,638.7 326.0,637.7 329.2,636.9 332.2,636.3 335.0,635.8 337.6,635.5 340.1,635.3 342.5,635.1 344.9,635.1 347.2,635.2 349.5,635.4 351.7,635.7 354.0,636.1 356.3,636.6 358.6,637.3 361.0,638.1 363.6,639.0 366.2,640.2 369.1,641.5 372.4,643.2 376.1,645.3 380.8,648.0 387.6,652.2 419.9,672.4 419.9,672.4 420.3,675.1 420.5,677.9 420.7,680.7 420.8,683.6 420.9,686.4 421.0,689.3 421.1,692.1 421.2,695.0 421.2,697.9 421.3,700.7 322.0,741.5" fill="#fcd30d"/>
<polygon points="252.0,689.3 252.0,686.3 252.1,683.4 252.2,680.6 252.4,677.8 252.6,675.1 252.9,672.4 253.3,669.7 253.8,667.2 254.5,664.7 255.8,662.7 255.8,662.7 297.1,647.8 306.2,644.6 312.4,642.5 317.4,640.9 321.6,639.7 325.3,638.7 328.6,637.9 331.7,637.2 334.6,636.8 337.3,636.4 339.9,636.2 342.4,636.0 344.8,636.0 347.2,636.1 349.5,636.3 351.9,636.6 354.2,637.0 356.6,637.6 359.0,638.2 361.4,639.0 364.0,640.0 366.8,641.2 369.7,642.6 373.0,644.3 376.9,646.4 381.6,649.1 388.5,653.3 419.3,672.6 419.3,672.6 419.7,675.3 419.9,678.1 420.1,681.0 420.3,683.8 420.4,686.6 420.5,689.5 420.6,692.3 420.7,695.2 420.7,698.1 420.8,700.9 322.0,741.5" fill="#fdc20e"/>
<polygon points="252.4,689.6 252.4,686.6 252.5,683.7 252.6,680.9 252.8,678.1 253.1,675.4 253.4,672.7 253.8,670.1 254.3,667.5 255.0,665.1 256.4,663.2 256.4,663.2 295.9,648.9 305.1,645.7 311.4,643.5 316.5,641.9 320.7,640.7 324.5,639.7 328.0,638.8 331.1,638.2 334.1,637.7 336.9,637.3 339.6,637.1 342.2,636.9 344.7,636.9 347.1,637.0 349.6,637.2 352.0,637.5 354.4,638.0 356.8,638.5 359.3,639.2 361.9,640.0 364.5,641.0 367.4,642.2 370.4,643.6 373.8,645.3 377.7,647.5 382.5,650.3 389.3,654.4 418.7,672.9 418.7,672.9 419.1,675.6 419.4,678.4 419.6,681.2 419.7,684.0 419.9,686.8 420.0,689.7 420.1,692.5 420.2,695.4 420.2,698.3 420.3,701.1 322.0,741.5" fill="#feb20e"/>
<polygon points="252.8,689.9 252.8,686.9 252.9,684.0 253.0,681.2 253.2,678.4 253.5,675.7 253.9,673.1 254.3,670.5 254.9,667.9 255.6,665.5 257.0,663.7 257.0,663.7 294.7,650.0 303.9,646.8 310.3,644.6 315.4,643.0 319.8,641.7 323.7,640.7 327.3,639.8 330.5,639.2 333.6,638.7 336.5,638.3 339.3,638.0 341.9,637.9 344.5,637.9 347.1,638.0 349.6,638.2 352.1,638.5 354.6,638.9 357.1,639.5 359.7,640.2 362.3,641.0 365.1,642.1 368.0,643.3 371.1,644.7 374.5,646.5 378.5,648.6 383.4,651.4 390.2,655.6 418.1,673.1 418.1,673.1 418.6,675.8 418.8,678.6 419.0,681.4 419.2,684.2 419.3,687.1 419.5,689.9 419.6,692.8 419.7,695.6 419.7,698.5 419.8,701.3 322.0,741.5" fill="#fca20f"/>
<polygon points="253.2,690.1 253.2,687.2 253.3,684.3 253.4,681.5 253.7,678.8 254.0,676.1 254.3,673.4 254.8,670.8 255.4,668.3 256.2,666.0 257.7,664.1 257.7,664.1 293.4,651.2 302.6,647.9 309.1,645.7 314.3,644.1 318.8,642.8 322.8,641.7 326.5,640.9 329.8,640.2 333.0,639.7 336.0,639.3 338.9,639.0 341.7,638.9 344.4,638.8 347.0,638.9 349.7,639.1 352.3,639.5 354.8,639.9 357.5,640.5 360.1,641.2 362.8,642.1 365.7,643.1 368.6,644.4 371.8,645.8 375.4,647.6 379.4,649.8 384.3,652.7 391.2,656.8 417.5,673.4 417.5,673.4 418.0,676.0 418.3,678.8 418.5,681.6 418.7,684.5 418.8,687.3 419.0,690.1 419.1,693.0 419.2,695.8 419.2,698.7 419.3,701.6 322.0,741.5" fill="#fa9210"/>
<polygon points="253.6,690.4 253.6,687.5 253.7,684.6 253.8,681.8 254.1,679.1 254.4,676.4 254.8,673.8 255.3,671.2 255.9,668.7 256.7,666.4 258.3,664.6 258.3,664.6 292.0,652.4 301.2,649.1 307.8,646.9 313.2,645.2 317.8,643.9 321.9,642.8 325.6,641.9 329.1,641.2 332.4,640.7 335.5,640.3 338.5,640.0 341.4,639.9 344.2,639.8 347.0,639.9 349.7,640.1 352.4,640.5 355.1,640.9 357.8,641.5 360.6,642.3 363.4,643.2 366.3,644.2 369.4,645.5 372.6,647.0 376.2,648.8 380.3,651.0 385.3,653.9 392.1,658.1 416.9,673.6 416.9,673.6 417.4,676.3 417.7,679.1 417.9,681.9 418.1,684.7 418.3,687.5 418.4,690.3 418.6,693.2 418.7,696.0 418.7,698.9 418.8,701.8 322.0,741.5" fill="#f78211"/>
<polygon points="254.0,690.7 253.9,687.8 254.1,684.9 254.3,682.1 254.5,679.4 254.9,676.7 255.3,674.1 255.8,671.6 256.4,669.1 257.3,666.8 258.9,665.1 258.9,665.1 290.5,653.6 299.7,650.4 306.4,648.1 311.9,646.4 316.6,645.0 320.8,643.9 324.7,643.0 328.3,642.3 331.7,641.8 334.9,641.3 338.0,641.1 341.1,640.9 344.0,640.9 346.9,641.0 349.7,641.2 352.5,641.5 355.3,642.0 358.2,642.6 361.0,643.4 364.0,644.3 367.0,645.4 370.1,646.7 373.5,648.2 377.2,650.0 381.3,652.3 386.4,655.2 393.2,659.3 416.3,673.8 416.3,673.8 416.8,676.5 417.1,679.3 417.4,682.1 417.6,684.9 417.8,687.7 417.9,690.5 418.1,693.4 418.2,696.2 418.2,699.1 418.3,702.0 322.0,741.5" fill="#f67512"/>
<polygon points="254.3,691.0 254.3,688.1 254.5,685.2 254.7,682.4 254.9,679.7 255.3,677.1 255.7,674.5 256.3,671.9 257.0,669.5 257.9,667.2 259.5,665.5 259.5,665.5 288.9,654.9 298.1,651.6 304.9,649.4 310.4,647.6 315.3,646.2 319.6,645.1 323.6,644.2 327.4,643.5 330.9,642.9 334.3,642.4 337.5,642.2 340.7,642.0 343.7,642.0 346.8,642.1 349.7,642.3 352.7,642.7 355.6,643.1 358.6,643.8 361.5,644.6 364.6,645.5 367.7,646.6 371.0,647.9 374.4,649.5 378.2,651.3 382.4,653.6 387.5,656.5 394.3,660.6 415.7,674.1 415.7,674.1 416.2,676.7 416.6,679.5 416.8,682.3 417.1,685.1 417.2,687.9 417.4,690.7 417.5,693.6 417.7,696.4 417.7,699.3 417.8,702.2 322.0,741.5" fill="#f36913"/>
<polygon points="254.7,691.3 254.7,688.3 254.9,685.5 255.1,682.7 255.4,680.0 255.7,677.4 256.2,674.8 256.8,672.3 257.5,669.9 258.4,667.6 260.2,666.0 260.2,666.0 287.3,656.2 296.4,653.0 303.2,650.7 308.9,648.9 313.8,647.5 318.3,646.4 322.5,645.4 326.3,644.7 330.0,644.1 333.5,643.6 336.9,643.3 340.2,643.2 343.5,643.1 346.6,643.2 349.7,643.5 352.8,643.8 355.9,644.3 359.0,645.0 362.1,645.8 365.3,646.7 368.5,647.9 371.9,649.2 375.5,650.8 379.3,652.7 383.6,655.0 388.7,657.9 395.4,662.0 415.0,674.3 415.0,674.3 415.7,677.0 416.0,679.7 416.3,682.5 416.5,685.3 416.7,688.1 416.9,691.0 417.0,693.8 417.1,696.6 417.2,699.5 417.3,702.4 322.0,741.5" fill="#dd2117"/>
<polygon points="256.0,692.2 256.1,689.4 256.5,686.8 257.1,684.3 257.9,681.9 258.9,679.7 260.1,677.7 261.5,675.8 263.4,674.2 265.7,673.1 270.5,673.6 270.5,673.6 290.4,666.3 298.0,663.6 303.8,661.6 308.7,660.1 313.1,658.8 317.0,657.8 320.7,657.0 324.2,656.3 327.5,655.8 330.7,655.4 333.8,655.1 336.7,655.0 339.7,654.9 342.5,655.0 345.4,655.2 348.2,655.6 351.0,656.0 353.7,656.6 356.5,657.3 359.4,658.2 362.3,659.2 365.3,660.4 368.4,661.8 371.8,663.5 375.4,665.5 379.7,668.0 385.2,671.4 399.5,680.6 399.5,680.6 404.5,681.5 407.0,683.4 409.0,685.4 410.7,687.7 412.1,690.0 413.2,692.5 414.2,695.0 414.9,697.6 415.5,700.2 415.7,703.0 322.0,741.5" fill="#dc1d17"/>
<polygon points="257.3,693.2 257.5,690.4 258.0,687.9 258.9,685.6 260.1,683.6 261.6,681.8 263.5,680.2 265.8,679.0 268.7,678.2 272.6,678.2 280.7,681.3 280.7,681.3 294.4,676.1 300.4,674.0 305.1,672.4 309.1,671.1 312.8,670.1 316.1,669.2 319.3,668.5 322.3,667.9 325.2,667.5 328.0,667.1 330.6,666.9 333.3,666.8 335.8,666.8 338.4,666.9 340.9,667.0 343.3,667.3 345.8,667.7 348.2,668.2 350.6,668.8 353.1,669.6 355.6,670.5 358.1,671.5 360.8,672.7 363.6,674.1 366.6,675.7 370.0,677.7 374.3,680.4 384.0,686.8 384.0,686.8 394.1,685.7 398.9,686.6 402.6,688.0 405.6,689.7 408.0,691.7 410.1,693.7 411.7,696.0 412.9,698.4 413.8,700.9 414.2,703.6 322.0,741.5" fill="#da1918"/>
<polygon points="258.6,694.2 258.8,691.4 259.5,689.0 260.6,686.9 262.1,685.0 264.0,683.6 266.5,682.5 269.6,681.8 273.5,681.8 278.9,682.9 291.0,688.9 291.0,688.9 299.4,685.7 303.7,684.1 307.2,683.0 310.4,682.0 313.2,681.2 315.9,680.5 318.4,679.9 320.9,679.5 323.2,679.1 325.5,678.8 327.7,678.7 329.9,678.6 332.0,678.6 334.1,678.6 336.2,678.8 338.2,679.0 340.3,679.3 342.3,679.7 344.3,680.2 346.3,680.8 348.3,681.5 350.4,682.3 352.5,683.3 354.7,684.4 357.0,685.6 359.5,687.1 362.6,689.1 368.4,693.1 368.4,693.1 384.4,689.6 391.6,689.6 396.9,690.3 401.2,691.5 404.6,693.1 407.3,694.9 409.5,696.9 411.1,699.1 412.2,701.6 412.6,704.3 322.0,741.5" fill="#d71717"/>
<polygon points="259.9,695.1 260.1,692.3 260.8,690.0 262.1,688.0 263.9,686.4 266.2,685.2 269.2,684.5 273.0,684.4 277.9,685.1 284.8,687.3 301.3,696.5 301.3,696.5 305.6,694.9 308.2,693.9 310.5,693.1 312.6,692.5 314.6,692.0 316.5,691.5 318.3,691.1 320.1,690.8 321.8,690.5 323.5,690.4 325.1,690.2 326.7,690.2 328.3,690.2 329.9,690.2 331.4,690.3 333.0,690.5 334.5,690.7 336.0,691.0 337.5,691.4 338.9,691.8 340.4,692.3 341.9,692.9 343.3,693.5 344.8,694.2 346.4,695.1 348.0,696.1 349.9,697.3 352.9,699.3 352.9,699.3 375.4,693.2 385.0,692.3 391.9,692.4 397.2,693.1 401.5,694.3 404.9,695.8 407.5,697.7 409.4,699.8 410.6,702.2 411.1,704.9 322.0,741.5" fill="#d41616"/>
<polygon points="261.2,696.1 261.4,693.3 262.1,691.0 263.5,689.0 265.5,687.6 268.1,686.6 271.6,686.2 276.1,686.6 282.0,688.1 290.3,691.4 311.5,704.2 311.5,704.2 313.0,703.6 314.2,703.2 315.3,702.8 316.3,702.5 317.3,702.3 318.3,702.0 319.3,701.8 320.2,701.7 321.2,701.5 322.1,701.5 323.0,701.4 323.9,701.4 324.8,701.4 325.7,701.4 326.6,701.5 327.5,701.6 328.3,701.7 329.2,701.8 330.0,702.0 330.8,702.2 331.6,702.5 332.4,702.8 333.2,703.1 334.0,703.5 334.7,703.9 335.5,704.3 336.3,704.8 337.3,705.6 337.3,705.6 367.1,696.5 379.0,694.7 387.4,694.2 393.8,694.5 398.8,695.4 402.7,696.7 405.7,698.4 407.8,700.5 409.1,702.8 409.5,705.6 322.0,741.5" fill="#d01515"/>
<polygon points="262.5,697.0 262.6,694.2 263.4,691.9 264.8,690.0 267.0,688.7 269.9,687.9 273.8,687.9 278.8,688.7 285.6,690.8 295.5,695.2 321.8,711.8 321.8,711.8 359.4,699.7 373.5,696.9 383.3,695.8 390.7,695.8 396.4,696.4 400.8,697.5 404.0,699.1 406.2,701.1 407.5,703.5 408.0,706.2 322.0,741.5" fill="#cb1414"/>
<polygon points="263.7,698.0 263.9,695.3 264.7,693.1 266.1,691.3 268.2,690.0 271.0,689.3 274.8,689.3 279.8,690.2 286.4,692.3 296.1,696.6 321.8,712.9 321.8,712.9 358.7,700.9 372.6,698.1 382.2,697.1 389.5,696.9 395.1,697.5 399.4,698.5 402.5,700.0 404.7,701.9 406.0,704.2 406.4,706.8 322.0,741.5" fill="#c41111"/>
<polygon points="265.0,699.0 265.2,696.4 266.0,694.2 267.3,692.6 269.4,691.4 272.2,690.7 275.9,690.8 280.7,691.7 287.2,693.8 296.7,698.1 321.8,714.0 321.8,714.0 358.0,702.2 371.6,699.4 381.1,698.3 388.3,698.1 393.7,698.6 397.9,699.5 401.0,701.0 403.2,702.8 404.5,705.0 404.9,707.5 322.0,741.5" fill="#ba1111"/>
<polygon points="266.3,699.9 266.5,697.5 267.2,695.4 268.6,693.8 270.6,692.7 273.3,692.1 277.0,692.2 281.7,693.1 288.1,695.3 297.2,699.5 321.8,715.1 321.8,715.1 357.3,703.4 370.7,700.7 380.0,699.5 387.0,699.2 392.4,699.7 396.5,700.6 399.6,701.9 401.7,703.6 402.9,705.7 403.3,708.1 322.0,741.5" fill="#a91010"/>
<polygon points="267.6,700.9 267.8,698.5 268.5,696.6 269.8,695.1 271.8,694.0 274.5,693.5 278.0,693.7 282.7,694.6 288.9,696.7 297.8,700.9 321.8,716.3 321.8,716.3 356.7,704.7 369.8,701.9 378.9,700.7 385.8,700.4 391.1,700.7 395.1,701.6 398.1,702.8 400.2,704.5 401.4,706.4 401.8,708.7 322.0,741.5" fill="#9c1010"/>
<polygon points="274.6,706.1 274.8,704.0 275.4,702.3 276.6,701.0 278.3,700.1 280.6,699.6 283.7,699.7 287.8,700.5 293.2,702.4 301.0,706.0 321.9,719.3 321.9,719.3 352.2,709.3 363.6,706.8 371.6,705.8 377.6,705.6 382.2,705.9 385.7,706.6 388.3,707.7 390.1,709.2 391.2,710.9 391.5,713.0 322.0,741.5" fill="#931010"/>
<polygon points="281.6,711.3 281.7,709.6 282.3,708.1 283.3,706.9 284.8,706.1 286.8,705.7 289.4,705.8 292.8,706.5 297.4,708.0 304.1,711.1 321.9,722.4 321.9,722.4 347.7,713.8 357.5,711.8 364.3,710.9 369.4,710.7 373.3,711.0 376.3,711.7 378.5,712.6 380.1,713.9 381.0,715.4 381.3,717.2 322.0,741.5" fill="#8c1010"/>
<polygon points="288.6,716.6 288.7,715.1 289.2,713.8 290.0,712.8 291.2,712.2 292.9,711.8 295.1,711.8 297.9,712.4 301.7,713.6 307.2,716.1 321.9,725.5 321.9,725.5 343.3,718.4 351.3,716.7 356.9,716.0 361.2,715.9 364.4,716.1 366.9,716.7 368.7,717.5 370.0,718.6 370.8,719.9 371.0,721.4 322.0,741.5" fill="#831010"/>
<polygon points="295.6,721.8 295.7,720.6 296.1,719.6 296.7,718.8 297.7,718.2 299.0,717.9 300.7,717.9 303.0,718.3 306.0,719.2 310.3,721.2 321.9,728.5 321.9,728.5 338.8,722.9 345.2,721.6 349.6,721.1 353.0,721.0 355.5,721.3 357.5,721.8 358.9,722.5 360.0,723.3 360.5,724.4 360.7,725.6 322.0,741.5" fill="#7e1010"/>
<polygon points="302.6,727.0 302.7,726.1 302.9,725.3 303.4,724.7 304.1,724.2 305.1,724.0 306.4,723.9 308.0,724.2 310.2,724.8 313.4,726.2 321.9,731.6 321.9,731.6 334.4,727.5 339.0,726.6 342.3,726.2 344.8,726.2 346.6,726.4 348.1,726.8 349.2,727.4 349.9,728.1 350.3,728.9 350.5,729.8 322.0,741.5" fill="#781010"/>
<polygon points="309.6,732.2 309.6,731.6 309.8,731.0 310.1,730.6 310.6,730.2 311.2,730.0 312.0,730.0 313.1,730.1 314.5,730.4 316.5,731.3 322.0,734.6 322.0,734.6 329.9,732.1 332.9,731.5 335.0,731.4 336.6,731.4 337.8,731.6 338.7,731.9 339.4,732.3 339.9,732.8 340.1,733.4 340.2,734.0 322.0,741.5" fill="#711111"/>
<polygon points="316.6,737.4 316.6,737.1 316.7,736.8 316.8,736.5 317.0,736.3 317.3,736.1 317.6,736.0 318.1,735.9 318.7,736.0 319.6,736.3 322.0,737.7 322.0,737.7 325.5,736.7 326.8,736.5 327.7,736.5 328.4,736.6 328.9,736.8 329.3,737.0 329.6,737.2 329.8,737.5 329.9,737.9 330.0,738.2 322.0,741.5" fill="#6f1111"/>
<polyline points="242.8,653.1 321.8,711.8 432.8,667.2" fill="none" stroke="#000" stroke-opacity="0.22" stroke-width="0.9"/>
<line x1="321.8" y1="711.8" x2="322.0" y2="741.5" stroke="#000" stroke-opacity="0.15" stroke-width="0.9"/>
<polyline points="247.0,685.5 246.9,682.5 246.8,679.5 246.8,676.6 246.8,673.6 246.8,670.7 246.8,667.8 246.9,664.9 247.0,662.1 247.1,659.3 247.5,656.6 248.0,656.4 314.7,632.6 321.7,630.2 326.2,628.7 329.6,627.6 332.3,626.8 334.7,626.1 336.8,625.6 338.6,625.2 340.4,624.9 342.0,624.7 343.5,624.5 345.0,624.5 346.4,624.5 347.8,624.5 349.2,624.7 350.5,624.9 351.9,625.1 353.3,625.5 354.7,625.9 356.2,626.4 357.9,627.1 359.6,627.9 361.5,628.8 363.8,630.0 366.4,631.5 370.0,633.5 375.5,636.9 427.8,669.2 427.8,669.2 428.0,672.0 428.0,674.9 428.1,677.7 428.2,680.6 428.2,683.5 428.3,686.3 428.3,689.2 428.3,692.1 428.4,694.9 428.4,697.8" fill="none" stroke="#ffd8c0" stroke-opacity="0.75" stroke-width="1.1" stroke-linejoin="round"/>
<polyline points="254.7,691.3 254.7,688.3 254.9,685.5 255.1,682.7 255.4,680.0 255.7,677.4 256.2,674.8 256.8,672.3 257.5,669.9 258.4,667.6 260.2,666.0 260.2,666.0 287.3,656.2 296.4,653.0 303.2,650.7 308.9,648.9 313.8,647.5 318.3,646.4 322.5,645.4 326.3,644.7 330.0,644.1 333.5,643.6 336.9,643.3 340.2,643.2 343.5,643.1 346.6,643.2 349.7,643.5 352.8,643.8 355.9,644.3 359.0,645.0 362.1,645.8 365.3,646.7 368.5,647.9 371.9,649.2 375.5,650.8 379.3,652.7 383.6,655.0 388.7,657.9 395.4,662.0 415.0,674.3 415.0,674.3 415.7,677.0 416.0,679.7 416.3,682.5 416.5,685.3 416.7,688.1 416.9,691.0 417.0,693.8 417.1,696.6 417.2,699.5 417.3,702.4" fill="none" stroke="#ffd8c0" stroke-opacity="0.75" stroke-width="1.1" stroke-linejoin="round"/>
<polyline points="267.6,700.9 267.8,698.5 268.5,696.6 269.8,695.1 271.8,694.0 274.5,693.5 278.0,693.7 282.7,694.6 288.9,696.7 297.8,700.9 321.8,716.3 321.8,716.3 356.7,704.7 369.8,701.9 378.9,700.7 385.8,700.4 391.1,700.7 395.1,701.6 398.1,702.8 400.2,704.5 401.4,706.4 401.8,708.7" fill="none" stroke="#ffd8c0" stroke-opacity="0.75" stroke-width="1.1" stroke-linejoin="round"/>
</g>
<polygon points="348.6,615.6 432.8,667.2 432.8,696.0 322.0,741.5 244.3,683.5 242.8,653.1" fill="none" stroke="#2a1010" stroke-width="1.1" stroke-linejoin="round"/><line x1="200.2" y1="550.8" x2="200.2" y2="566.8" stroke="#8a8a8a" stroke-width="1"/><line x1="150.2" y1="571.4" x2="150.2" y2="586.4" stroke="#8a8a8a" stroke-width="1"/><text x="189.6" y="576.3" font-size="11.2" fill="#2a2a2a" textLength="19.2" lengthAdjust="spacingAndGlyphs">203</text><text x="139.8" y="597.8" font-size="11.2" fill="#2a2a2a" textLength="18.8" lengthAdjust="spacingAndGlyphs">204</text><line x1="427.0" y1="548.4" x2="427.0" y2="554.6" stroke="#8a8a8a" stroke-width="1"/><line x1="407.8" y1="556.2" x2="407.8" y2="566.2" stroke="#8a8a8a" stroke-width="1"/><line x1="385.0" y1="565.6" x2="385.0" y2="580" stroke="#8a8a8a" stroke-width="1"/><text x="416.2" y="565.4" font-size="11.2" fill="#2a2a2a" textLength="18.4" lengthAdjust="spacingAndGlyphs">211</text><text x="397.7" y="576.9" font-size="11.2" fill="#2a2a2a" textLength="19.2" lengthAdjust="spacingAndGlyphs">216</text><text x="375.1" y="591.5" font-size="11.2" fill="#2a2a2a" textLength="19.1" lengthAdjust="spacingAndGlyphs">218</text><line x1="205.6" y1="697.7" x2="205.6" y2="706.2" stroke="#8a8a8a" stroke-width="1"/><line x1="190.1" y1="704.1" x2="190.1" y2="720.6" stroke="#8a8a8a" stroke-width="1"/><line x1="170.1" y1="712.3" x2="170.1" y2="731.2" stroke="#8a8a8a" stroke-width="1"/><text x="196.0" y="717.7" font-size="11.2" fill="#2a2a2a" textLength="18.6" lengthAdjust="spacingAndGlyphs">287</text><text x="180.0" y="731.2" font-size="11.2" fill="#2a2a2a" textLength="18.8" lengthAdjust="spacingAndGlyphs">329</text><text x="160.8" y="742.7" font-size="11.2" fill="#2a2a2a" textLength="18.8" lengthAdjust="spacingAndGlyphs">350</text><line x1="428.4" y1="697.8" x2="428.4" y2="706.2" stroke="#8a8a8a" stroke-width="1"/><line x1="417.3" y1="702.4" x2="417.3" y2="717.7" stroke="#8a8a8a" stroke-width="1"/><line x1="401.8" y1="708.7" x2="401.8" y2="730.2" stroke="#8a8a8a" stroke-width="1"/><text x="419.8" y="717.4" font-size="11.2" fill="#2a2a2a" textLength="18.2" lengthAdjust="spacingAndGlyphs">321</text><text x="407.3" y="729.3" font-size="11.2" fill="#2a2a2a" textLength="18.9" lengthAdjust="spacingAndGlyphs">386</text><text x="392.3" y="740.9" font-size="11.2" fill="#2a2a2a" textLength="19.2" lengthAdjust="spacingAndGlyphs">419</text><text x="18" y="464" font-size="13.6" fill="#1a1a1a" textLength="81.4" lengthAdjust="spacingAndGlyphs"><tspan font-style="italic">c</tspan>-BCB/BNNS</text><text x="242.2" y="464.6" font-size="13.6" fill="#1a1a1a">PEI</text><text x="18.6" y="619" font-size="13.6" fill="#1a1a1a">FPE</text><text x="242.2" y="619.4" font-size="13.6" fill="#1a1a1a" textLength="43.5" lengthAdjust="spacingAndGlyphs">Kapton</text><defs><linearGradient id="cbar" x1="0" y1="0" x2="0" y2="1"><stop offset="0.0000" stop-color="#4a1515"/><stop offset="0.0498" stop-color="#7a1515"/><stop offset="0.0877" stop-color="#b01818"/><stop offset="0.1255" stop-color="#c82020"/><stop offset="0.1638" stop-color="#d84020"/><stop offset="0.2017" stop-color="#e06020"/><stop offset="0.2396" stop-color="#e88020"/><stop offset="0.2774" stop-color="#f0a820"/><stop offset="0.3153" stop-color="#f0d020"/><stop offset="0.3383" stop-color="#f0e820"/><stop offset="0.3609" stop-color="#e0e828"/><stop offset="0.4102" stop-color="#c0d828"/><stop offset="0.4860" stop-color="#9cc030"/><stop offset="0.5770" stop-color="#88b840"/><stop offset="0.6566" stop-color="#70a848"/><stop offset="0.7328" stop-color="#5aa060"/><stop offset="0.7855" stop-color="#58a890"/><stop offset="0.8387" stop-color="#58b0c8"/><stop offset="0.8843" stop-color="#50a8e8"/><stop offset="0.9221" stop-color="#4080d8"/><stop offset="0.9528" stop-color="#3860c0"/><stop offset="0.9791" stop-color="#283c90"/><stop offset="1.0000" stop-color="#1a2060"/></linearGradient></defs><rect x="460.6" y="467.2" width="8.8" height="263.3" fill="url(#cbar)" stroke="#333" stroke-width="0.6"/><text x="472.9" y="472.2" font-size="11" fill="#2a2a2a" textLength="36.3" lengthAdjust="spacingAndGlyphs">435 &#176;C</text><line x1="460.6" y1="506.4" x2="462.20000000000005" y2="506.4" stroke="#333" stroke-width="0.8"/><line x1="467.79999999999995" y1="506.4" x2="469.4" y2="506.4" stroke="#333" stroke-width="0.8"/><text x="472.9" y="509.7" font-size="11" fill="#2a2a2a" textLength="36.3" lengthAdjust="spacingAndGlyphs">400 &#176;C</text><line x1="460.6" y1="562.4" x2="462.20000000000005" y2="562.4" stroke="#333" stroke-width="0.8"/><line x1="467.79999999999995" y1="562.4" x2="469.4" y2="562.4" stroke="#333" stroke-width="0.8"/><text x="472.9" y="565.8" font-size="11" fill="#2a2a2a" textLength="36.3" lengthAdjust="spacingAndGlyphs">350 &#176;C</text><line x1="460.6" y1="618.5" x2="462.20000000000005" y2="618.5" stroke="#333" stroke-width="0.8"/><line x1="467.79999999999995" y1="618.5" x2="469.4" y2="618.5" stroke="#333" stroke-width="0.8"/><text x="472.9" y="623.3" font-size="11" fill="#2a2a2a" textLength="36.3" lengthAdjust="spacingAndGlyphs">300 &#176;C</text><line x1="460.6" y1="674.5" x2="462.20000000000005" y2="674.5" stroke="#333" stroke-width="0.8"/><line x1="467.79999999999995" y1="674.5" x2="469.4" y2="674.5" stroke="#333" stroke-width="0.8"/><text x="472.9" y="677.9" font-size="11" fill="#2a2a2a" textLength="36.3" lengthAdjust="spacingAndGlyphs">250 &#176;C</text><text x="472.9" y="733.4" font-size="11" fill="#2a2a2a" textLength="36.3" lengthAdjust="spacingAndGlyphs">200 &#176;C</text>
</svg>
</body></html>
